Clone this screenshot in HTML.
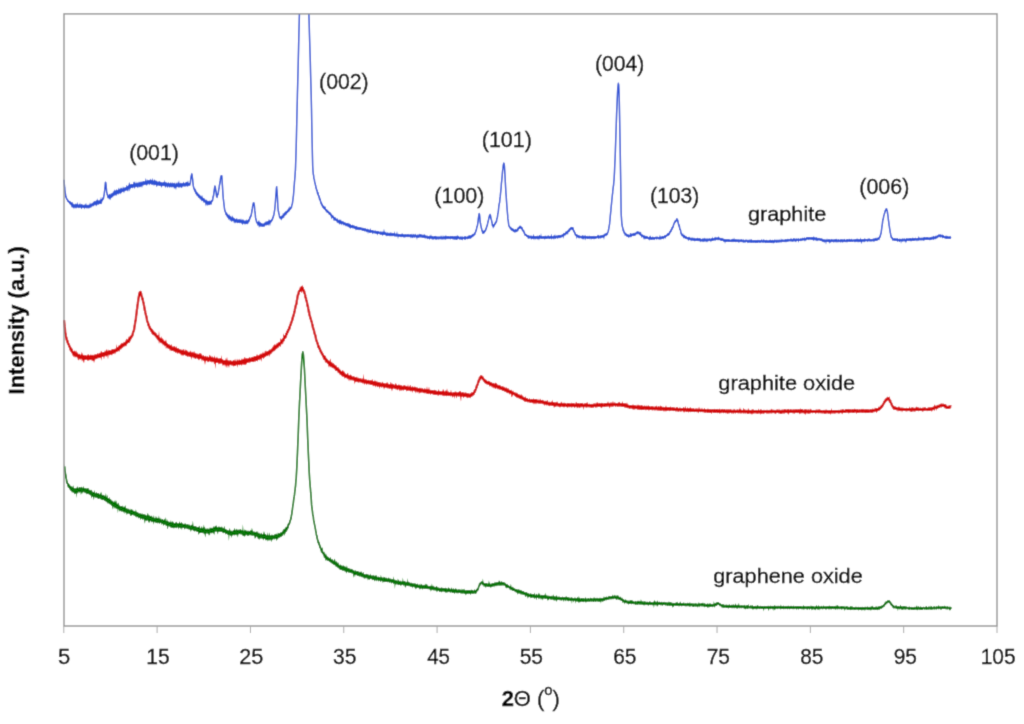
<!DOCTYPE html>
<html><head><meta charset="utf-8"><style>
html,body{margin:0;padding:0;background:#fff;}
body{width:1024px;height:724px;overflow:hidden;}
svg{display:block;}
text{font-family:"Liberation Sans",Arial,sans-serif;fill:#000;stroke:#000;stroke-width:0.35px;}
</style></head><body>
<svg width="1024" height="724" viewBox="0 0 1024 724">
<defs><filter id="bl" x="0" y="0" width="1024" height="724" filterUnits="userSpaceOnUse"><feConvolveMatrix order="3" kernelMatrix="0.0192 0.1001 0.0192 0.1001 0.5228 0.1001 0.0192 0.1001 0.0192" edgeMode="duplicate"/></filter><clipPath id="pc"><rect x="63" y="14" width="934" height="612"/></clipPath></defs>
<g filter="url(#bl)">
<rect width="1024" height="724" fill="#fff"/>
<g clip-path="url(#pc)" fill="none" stroke-width="1.5" stroke-linejoin="round">
<path fill="#2f52d4" stroke="none" d="M64.0,179.3 64.5,185.7 65.0,190.3 65.5,194.4 66.0,196.7 66.5,196.5 67.0,198.8 67.5,199.2 68.0,199.8 68.5,200.0 69.0,200.8 69.5,200.9 70.0,201.2 70.5,202.4 71.0,201.9 71.5,202.5 72.0,201.9 72.5,202.2 73.0,203.3 73.5,203.8 74.0,204.5 74.5,204.4 75.0,204.3 75.5,204.1 76.0,203.1 76.5,204.2 77.0,203.8 77.5,201.8 78.0,204.7 78.5,204.4 79.0,203.9 79.5,204.5 80.0,202.4 80.5,204.4 81.0,204.5 81.5,203.8 82.0,204.6 82.5,204.4 83.0,204.8 83.5,204.9 84.0,204.8 84.5,204.8 85.0,204.2 85.5,204.5 86.0,202.8 86.5,204.7 87.0,205.0 87.5,204.7 88.0,204.7 88.5,204.8 89.0,204.7 89.5,204.4 90.0,202.2 90.5,203.9 91.0,203.4 91.5,203.6 92.0,203.3 92.5,203.0 93.0,202.0 93.5,201.8 94.0,201.6 94.5,200.7 95.0,201.4 95.5,201.1 96.0,200.4 96.5,199.6 97.0,200.9 97.5,198.3 98.0,200.3 98.5,200.7 99.0,200.6 99.5,200.4 100.0,199.3 100.5,199.4 101.0,196.4 101.5,199.3 102.0,198.8 102.5,198.0 103.0,197.6 103.5,196.8 104.0,194.7 104.5,191.0 105.0,186.6 105.5,180.6 106.0,184.4 106.5,190.0 107.0,192.5 107.5,195.5 108.0,195.5 108.5,195.1 109.0,193.7 109.5,194.0 110.0,194.2 110.5,194.5 111.0,192.7 111.5,193.8 112.0,193.0 112.5,193.0 113.0,191.4 113.5,191.7 114.0,190.6 114.5,189.2 115.0,191.3 115.5,189.9 116.0,190.3 116.5,189.2 117.0,189.6 117.5,189.9 118.0,190.0 118.5,187.6 119.0,189.2 119.5,189.2 120.0,187.6 120.5,188.9 121.0,187.3 121.5,188.1 122.0,188.6 122.5,188.4 123.0,186.2 123.5,187.4 124.0,187.9 124.5,187.3 125.0,187.6 125.5,187.2 126.0,187.0 126.5,184.8 127.0,185.7 127.5,186.0 128.0,185.7 128.5,185.3 129.0,182.4 129.5,182.6 130.0,183.8 130.5,184.5 131.0,184.2 131.5,183.7 132.0,184.0 132.5,183.9 133.0,184.0 133.5,181.5 134.0,182.6 134.5,181.3 135.0,183.3 135.5,183.2 136.0,181.2 136.5,183.0 137.0,183.1 137.5,182.3 138.0,183.1 138.5,182.6 139.0,181.2 139.5,182.2 140.0,182.7 140.5,181.3 141.0,182.2 141.5,181.2 142.0,182.0 142.5,181.4 143.0,180.9 143.5,181.0 144.0,181.4 144.5,181.3 145.0,180.9 145.5,177.7 146.0,181.0 146.5,180.5 147.0,178.7 147.5,180.6 148.0,180.0 148.5,180.3 149.0,180.1 149.5,179.8 150.0,180.1 150.5,178.5 151.0,179.9 151.5,179.4 152.0,180.5 152.5,177.7 153.0,180.2 153.5,180.9 154.0,179.2 154.5,179.8 155.0,180.1 155.5,181.0 156.0,180.0 156.5,180.9 157.0,180.9 157.5,181.8 158.0,181.6 158.5,181.7 159.0,181.4 159.5,180.8 160.0,181.7 160.5,181.8 161.0,182.1 161.5,182.3 162.0,182.2 162.5,182.6 163.0,182.3 163.5,181.8 164.0,182.2 164.5,179.8 165.0,182.7 165.5,181.6 166.0,182.4 166.5,182.3 167.0,182.7 167.5,182.9 168.0,182.5 168.5,182.2 169.0,182.8 169.5,183.3 170.0,183.3 170.5,182.6 171.0,182.2 171.5,183.5 172.0,182.6 172.5,182.5 173.0,183.6 173.5,182.7 174.0,183.3 174.5,183.0 175.0,182.2 175.5,183.7 176.0,183.8 176.5,182.2 177.0,183.6 177.5,183.2 178.0,181.6 178.5,182.8 179.0,179.9 179.5,183.4 180.0,183.3 180.5,183.0 181.0,182.5 181.5,183.2 182.0,183.2 182.5,182.9 183.0,182.8 183.5,181.6 184.0,182.7 184.5,182.9 185.0,182.8 185.5,182.6 186.0,182.1 186.5,182.0 187.0,181.6 187.5,182.2 188.0,180.3 188.5,182.5 189.0,183.4 189.5,183.0 190.0,183.0 190.5,179.8 191.0,177.3 191.5,173.8 192.0,172.5 192.5,177.1 193.0,182.2 193.5,186.3 194.0,186.6 194.5,189.1 195.0,188.3 195.5,189.0 196.0,189.7 196.5,191.7 197.0,192.3 197.5,192.0 198.0,193.3 198.5,193.8 199.0,193.7 199.5,194.5 200.0,195.2 200.5,195.6 201.0,196.1 201.5,196.7 202.0,194.7 202.5,196.7 203.0,197.8 203.5,198.2 204.0,198.0 204.5,198.6 205.0,199.4 205.5,199.8 206.0,199.9 206.5,199.4 207.0,200.5 207.5,200.7 208.0,200.7 208.5,200.9 209.0,200.9 209.5,200.6 210.0,201.0 210.5,200.7 211.0,201.0 211.5,201.0 212.0,199.2 212.5,199.2 213.0,197.1 213.5,194.1 214.0,190.2 214.5,187.3 215.0,185.7 215.5,186.6 216.0,191.1 216.5,194.8 217.0,194.8 217.5,195.2 218.0,192.3 218.5,189.7 219.0,187.5 219.5,184.3 220.0,180.9 220.5,177.0 221.0,176.2 221.5,175.4 222.0,178.5 222.5,185.8 223.0,194.3 223.5,200.6 224.0,204.4 224.5,208.0 225.0,210.1 225.5,211.4 226.0,212.7 226.5,212.8 227.0,213.5 227.5,214.0 228.0,215.2 228.5,214.6 229.0,215.1 229.5,214.2 230.0,216.3 230.5,216.2 231.0,215.5 231.5,217.1 232.0,217.4 232.5,215.2 233.0,217.1 233.5,217.6 234.0,217.9 234.5,218.2 235.0,218.6 235.5,219.1 236.0,218.9 236.5,218.6 237.0,217.9 237.5,219.5 238.0,219.5 238.5,219.1 239.0,219.7 239.5,218.8 240.0,219.8 240.5,219.5 241.0,218.3 241.5,219.8 242.0,219.9 242.5,219.5 243.0,219.3 243.5,219.8 244.0,220.5 244.5,220.4 245.0,220.8 245.5,220.0 246.0,221.0 246.5,219.0 247.0,220.7 247.5,220.8 248.0,219.5 248.5,219.3 249.0,218.3 249.5,218.0 250.0,216.7 250.5,216.2 251.0,214.8 251.5,211.8 252.0,209.1 252.5,206.5 253.0,204.4 253.5,202.2 254.0,202.8 254.5,206.3 255.0,212.0 255.5,216.5 256.0,218.5 256.5,220.8 257.0,221.2 257.5,222.5 258.0,222.7 258.5,220.9 259.0,219.9 259.5,221.5 260.0,222.8 260.5,222.1 261.0,223.0 261.5,223.3 262.0,222.8 262.5,223.7 263.0,223.7 263.5,223.5 264.0,222.9 264.5,222.4 265.0,222.6 265.5,221.7 266.0,221.2 266.5,221.7 267.0,221.2 267.5,221.5 268.0,221.1 268.5,220.5 269.0,218.8 269.5,220.2 270.0,220.6 270.5,219.9 271.0,219.9 271.5,219.5 272.0,217.9 272.5,217.0 273.0,216.4 273.5,215.9 274.0,213.8 274.5,210.8 275.0,207.0 275.5,200.2 276.0,192.8 276.5,188.0 277.0,189.6 277.5,199.3 278.0,208.9 278.5,212.3 279.0,214.3 279.5,216.0 280.0,216.5 280.5,216.5 281.0,216.4 281.5,215.4 282.0,215.4 282.5,215.1 283.0,212.8 283.5,214.0 284.0,213.2 284.5,212.5 285.0,212.1 285.5,211.3 286.0,211.5 286.5,210.7 287.0,210.8 287.5,209.5 288.0,209.5 288.5,206.9 289.0,208.9 289.5,207.1 290.0,206.1 290.5,207.6 291.0,207.1 291.5,206.2 292.0,204.6 292.5,202.4 293.0,198.8 293.5,194.2 294.0,188.2 294.5,182.2 295.0,176.2 295.5,167.9 296.0,153.1 296.5,133.5 297.0,112.1 297.5,92.1 298.0,71.7 298.5,50.8 299.0,30.0 299.5,9.9 300.0,-10.9 300.5,-24.3 301.0,-34.6 301.5,-44.0 302.0,-52.5 302.5,-59.4 303.0,-64.9 303.5,-68.5 304.0,-70.3 304.5,-69.4 305.0,-66.7 305.5,-61.7 306.0,-55.0 306.5,-47.2 307.0,-38.0 307.5,-28.2 308.0,-17.8 308.5,-1.0 309.0,17.4 309.5,34.7 310.0,52.0 310.5,69.8 311.0,88.3 311.5,108.8 312.0,135.2 312.5,159.3 313.0,171.1 313.5,175.4 314.0,178.2 314.5,180.5 315.0,182.6 315.5,184.3 316.0,186.6 316.5,187.6 317.0,189.6 317.5,191.6 318.0,192.3 318.5,191.8 319.0,195.4 319.5,195.7 320.0,198.4 320.5,198.8 321.0,201.3 321.5,202.7 322.0,203.9 322.5,203.6 323.0,205.4 323.5,205.4 324.0,205.5 324.5,206.8 325.0,207.0 325.5,206.3 326.0,208.7 326.5,209.2 327.0,209.7 327.5,209.7 328.0,210.4 328.5,210.8 329.0,211.7 329.5,211.9 330.0,211.8 330.5,212.7 331.0,213.2 331.5,214.2 332.0,214.6 332.5,215.1 333.0,215.7 333.5,215.7 334.0,216.5 334.5,217.3 335.0,217.2 335.5,217.2 336.0,218.4 336.5,218.5 337.0,219.1 337.5,218.6 338.0,219.2 338.5,219.9 339.0,219.9 339.5,219.6 340.0,220.6 340.5,219.7 341.0,219.5 341.5,220.9 342.0,221.5 342.5,221.6 343.0,221.1 343.5,221.6 344.0,222.1 344.5,222.2 345.0,222.5 345.5,222.8 346.0,222.8 346.5,222.9 347.0,223.2 347.5,222.9 348.0,222.8 348.5,223.0 349.0,224.3 349.5,223.1 350.0,224.4 350.5,225.0 351.0,225.1 351.5,225.0 352.0,225.0 352.5,224.5 353.0,225.3 353.5,225.9 354.0,225.0 354.5,226.2 355.0,226.2 355.5,226.0 356.0,226.5 356.5,225.7 357.0,226.6 357.5,226.7 358.0,226.7 358.5,227.0 359.0,227.2 359.5,227.3 360.0,227.4 360.5,226.9 361.0,227.7 361.5,227.8 362.0,227.9 362.5,227.8 363.0,227.6 363.5,228.2 364.0,228.1 364.5,228.4 365.0,228.7 365.5,228.6 366.0,228.6 366.5,229.1 367.0,229.0 367.5,228.4 368.0,229.4 368.5,229.6 369.0,229.6 369.5,229.7 370.0,229.8 370.5,228.1 371.0,230.1 371.5,230.2 372.0,229.9 372.5,230.1 373.0,230.2 373.5,230.5 374.0,230.7 374.5,230.5 375.0,230.9 375.5,230.3 376.0,230.7 376.5,231.1 377.0,231.1 377.5,231.0 378.0,230.8 378.5,231.6 379.0,231.6 379.5,231.8 380.0,231.9 380.5,231.2 381.0,231.5 381.5,231.8 382.0,231.7 382.5,231.6 383.0,232.3 383.5,231.3 384.0,228.6 384.5,231.6 385.0,231.8 385.5,232.7 386.0,231.3 386.5,232.9 387.0,232.7 387.5,233.0 388.0,232.4 388.5,232.9 389.0,233.0 389.5,233.0 390.0,232.3 390.5,233.0 391.0,233.3 391.5,233.3 392.0,233.4 392.5,232.8 393.0,233.0 393.5,233.1 394.0,233.4 394.5,231.1 395.0,233.6 395.5,233.9 396.0,233.7 396.5,233.5 397.0,230.9 397.5,234.1 398.0,233.8 398.5,233.7 399.0,234.1 399.5,234.2 400.0,234.1 400.5,234.4 401.0,234.4 401.5,233.7 402.0,233.5 402.5,233.6 403.0,233.9 403.5,234.5 404.0,233.9 404.5,234.6 405.0,234.2 405.5,234.5 406.0,234.4 406.5,234.7 407.0,234.6 407.5,234.1 408.0,234.4 408.5,233.8 409.0,234.7 409.5,234.5 410.0,234.8 410.5,234.6 411.0,233.8 411.5,233.9 412.0,234.9 412.5,234.5 413.0,233.5 413.5,234.4 414.0,234.1 414.5,234.9 415.0,234.6 415.5,233.5 416.0,234.8 416.5,234.9 417.0,234.6 417.5,234.7 418.0,234.9 418.5,234.8 419.0,234.3 419.5,233.4 420.0,235.0 420.5,234.7 421.0,234.8 421.5,234.6 422.0,234.4 422.5,234.9 423.0,234.3 423.5,235.3 424.0,234.7 424.5,234.2 425.0,234.4 425.5,235.6 426.0,235.2 426.5,235.6 427.0,236.0 427.5,235.5 428.0,236.2 428.5,236.1 429.0,236.2 429.5,235.4 430.0,235.8 430.5,235.8 431.0,234.3 431.5,236.5 432.0,236.2 432.5,236.5 433.0,235.8 433.5,236.6 434.0,236.6 434.5,236.4 435.0,236.2 435.5,236.5 436.0,236.5 436.5,236.0 437.0,236.7 437.5,236.3 438.0,236.7 438.5,236.8 439.0,236.6 439.5,236.7 440.0,236.8 440.5,236.9 441.0,234.9 441.5,236.4 442.0,236.5 442.5,236.8 443.0,235.1 443.5,236.6 444.0,236.4 444.5,236.4 445.0,235.4 445.5,236.5 446.0,235.1 446.5,236.4 447.0,235.7 447.5,236.6 448.0,236.1 448.5,236.1 449.0,236.5 449.5,236.4 450.0,236.7 450.5,235.7 451.0,236.3 451.5,236.5 452.0,236.5 452.5,235.7 453.0,236.6 453.5,236.6 454.0,236.6 454.5,236.5 455.0,236.6 455.5,236.7 456.0,235.6 456.5,236.1 457.0,236.7 457.5,234.8 458.0,236.1 458.5,235.7 459.0,236.4 459.5,236.7 460.0,236.7 460.5,236.6 461.0,236.6 461.5,236.8 462.0,236.3 462.5,236.6 463.0,237.0 463.5,236.9 464.0,237.1 464.5,236.8 465.0,235.7 465.5,236.6 466.0,236.9 466.5,236.8 467.0,236.8 467.5,236.8 468.0,235.6 468.5,235.5 469.0,236.1 469.5,236.1 470.0,235.9 470.5,235.4 471.0,235.5 471.5,234.7 472.0,234.5 472.5,234.0 473.0,233.8 473.5,233.9 474.0,233.6 474.5,233.3 475.0,231.9 475.5,231.5 476.0,229.1 476.5,228.5 477.0,226.1 477.5,224.1 478.0,221.3 478.5,217.0 479.0,214.0 479.5,214.6 480.0,219.0 480.5,223.9 481.0,226.3 481.5,228.0 482.0,229.6 482.5,230.9 483.0,230.6 483.5,231.1 484.0,230.7 484.5,230.4 485.0,229.6 485.5,229.0 486.0,227.5 486.5,225.7 487.0,224.5 487.5,223.2 488.0,221.0 488.5,218.2 489.0,216.8 489.5,215.0 490.0,213.3 490.5,214.3 491.0,217.0 491.5,219.4 492.0,222.1 492.5,224.0 493.0,223.8 493.5,224.4 494.0,224.6 494.5,222.6 495.0,222.9 495.5,222.4 496.0,219.8 496.5,220.2 497.0,218.3 497.5,215.6 498.0,212.3 498.5,208.0 499.0,205.1 499.5,201.9 500.0,197.8 500.5,193.8 501.0,188.7 501.5,182.9 502.0,177.2 502.5,171.8 503.0,167.5 503.5,164.5 504.0,163.3 504.5,167.0 505.0,175.3 505.5,185.4 506.0,193.6 506.5,200.8 507.0,207.9 507.5,214.0 508.0,218.8 508.5,222.6 509.0,225.5 509.5,226.1 510.0,227.3 510.5,227.3 511.0,227.9 511.5,227.8 512.0,227.9 512.5,228.7 513.0,228.7 513.5,229.3 514.0,229.4 514.5,229.7 515.0,229.5 515.5,228.7 516.0,229.5 516.5,229.7 517.0,229.3 517.5,228.2 518.0,227.1 518.5,227.3 519.0,226.8 519.5,226.4 520.0,225.5 520.5,225.9 521.0,226.5 521.5,226.6 522.0,227.8 522.5,227.1 523.0,229.2 523.5,230.0 524.0,231.2 524.5,232.3 525.0,233.6 525.5,233.9 526.0,234.2 526.5,234.1 527.0,234.9 527.5,235.1 528.0,235.2 528.5,235.5 529.0,235.4 529.5,235.9 530.0,235.0 530.5,236.0 531.0,235.8 531.5,235.8 532.0,235.5 532.5,236.0 533.0,236.0 533.5,233.8 534.0,235.6 534.5,236.1 535.0,236.2 535.5,236.2 536.0,235.9 536.5,236.3 537.0,236.0 537.5,235.8 538.0,235.7 538.5,236.3 539.0,235.3 539.5,234.9 540.0,235.3 540.5,236.4 541.0,232.9 541.5,236.3 542.0,236.4 542.5,236.3 543.0,235.9 543.5,236.3 544.0,235.9 544.5,236.2 545.0,235.6 545.5,235.9 546.0,235.5 546.5,236.3 547.0,236.4 547.5,236.1 548.0,235.1 548.5,235.7 549.0,235.4 549.5,236.4 550.0,236.0 550.5,236.2 551.0,234.9 551.5,233.7 552.0,236.3 552.5,236.4 553.0,235.7 553.5,235.8 554.0,235.3 554.5,235.8 555.0,233.9 555.5,236.1 556.0,236.0 556.5,235.4 557.0,235.4 557.5,235.4 558.0,235.1 558.5,235.3 559.0,234.7 559.5,235.2 560.0,235.1 560.5,235.0 561.0,234.7 561.5,234.8 562.0,234.5 562.5,234.3 563.0,233.9 563.5,232.7 564.0,233.3 564.5,233.3 565.0,232.4 565.5,231.2 566.0,231.9 566.5,231.2 567.0,231.0 567.5,230.8 568.0,230.3 568.5,229.4 569.0,229.1 569.5,228.7 570.0,228.3 570.5,227.4 571.0,227.4 571.5,226.7 572.0,227.0 572.5,227.4 573.0,228.2 573.5,226.7 574.0,230.4 574.5,231.4 575.0,232.1 575.5,232.8 576.0,234.1 576.5,234.0 577.0,234.7 577.5,235.0 578.0,235.0 578.5,235.4 579.0,235.8 579.5,235.7 580.0,235.9 580.5,235.9 581.0,235.8 581.5,235.9 582.0,235.6 582.5,235.0 583.0,235.7 583.5,235.6 584.0,235.8 584.5,236.1 585.0,234.8 585.5,235.6 586.0,236.3 586.5,236.3 587.0,236.4 587.5,235.9 588.0,235.5 588.5,236.5 589.0,235.9 589.5,235.6 590.0,236.5 590.5,236.3 591.0,236.4 591.5,236.1 592.0,236.2 592.5,236.1 593.0,236.3 593.5,236.4 594.0,235.4 594.5,236.4 595.0,236.3 595.5,236.3 596.0,236.3 596.5,235.9 597.0,236.0 597.5,235.8 598.0,234.6 598.5,235.3 599.0,235.8 599.5,236.0 600.0,235.8 600.5,235.1 601.0,235.5 601.5,235.4 602.0,235.4 602.5,235.1 603.0,235.2 603.5,234.9 604.0,234.2 604.5,234.3 605.0,232.9 605.5,233.5 606.0,233.4 606.5,232.8 607.0,232.9 607.5,232.3 608.0,231.4 608.5,229.8 609.0,226.7 609.5,223.5 610.0,219.2 610.5,213.8 611.0,208.5 611.5,203.0 612.0,198.5 612.5,193.5 613.0,189.2 613.5,185.0 614.0,179.9 614.5,171.9 615.0,160.5 615.5,146.8 616.0,132.1 616.5,117.6 617.0,104.2 617.5,93.3 618.0,85.9 618.5,83.2 619.0,91.0 619.5,111.1 620.0,138.6 620.5,168.5 621.0,203.4 621.5,218.9 622.0,224.3 622.5,227.4 623.0,229.0 623.5,230.2 624.0,230.7 624.5,231.8 625.0,232.5 625.5,232.9 626.0,233.3 626.5,233.5 627.0,233.9 627.5,234.5 628.0,234.2 628.5,234.3 629.0,234.9 629.5,234.9 630.0,233.0 630.5,233.1 631.0,233.2 631.5,233.7 632.0,233.4 632.5,234.0 633.0,232.7 633.5,233.3 634.0,232.8 634.5,232.7 635.0,233.3 635.5,232.9 636.0,231.7 636.5,231.9 637.0,231.3 637.5,231.5 638.0,231.0 638.5,232.1 639.0,230.8 639.5,232.4 640.0,232.3 640.5,231.9 641.0,231.4 641.5,234.4 642.0,234.7 642.5,234.4 643.0,234.6 643.5,235.4 644.0,235.7 644.5,235.7 645.0,235.5 645.5,236.2 646.0,235.5 646.5,236.3 647.0,236.1 647.5,236.3 648.0,236.7 648.5,236.9 649.0,236.9 649.5,236.8 650.0,235.4 650.5,235.7 651.0,236.9 651.5,237.1 652.0,237.2 652.5,237.0 653.0,236.6 653.5,237.2 654.0,236.9 654.5,237.1 655.0,237.0 655.5,237.0 656.0,236.7 656.5,237.0 657.0,236.2 657.5,237.1 658.0,237.2 658.5,237.1 659.0,237.2 659.5,236.6 660.0,234.5 660.5,237.0 661.0,236.3 661.5,236.9 662.0,235.8 662.5,236.1 663.0,236.1 663.5,236.1 664.0,235.9 664.5,235.3 665.0,235.3 665.5,235.3 666.0,234.7 666.5,234.8 667.0,233.7 667.5,233.3 668.0,233.5 668.5,232.7 669.0,232.7 669.5,231.5 670.0,230.8 670.5,229.7 671.0,228.8 671.5,228.2 672.0,226.7 672.5,227.0 673.0,224.8 673.5,224.4 674.0,222.1 674.5,221.6 675.0,220.6 675.5,219.9 676.0,219.5 676.5,218.4 677.0,218.1 677.5,218.9 678.0,221.3 678.5,222.8 679.0,223.7 679.5,226.6 680.0,228.7 680.5,230.2 681.0,231.6 681.5,233.2 682.0,233.2 682.5,234.4 683.0,233.1 683.5,235.0 684.0,234.6 684.5,235.2 685.0,236.2 685.5,236.4 686.0,235.9 686.5,236.6 687.0,236.9 687.5,237.2 688.0,237.0 688.5,237.4 689.0,236.2 689.5,237.5 690.0,236.7 690.5,238.0 691.0,237.7 691.5,238.0 692.0,236.8 692.5,238.4 693.0,237.1 693.5,238.3 694.0,238.6 694.5,237.5 695.0,238.6 695.5,238.3 696.0,238.3 696.5,238.6 697.0,238.0 697.5,238.8 698.0,238.8 698.5,238.8 699.0,238.7 699.5,238.8 700.0,237.9 700.5,238.6 701.0,239.0 701.5,238.8 702.0,239.0 702.5,238.2 703.0,238.5 703.5,238.3 704.0,238.7 704.5,237.5 705.0,238.8 705.5,238.8 706.0,238.7 706.5,239.1 707.0,238.5 707.5,238.2 708.0,239.0 708.5,238.4 709.0,238.8 709.5,237.7 710.0,238.9 710.5,238.7 711.0,238.6 711.5,238.4 712.0,238.6 712.5,236.6 713.0,238.5 713.5,238.5 714.0,238.1 714.5,236.9 715.0,237.9 715.5,236.6 716.0,237.9 716.5,237.6 717.0,237.7 717.5,237.5 718.0,237.5 718.5,236.0 719.0,237.6 719.5,237.8 720.0,237.6 720.5,238.1 721.0,238.4 721.5,238.2 722.0,237.5 722.5,238.6 723.0,238.4 723.5,238.9 724.0,238.7 724.5,239.2 725.0,238.7 725.5,239.4 726.0,239.6 726.5,239.2 727.0,239.1 727.5,239.5 728.0,238.9 728.5,239.4 729.0,238.9 729.5,239.9 730.0,239.8 730.5,239.5 731.0,239.8 731.5,239.0 732.0,239.3 732.5,238.4 733.0,239.5 733.5,239.4 734.0,237.5 734.5,239.0 735.0,239.7 735.5,239.2 736.0,239.0 736.5,239.4 737.0,239.5 737.5,239.9 738.0,239.2 738.5,239.9 739.0,238.9 739.5,239.7 740.0,239.8 740.5,239.5 741.0,239.4 741.5,239.5 742.0,239.1 742.5,239.8 743.0,240.0 743.5,239.0 744.0,240.1 744.5,239.7 745.0,240.1 745.5,239.8 746.0,239.1 746.5,240.2 747.0,238.9 747.5,240.2 748.0,240.2 748.5,240.4 749.0,240.0 749.5,240.0 750.0,240.3 750.5,240.2 751.0,240.1 751.5,239.5 752.0,239.7 752.5,240.3 753.0,240.3 753.5,240.0 754.0,240.4 754.5,240.4 755.0,239.8 755.5,240.3 756.0,240.2 756.5,240.1 757.0,240.2 757.5,239.7 758.0,240.0 758.5,239.7 759.0,240.4 759.5,240.3 760.0,239.9 760.5,240.4 761.0,240.2 761.5,238.7 762.0,240.2 762.5,240.3 763.0,239.3 763.5,239.7 764.0,239.3 764.5,239.9 765.0,240.4 765.5,239.9 766.0,240.4 766.5,239.4 767.0,240.2 767.5,240.3 768.0,240.4 768.5,240.4 769.0,240.1 769.5,239.7 770.0,240.1 770.5,239.4 771.0,240.1 771.5,240.3 772.0,239.9 772.5,240.2 773.0,240.1 773.5,240.2 774.0,240.1 774.5,239.3 775.0,240.0 775.5,240.2 776.0,239.3 776.5,239.9 777.0,240.1 777.5,239.8 778.0,239.6 778.5,239.9 779.0,239.4 779.5,239.5 780.0,240.0 780.5,239.9 781.0,238.2 781.5,239.6 782.0,239.8 782.5,239.8 783.0,239.9 783.5,239.6 784.0,239.9 784.5,239.6 785.0,239.4 785.5,239.4 786.0,239.1 786.5,239.6 787.0,239.2 787.5,238.9 788.0,238.6 788.5,239.4 789.0,238.8 789.5,239.3 790.0,239.4 790.5,238.2 791.0,238.8 791.5,238.5 792.0,239.3 792.5,239.1 793.0,238.6 793.5,238.6 794.0,238.4 794.5,238.9 795.0,238.6 795.5,239.1 796.0,239.0 796.5,238.4 797.0,238.9 797.5,238.6 798.0,238.5 798.5,238.3 799.0,238.5 799.5,238.7 800.0,238.9 800.5,237.7 801.0,238.7 801.5,238.6 802.0,238.5 802.5,237.8 803.0,237.5 803.5,238.3 804.0,238.2 804.5,237.2 805.0,237.8 805.5,237.9 806.0,237.9 806.5,237.4 807.0,237.5 807.5,237.0 808.0,237.5 808.5,237.3 809.0,237.1 809.5,237.1 810.0,237.2 810.5,237.5 811.0,236.7 811.5,237.2 812.0,237.3 812.5,237.6 813.0,237.3 813.5,235.9 814.0,237.6 814.5,236.6 815.0,237.9 815.5,237.9 816.0,237.8 816.5,237.3 817.0,237.3 817.5,238.0 818.0,237.9 818.5,238.3 819.0,237.5 819.5,238.4 820.0,237.8 820.5,238.8 821.0,238.6 821.5,238.1 822.0,238.8 822.5,238.5 823.0,239.3 823.5,239.5 824.0,239.4 824.5,239.5 825.0,239.8 825.5,239.8 826.0,239.3 826.5,239.9 827.0,238.3 827.5,239.4 828.0,239.8 828.5,239.3 829.0,239.8 829.5,239.4 830.0,239.3 830.5,239.8 831.0,239.6 831.5,238.7 832.0,239.5 832.5,238.9 833.0,239.9 833.5,239.7 834.0,239.4 834.5,239.2 835.0,239.6 835.5,238.8 836.0,239.4 836.5,238.6 837.0,239.4 837.5,239.8 838.0,239.7 838.5,239.4 839.0,239.7 839.5,239.9 840.0,239.6 840.5,239.1 841.0,239.8 841.5,239.7 842.0,239.7 842.5,239.9 843.0,239.8 843.5,239.8 844.0,239.0 844.5,238.8 845.0,239.5 845.5,240.0 846.0,239.9 846.5,238.9 847.0,239.7 847.5,239.5 848.0,239.6 848.5,239.8 849.0,238.5 849.5,238.9 850.0,239.0 850.5,239.8 851.0,238.7 851.5,238.8 852.0,239.7 852.5,239.5 853.0,239.7 853.5,239.6 854.0,239.4 854.5,239.6 855.0,239.7 855.5,239.1 856.0,239.2 856.5,239.1 857.0,238.2 857.5,239.2 858.0,239.4 858.5,238.8 859.0,239.3 859.5,239.2 860.0,239.5 860.5,237.4 861.0,238.9 861.5,239.3 862.0,239.2 862.5,239.5 863.0,239.2 863.5,239.0 864.0,238.9 864.5,238.0 865.0,239.2 865.5,239.1 866.0,239.2 866.5,238.9 867.0,239.4 867.5,239.3 868.0,238.7 868.5,238.3 869.0,239.2 869.5,238.7 870.0,238.9 870.5,239.1 871.0,239.1 871.5,238.9 872.0,239.1 872.5,239.2 873.0,238.2 873.5,238.6 874.0,238.9 874.5,239.0 875.0,238.1 875.5,238.5 876.0,238.8 876.5,237.9 877.0,237.3 877.5,238.0 878.0,237.6 878.5,237.5 879.0,237.2 879.5,236.3 880.0,235.9 880.5,234.2 881.0,232.4 881.5,229.1 882.0,225.1 882.5,222.0 883.0,219.0 883.5,216.8 884.0,214.7 884.5,212.4 885.0,209.8 885.5,209.6 886.0,208.9 886.5,208.6 887.0,209.8 887.5,212.6 888.0,216.0 888.5,220.3 889.0,223.7 889.5,227.1 890.0,230.6 890.5,232.7 891.0,235.5 891.5,236.7 892.0,237.1 892.5,238.1 893.0,238.3 893.5,238.4 894.0,238.4 894.5,238.2 895.0,238.6 895.5,238.9 896.0,239.0 896.5,238.8 897.0,238.1 897.5,238.9 898.0,239.0 898.5,238.9 899.0,238.8 899.5,238.5 900.0,238.9 900.5,238.7 901.0,238.8 901.5,238.9 902.0,239.1 902.5,238.0 903.0,239.1 903.5,238.5 904.0,238.4 904.5,239.0 905.0,238.7 905.5,238.9 906.0,238.9 906.5,238.0 907.0,238.1 907.5,238.9 908.0,238.1 908.5,238.6 909.0,238.8 909.5,238.1 910.0,238.3 910.5,238.1 911.0,238.3 911.5,238.6 912.0,238.5 912.5,237.3 913.0,238.4 913.5,238.6 914.0,238.5 914.5,238.0 915.0,238.4 915.5,237.2 916.0,238.4 916.5,238.3 917.0,238.3 917.5,237.7 918.0,238.2 918.5,235.8 919.0,238.1 919.5,237.2 920.0,237.8 920.5,237.9 921.0,238.1 921.5,237.9 922.0,237.0 922.5,238.0 923.0,238.1 923.5,237.4 924.0,236.8 924.5,237.3 925.0,237.4 925.5,237.6 926.0,237.8 926.5,237.9 927.0,236.8 927.5,237.7 928.0,237.2 928.5,237.6 929.0,237.8 929.5,237.4 930.0,237.3 930.5,237.1 931.0,237.5 931.5,237.2 932.0,236.1 932.5,237.1 933.0,236.6 933.5,235.8 934.0,236.0 934.5,236.8 935.0,236.5 935.5,236.2 936.0,235.1 936.5,236.4 937.0,234.9 937.5,235.6 938.0,235.3 938.5,234.0 939.0,234.8 939.5,234.6 940.0,234.5 940.5,234.3 941.0,234.8 941.5,235.1 942.0,234.6 942.5,234.6 943.0,235.5 943.5,235.3 944.0,235.6 944.5,236.2 945.0,236.0 945.5,235.9 946.0,235.3 946.5,236.1 947.0,235.7 947.5,236.1 948.0,236.3 948.5,236.7 949.0,236.6 949.5,236.7 950.0,236.4 950.5,236.7 951.0,235.6 951.0,239.2 950.5,238.5 950.0,238.9 949.5,238.6 949.0,238.5 948.5,238.6 948.0,238.3 947.5,238.8 947.0,238.8 946.5,239.1 946.0,238.4 945.5,238.4 945.0,238.0 944.5,238.1 944.0,237.8 943.5,237.8 943.0,237.7 942.5,238.7 942.0,237.1 941.5,236.9 941.0,237.7 940.5,236.5 940.0,237.2 939.5,237.1 939.0,237.5 938.5,237.1 938.0,237.5 937.5,237.7 937.0,238.6 936.5,238.1 936.0,239.3 935.5,238.9 935.0,239.4 934.5,238.7 934.0,239.4 933.5,239.7 933.0,239.8 932.5,239.2 932.0,239.5 931.5,239.8 931.0,240.1 930.5,239.7 930.0,240.0 929.5,240.0 929.0,239.6 928.5,240.1 928.0,239.6 927.5,239.6 927.0,240.1 926.5,239.7 926.0,239.7 925.5,239.8 925.0,239.9 924.5,239.8 924.0,239.8 923.5,241.0 923.0,240.8 922.5,239.9 922.0,239.8 921.5,240.1 921.0,240.8 920.5,240.2 920.0,240.0 919.5,240.5 919.0,240.2 918.5,240.9 918.0,240.6 917.5,240.2 917.0,241.8 916.5,240.3 916.0,240.2 915.5,240.6 915.0,240.3 914.5,240.7 914.0,240.4 913.5,240.7 913.0,240.4 912.5,241.1 912.0,240.8 911.5,241.4 911.0,241.1 910.5,241.5 910.0,240.5 909.5,240.9 909.0,241.3 908.5,240.9 908.0,240.7 907.5,240.8 907.0,240.7 906.5,240.9 906.0,243.4 905.5,242.0 905.0,240.9 904.5,241.4 904.0,241.8 903.5,241.0 903.0,241.3 902.5,240.9 902.0,241.0 901.5,241.7 901.0,243.8 900.5,241.0 900.0,240.9 899.5,241.7 899.0,240.9 898.5,240.8 898.0,241.0 897.5,241.9 897.0,241.2 896.5,240.9 896.0,240.8 895.5,240.8 895.0,240.7 894.5,240.8 894.0,240.4 893.5,240.5 893.0,240.1 892.5,240.5 892.0,239.3 891.5,237.7 891.0,237.0 890.5,234.6 890.0,231.3 889.5,228.2 889.0,224.6 888.5,221.2 888.0,217.1 887.5,213.4 887.0,210.5 886.5,209.8 886.0,210.7 885.5,211.1 885.0,212.0 884.5,214.0 884.0,216.1 883.5,217.5 883.0,219.9 882.5,222.7 882.0,226.6 881.5,230.7 881.0,233.7 880.5,235.2 880.0,237.0 879.5,240.4 879.0,239.2 878.5,239.9 878.0,240.2 877.5,240.4 877.0,240.4 876.5,240.4 876.0,240.5 875.5,240.7 875.0,241.3 874.5,241.1 874.0,241.3 873.5,241.5 873.0,242.0 872.5,240.9 872.0,241.2 871.5,241.4 871.0,240.9 870.5,241.0 870.0,241.7 869.5,241.0 869.0,241.2 868.5,241.1 868.0,242.2 867.5,241.8 867.0,241.2 866.5,241.1 866.0,241.3 865.5,241.4 865.0,241.2 864.5,242.5 864.0,241.2 863.5,241.3 863.0,242.7 862.5,241.4 862.0,241.6 861.5,243.9 861.0,243.1 860.5,241.5 860.0,242.0 859.5,241.3 859.0,242.7 858.5,241.9 858.0,241.8 857.5,242.6 857.0,241.3 856.5,242.2 856.0,241.3 855.5,241.9 855.0,242.6 854.5,241.9 854.0,241.7 853.5,241.4 853.0,241.6 852.5,241.4 852.0,241.6 851.5,241.6 851.0,241.6 850.5,241.9 850.0,241.7 849.5,242.1 849.0,241.8 848.5,241.6 848.0,242.2 847.5,241.7 847.0,242.7 846.5,241.8 846.0,242.5 845.5,241.8 845.0,242.4 844.5,241.8 844.0,241.8 843.5,242.6 843.0,241.7 842.5,243.0 842.0,242.0 841.5,241.7 841.0,242.3 840.5,242.8 840.0,241.7 839.5,242.0 839.0,242.1 838.5,241.7 838.0,243.2 837.5,241.7 837.0,242.2 836.5,242.4 836.0,242.0 835.5,241.8 835.0,242.4 834.5,242.1 834.0,242.2 833.5,242.6 833.0,242.2 832.5,241.9 832.0,241.9 831.5,242.0 831.0,242.5 830.5,242.0 830.0,243.2 829.5,243.4 829.0,241.6 828.5,242.5 828.0,241.9 827.5,241.9 827.0,241.7 826.5,242.1 826.0,244.7 825.5,241.9 825.0,242.2 824.5,242.6 824.0,242.1 823.5,242.0 823.0,242.2 822.5,241.5 822.0,241.1 821.5,241.6 821.0,240.7 820.5,240.9 820.0,240.5 819.5,240.3 819.0,240.4 818.5,240.2 818.0,240.8 817.5,240.5 817.0,241.4 816.5,240.6 816.0,240.1 815.5,240.8 815.0,239.7 814.5,240.0 814.0,240.9 813.5,240.6 813.0,240.4 812.5,239.7 812.0,239.9 811.5,239.3 811.0,239.6 810.5,239.6 810.0,239.2 809.5,239.3 809.0,240.5 808.5,239.3 808.0,239.5 807.5,239.6 807.0,239.5 806.5,239.5 806.0,240.4 805.5,239.9 805.0,241.7 804.5,240.7 804.0,240.3 803.5,240.4 803.0,240.4 802.5,240.5 802.0,240.6 801.5,240.6 801.0,241.6 800.5,240.9 800.0,240.7 799.5,240.7 799.0,240.9 798.5,242.7 798.0,241.3 797.5,240.9 797.0,241.1 796.5,241.3 796.0,242.6 795.5,241.5 795.0,241.5 794.5,241.1 794.0,241.2 793.5,241.4 793.0,241.1 792.5,241.6 792.0,241.1 791.5,241.6 791.0,241.1 790.5,241.5 790.0,241.6 789.5,241.3 789.0,241.2 788.5,241.3 788.0,241.5 787.5,241.7 787.0,241.6 786.5,242.0 786.0,242.5 785.5,241.7 785.0,242.1 784.5,242.2 784.0,241.7 783.5,242.0 783.0,242.3 782.5,241.9 782.0,241.9 781.5,241.9 781.0,241.9 780.5,241.9 780.0,242.6 779.5,242.5 779.0,242.0 778.5,243.0 778.0,242.0 777.5,242.4 777.0,242.3 776.5,243.1 776.0,242.4 775.5,242.2 775.0,242.2 774.5,242.1 774.0,243.4 773.5,242.8 773.0,243.7 772.5,242.2 772.0,243.2 771.5,243.0 771.0,242.8 770.5,242.5 770.0,243.3 769.5,242.4 769.0,242.5 768.5,242.2 768.0,242.3 767.5,243.1 767.0,243.0 766.5,242.2 766.0,242.7 765.5,243.2 765.0,242.4 764.5,242.5 764.0,242.6 763.5,242.5 763.0,242.2 762.5,242.4 762.0,242.4 761.5,242.2 761.0,242.2 760.5,242.7 760.0,242.5 759.5,242.2 759.0,242.5 758.5,242.6 758.0,242.4 757.5,242.9 757.0,243.0 756.5,242.4 756.0,242.5 755.5,242.8 755.0,243.2 754.5,242.4 754.0,242.3 753.5,243.0 753.0,242.3 752.5,242.2 752.0,243.3 751.5,242.5 751.0,243.0 750.5,242.5 750.0,242.2 749.5,242.6 749.0,242.5 748.5,242.4 748.0,242.5 747.5,243.3 747.0,242.1 746.5,242.2 746.0,242.1 745.5,242.2 745.0,242.3 744.5,242.7 744.0,242.3 743.5,242.3 743.0,242.6 742.5,242.3 742.0,242.1 741.5,241.9 741.0,242.4 740.5,241.7 740.0,241.8 739.5,242.8 739.0,241.8 738.5,242.9 738.0,241.9 737.5,241.9 737.0,242.2 736.5,241.9 736.0,241.9 735.5,242.2 735.0,242.1 734.5,242.0 734.0,241.7 733.5,242.3 733.0,241.8 732.5,242.0 732.0,242.3 731.5,241.9 731.0,242.0 730.5,242.0 730.0,241.9 729.5,241.8 729.0,241.8 728.5,242.0 728.0,241.7 727.5,241.6 727.0,241.7 726.5,241.9 726.0,241.5 725.5,242.0 725.0,243.8 724.5,241.4 724.0,241.9 723.5,241.3 723.0,241.1 722.5,241.1 722.0,240.6 721.5,240.8 721.0,240.2 720.5,241.0 720.0,240.0 719.5,240.1 719.0,240.0 718.5,240.1 718.0,240.7 717.5,239.5 717.0,240.4 716.5,239.7 716.0,240.1 715.5,240.8 715.0,240.4 714.5,240.2 714.0,240.5 713.5,240.3 713.0,241.0 712.5,241.0 712.0,240.6 711.5,240.8 711.0,242.4 710.5,240.9 710.0,241.2 709.5,240.8 709.0,241.5 708.5,241.2 708.0,240.9 707.5,241.7 707.0,242.5 706.5,241.2 706.0,242.4 705.5,241.1 705.0,241.4 704.5,241.3 704.0,241.6 703.5,241.5 703.0,242.6 702.5,241.2 702.0,241.6 701.5,240.9 701.0,240.9 700.5,242.5 700.0,241.0 699.5,241.4 699.0,240.8 698.5,240.8 698.0,241.3 697.5,241.0 697.0,240.7 696.5,241.1 696.0,241.0 695.5,241.0 695.0,240.8 694.5,241.6 694.0,241.1 693.5,240.6 693.0,241.2 692.5,240.5 692.0,240.3 691.5,240.7 691.0,241.5 690.5,240.3 690.0,240.1 689.5,240.2 689.0,239.7 688.5,240.9 688.0,240.5 687.5,239.2 687.0,239.1 686.5,239.1 686.0,238.7 685.5,238.9 685.0,238.8 684.5,237.9 684.0,238.0 683.5,237.6 683.0,236.9 682.5,236.1 682.0,235.5 681.5,236.4 681.0,234.0 680.5,231.9 680.0,230.4 679.5,228.8 679.0,228.5 678.5,224.8 678.0,223.8 677.5,221.0 677.0,220.4 676.5,220.4 676.0,221.5 675.5,222.5 675.0,222.8 674.5,223.7 674.0,224.9 673.5,226.2 673.0,228.0 672.5,228.8 672.0,230.3 671.5,231.1 671.0,231.9 670.5,232.4 670.0,233.4 669.5,234.6 669.0,235.3 668.5,236.1 668.0,235.9 667.5,236.0 667.0,236.4 666.5,236.8 666.0,237.0 665.5,238.7 665.0,237.7 664.5,238.1 664.0,237.9 663.5,239.7 663.0,238.3 662.5,239.1 662.0,239.0 661.5,239.3 661.0,239.5 660.5,239.4 660.0,239.4 659.5,239.2 659.0,240.2 658.5,239.0 658.0,239.2 657.5,239.1 657.0,239.4 656.5,239.4 656.0,239.2 655.5,239.1 655.0,239.0 654.5,239.7 654.0,240.3 653.5,239.5 653.0,239.3 652.5,239.2 652.0,239.9 651.5,239.3 651.0,239.1 650.5,239.1 650.0,239.0 649.5,240.7 649.0,239.8 648.5,239.6 648.0,238.8 647.5,238.9 647.0,238.8 646.5,238.6 646.0,238.8 645.5,239.4 645.0,238.2 644.5,240.1 644.0,237.5 643.5,239.8 643.0,237.5 642.5,236.9 642.0,237.0 641.5,238.1 641.0,236.2 640.5,235.7 640.0,235.2 639.5,235.2 639.0,234.6 638.5,234.3 638.0,233.9 637.5,233.9 637.0,234.9 636.5,234.0 636.0,234.6 635.5,235.3 635.0,235.3 634.5,235.5 634.0,236.3 633.5,236.1 633.0,235.9 632.5,236.0 632.0,236.2 631.5,236.4 631.0,237.4 630.5,236.6 630.0,237.8 629.5,237.1 629.0,237.3 628.5,237.9 628.0,237.1 627.5,236.7 627.0,236.3 626.5,236.2 626.0,235.5 625.5,235.0 625.0,234.2 624.5,233.4 624.0,232.4 623.5,231.3 623.0,229.4 622.5,227.4 622.0,224.3 621.5,218.9 621.0,203.4 620.5,168.5 620.0,138.6 619.5,111.2 619.0,91.0 618.5,83.2 618.0,85.9 617.5,93.4 617.0,104.3 616.5,117.7 616.0,132.3 615.5,146.9 615.0,160.6 614.5,172.0 614.0,180.0 613.5,185.2 613.0,189.4 612.5,194.2 612.0,199.0 611.5,204.0 611.0,209.0 610.5,214.8 610.0,219.8 609.5,224.0 609.0,227.6 608.5,230.6 608.0,232.4 607.5,233.6 607.0,234.2 606.5,236.4 606.0,235.6 605.5,236.0 605.0,236.3 604.5,236.9 604.0,240.1 603.5,237.8 603.0,237.5 602.5,237.3 602.0,238.0 601.5,238.0 601.0,238.5 600.5,238.3 600.0,238.6 599.5,238.0 599.0,239.0 598.5,238.7 598.0,238.0 597.5,238.1 597.0,238.2 596.5,238.5 596.0,238.5 595.5,239.1 595.0,238.2 594.5,238.8 594.0,239.8 593.5,238.8 593.0,238.5 592.5,238.3 592.0,238.4 591.5,239.0 591.0,240.0 590.5,238.4 590.0,238.3 589.5,239.5 589.0,238.6 588.5,238.4 588.0,239.2 587.5,238.9 587.0,238.8 586.5,238.3 586.0,238.2 585.5,239.4 585.0,240.4 584.5,238.3 584.0,238.5 583.5,239.0 583.0,239.9 582.5,238.7 582.0,238.7 581.5,238.2 581.0,238.0 580.5,237.9 580.0,237.8 579.5,238.3 579.0,238.1 578.5,238.5 578.0,237.5 577.5,237.7 577.0,237.2 576.5,239.5 576.0,236.1 575.5,235.5 575.0,235.9 574.5,233.7 574.0,232.4 573.5,231.7 573.0,230.1 572.5,229.4 572.0,228.8 571.5,229.0 571.0,229.3 570.5,229.8 570.0,231.4 569.5,231.2 569.0,231.5 568.5,231.8 568.0,235.0 567.5,234.0 567.0,233.8 566.5,233.6 566.0,234.8 565.5,235.8 565.0,235.1 564.5,235.8 564.0,236.5 563.5,239.0 563.0,236.3 562.5,236.5 562.0,238.0 561.5,237.0 561.0,237.3 560.5,237.1 560.0,237.3 559.5,237.7 559.0,238.2 558.5,238.2 558.0,237.9 557.5,238.2 557.0,238.3 556.5,238.1 556.0,238.2 555.5,239.2 555.0,238.1 554.5,238.6 554.0,239.8 553.5,239.1 553.0,238.2 552.5,239.1 552.0,238.3 551.5,239.8 551.0,239.1 550.5,238.3 550.0,238.7 549.5,239.3 549.0,238.6 548.5,238.4 548.0,238.4 547.5,238.4 547.0,238.9 546.5,238.8 546.0,239.1 545.5,238.7 545.0,239.4 544.5,239.4 544.0,238.4 543.5,238.7 543.0,238.3 542.5,238.4 542.0,239.0 541.5,238.7 541.0,238.7 540.5,238.5 540.0,238.8 539.5,238.5 539.0,240.8 538.5,238.5 538.0,238.9 537.5,239.2 537.0,239.7 536.5,238.5 536.0,239.0 535.5,238.7 535.0,240.5 534.5,238.6 534.0,239.1 533.5,239.8 533.0,238.4 532.5,238.4 532.0,238.7 531.5,239.4 531.0,239.4 530.5,238.1 530.0,238.2 529.5,238.1 529.0,237.9 528.5,238.7 528.0,239.1 527.5,237.4 527.0,236.9 526.5,237.1 526.0,236.1 525.5,235.8 525.0,235.4 524.5,234.4 524.0,234.2 523.5,232.8 523.0,231.3 522.5,230.2 522.0,230.1 521.5,229.3 521.0,228.5 520.5,228.4 520.0,228.2 519.5,229.3 519.0,228.8 518.5,229.9 518.0,230.8 517.5,231.5 517.0,231.5 516.5,231.7 516.0,232.5 515.5,232.3 515.0,231.8 514.5,232.8 514.0,232.2 513.5,231.5 513.0,231.9 512.5,231.1 512.0,230.8 511.5,230.6 511.0,230.5 510.5,229.3 510.0,228.7 509.5,227.4 509.0,226.3 508.5,223.7 508.0,219.2 507.5,214.4 507.0,208.2 506.5,201.1 506.0,193.8 505.5,185.6 505.0,175.6 504.5,167.2 504.0,163.6 503.5,164.7 503.0,167.9 502.5,172.5 502.0,177.7 501.5,183.5 501.0,189.9 500.5,194.7 500.0,198.8 499.5,202.3 499.0,206.4 498.5,209.9 498.0,213.3 497.5,216.4 497.0,219.1 496.5,221.5 496.0,222.8 495.5,223.9 495.0,224.8 494.5,225.9 494.0,227.6 493.5,227.4 493.0,229.1 492.5,225.7 492.0,223.4 491.5,220.9 491.0,219.0 490.5,216.8 490.0,216.5 489.5,216.7 489.0,218.5 488.5,221.7 488.0,222.7 487.5,224.7 487.0,226.6 486.5,228.3 486.0,229.9 485.5,231.0 485.0,231.9 484.5,232.1 484.0,234.4 483.5,232.8 483.0,233.4 482.5,232.9 482.0,231.0 481.5,228.9 481.0,226.8 480.5,224.5 480.0,220.0 479.5,215.3 479.0,215.0 478.5,217.7 478.0,222.1 477.5,225.4 477.0,228.2 476.5,229.7 476.0,232.2 475.5,233.2 475.0,234.5 474.5,235.1 474.0,235.4 473.5,236.7 473.0,236.4 472.5,237.5 472.0,237.1 471.5,238.6 471.0,237.7 470.5,238.6 470.0,239.1 469.5,238.3 469.0,238.6 468.5,238.4 468.0,239.0 467.5,239.4 467.0,239.1 466.5,238.9 466.0,239.0 465.5,240.2 465.0,239.3 464.5,239.9 464.0,239.3 463.5,239.1 463.0,239.1 462.5,240.7 462.0,239.2 461.5,240.1 461.0,239.4 460.5,239.7 460.0,239.3 459.5,239.7 459.0,239.4 458.5,238.8 458.0,238.9 457.5,239.9 457.0,238.8 456.5,238.7 456.0,238.7 455.5,239.1 455.0,239.8 454.5,239.0 454.0,239.3 453.5,239.5 453.0,239.1 452.5,239.6 452.0,239.1 451.5,238.8 451.0,238.8 450.5,239.7 450.0,238.7 449.5,239.0 449.0,239.2 448.5,238.9 448.0,238.8 447.5,239.3 447.0,238.9 446.5,239.1 446.0,239.7 445.5,238.8 445.0,238.7 444.5,239.5 444.0,239.2 443.5,239.3 443.0,238.9 442.5,239.2 442.0,239.1 441.5,239.5 441.0,239.1 440.5,239.3 440.0,239.3 439.5,239.1 439.0,239.7 438.5,239.2 438.0,239.5 437.5,239.3 437.0,239.0 436.5,239.6 436.0,239.8 435.5,239.4 435.0,239.2 434.5,239.3 434.0,238.7 433.5,239.5 433.0,240.0 432.5,238.9 432.0,240.0 431.5,238.8 431.0,238.6 430.5,238.6 430.0,238.7 429.5,240.2 429.0,238.7 428.5,238.4 428.0,238.4 427.5,239.6 427.0,238.6 426.5,237.9 426.0,237.8 425.5,238.5 425.0,238.7 424.5,238.0 424.0,238.0 423.5,237.6 423.0,237.5 422.5,237.5 422.0,237.5 421.5,237.3 421.0,237.9 420.5,237.2 420.0,237.1 419.5,237.1 419.0,237.5 418.5,237.9 418.0,237.1 417.5,237.2 417.0,240.0 416.5,237.9 416.0,237.3 415.5,237.2 415.0,237.4 414.5,237.5 414.0,238.1 413.5,237.0 413.0,237.0 412.5,238.6 412.0,237.0 411.5,237.1 411.0,238.4 410.5,237.6 410.0,237.0 409.5,236.9 409.0,237.4 408.5,237.0 408.0,237.1 407.5,237.1 407.0,237.1 406.5,236.8 406.0,236.9 405.5,237.5 405.0,236.8 404.5,236.8 404.0,236.9 403.5,237.7 403.0,236.7 402.5,237.2 402.0,236.8 401.5,236.8 401.0,237.8 400.5,236.6 400.0,236.8 399.5,236.5 399.0,237.0 398.5,236.6 398.0,239.2 397.5,236.2 397.0,236.8 396.5,236.2 396.0,237.3 395.5,236.1 395.0,236.5 394.5,236.1 394.0,236.3 393.5,236.0 393.0,236.1 392.5,236.3 392.0,235.9 391.5,236.0 391.0,235.7 390.5,235.9 390.0,235.5 389.5,236.3 389.0,235.5 388.5,235.7 388.0,236.3 387.5,236.0 387.0,235.6 386.5,236.4 386.0,235.4 385.5,234.9 385.0,234.9 384.5,234.8 384.0,234.8 383.5,235.0 383.0,235.2 382.5,235.7 382.0,235.0 381.5,234.8 381.0,234.2 380.5,234.3 380.0,234.9 379.5,234.1 379.0,234.0 378.5,233.9 378.0,233.8 377.5,235.4 377.0,234.4 376.5,233.8 376.0,233.8 375.5,233.6 375.0,233.8 374.5,233.4 374.0,233.1 373.5,233.2 373.0,233.7 372.5,234.2 372.0,232.6 371.5,232.6 371.0,232.8 370.5,232.7 370.0,233.0 369.5,232.5 369.0,232.7 368.5,231.9 368.0,233.9 367.5,231.5 367.0,232.4 366.5,232.0 366.0,231.4 365.5,231.1 365.0,232.3 364.5,231.0 364.0,231.3 363.5,230.6 363.0,230.9 362.5,230.3 362.0,230.2 361.5,230.2 361.0,229.9 360.5,230.1 360.0,230.0 359.5,230.0 359.0,230.6 358.5,229.6 358.0,230.3 357.5,229.4 357.0,230.0 356.5,229.3 356.0,230.6 355.5,229.7 355.0,228.5 354.5,229.1 354.0,228.5 353.5,228.3 353.0,228.2 352.5,228.6 352.0,227.9 351.5,228.0 351.0,228.0 350.5,229.2 350.0,227.3 349.5,228.3 349.0,227.8 348.5,226.7 348.0,227.2 347.5,226.1 347.0,226.2 346.5,226.3 346.0,225.7 345.5,226.4 345.0,225.0 344.5,225.4 344.0,224.7 343.5,224.5 343.0,225.6 342.5,224.1 342.0,224.1 341.5,225.5 341.0,223.8 340.5,223.9 340.0,224.6 339.5,224.4 339.0,223.5 338.5,223.4 338.0,222.2 337.5,223.3 337.0,222.7 336.5,221.7 336.0,220.8 335.5,220.4 335.0,220.0 334.5,220.2 334.0,221.1 333.5,220.2 333.0,218.5 332.5,218.0 332.0,217.6 331.5,219.5 331.0,217.5 330.5,215.6 330.0,215.3 329.5,214.6 329.0,215.3 328.5,213.8 328.0,213.1 327.5,213.1 327.0,212.6 326.5,212.7 326.0,211.1 325.5,211.1 325.0,210.0 324.5,209.6 324.0,209.3 323.5,208.7 323.0,208.3 322.5,207.4 322.0,206.0 321.5,205.1 321.0,204.7 320.5,203.0 320.0,200.7 319.5,199.7 319.0,200.7 318.5,196.4 318.0,195.7 317.5,193.9 317.0,191.9 316.5,190.1 316.0,188.3 315.5,186.2 315.0,184.4 314.5,181.4 314.0,178.3 313.5,175.4 313.0,171.2 312.5,159.4 312.0,135.3 311.5,108.8 311.0,88.4 310.5,69.8 310.0,52.1 309.5,34.8 309.0,17.5 308.5,-0.9 308.0,-17.6 307.5,-28.2 307.0,-37.9 306.5,-46.8 306.0,-54.7 305.5,-61.2 305.0,-65.9 304.5,-68.8 304.0,-69.6 303.5,-68.1 303.0,-64.6 302.5,-58.9 302.0,-52.2 301.5,-43.9 301.0,-34.5 300.5,-24.2 300.0,-10.8 299.5,10.0 299.0,30.1 298.5,50.9 298.0,71.8 297.5,92.2 297.0,112.2 296.5,133.5 296.0,153.3 295.5,168.0 295.0,176.3 294.5,182.3 294.0,188.5 293.5,194.8 293.0,199.7 292.5,203.8 292.0,205.6 291.5,207.3 291.0,208.7 290.5,209.8 290.0,210.6 289.5,211.5 289.0,211.8 288.5,211.8 288.0,212.2 287.5,212.8 287.0,214.1 286.5,214.6 286.0,214.9 285.5,215.3 285.0,216.3 284.5,215.8 284.0,218.5 283.5,217.6 283.0,218.1 282.5,218.2 282.0,219.2 281.5,220.2 281.0,220.3 280.5,218.9 280.0,218.6 279.5,216.5 279.0,214.7 278.5,212.7 278.0,209.5 277.5,199.7 277.0,190.1 276.5,188.4 276.0,193.2 275.5,200.7 275.0,207.6 274.5,211.6 274.0,214.7 273.5,216.8 273.0,219.0 272.5,219.7 272.0,222.1 271.5,221.9 271.0,222.7 270.5,223.6 270.0,226.2 269.5,224.4 269.0,224.1 268.5,225.5 268.0,225.5 267.5,224.9 267.0,224.9 266.5,225.7 266.0,225.0 265.5,225.5 265.0,226.0 264.5,227.0 264.0,226.2 263.5,226.7 263.0,226.6 262.5,227.1 262.0,226.8 261.5,226.4 261.0,226.8 260.5,226.2 260.0,226.6 259.5,226.4 259.0,227.9 258.5,225.2 258.0,225.8 257.5,225.6 257.0,223.9 256.5,222.7 256.0,219.7 255.5,217.4 255.0,213.3 254.5,208.0 254.0,204.0 253.5,203.6 253.0,205.1 252.5,209.9 252.0,211.9 251.5,214.3 251.0,216.5 250.5,217.9 250.0,219.3 249.5,221.1 249.0,221.6 248.5,223.3 248.0,223.7 247.5,224.4 247.0,223.8 246.5,224.2 246.0,224.0 245.5,224.1 245.0,225.1 244.5,224.1 244.0,223.6 243.5,223.4 243.0,224.4 242.5,225.0 242.0,223.8 241.5,223.6 241.0,223.6 240.5,223.1 240.0,222.7 239.5,223.4 239.0,222.8 238.5,222.7 238.0,222.6 237.5,223.0 237.0,222.9 236.5,222.5 236.0,222.3 235.5,222.5 235.0,223.7 234.5,221.9 234.0,223.5 233.5,221.3 233.0,221.1 232.5,221.2 232.0,220.6 231.5,222.0 231.0,221.6 230.5,219.9 230.0,221.3 229.5,219.6 229.0,219.1 228.5,220.0 228.0,218.3 227.5,217.9 227.0,217.0 226.5,215.9 226.0,215.5 225.5,214.8 225.0,211.4 224.5,209.3 224.0,205.5 223.5,201.4 223.0,195.5 222.5,186.5 222.0,179.0 221.5,175.9 221.0,176.7 220.5,179.3 220.0,185.0 219.5,186.4 219.0,189.2 218.5,193.9 218.0,194.8 217.5,198.6 217.0,197.7 216.5,196.0 216.0,192.3 215.5,189.9 215.0,187.2 214.5,191.3 214.0,192.4 213.5,197.3 213.0,198.5 212.5,201.2 212.0,202.9 211.5,205.2 211.0,203.8 210.5,204.4 210.0,205.0 209.5,205.3 209.0,204.8 208.5,205.4 208.0,204.6 207.5,206.3 207.0,204.3 206.5,206.1 206.0,203.6 205.5,206.5 205.0,203.1 204.5,202.3 204.0,202.7 203.5,202.4 203.0,201.3 202.5,200.7 202.0,201.4 201.5,200.8 201.0,200.3 200.5,199.2 200.0,199.6 199.5,198.4 199.0,197.7 198.5,197.2 198.0,196.6 197.5,196.4 197.0,195.7 196.5,195.7 196.0,194.3 195.5,194.3 195.0,192.4 194.5,190.5 194.0,189.4 193.5,187.3 193.0,184.6 192.5,178.5 192.0,175.2 191.5,175.2 191.0,178.9 190.5,182.6 190.0,184.6 189.5,185.8 189.0,185.3 188.5,186.2 188.0,186.2 187.5,187.0 187.0,186.1 186.5,186.2 186.0,186.5 185.5,186.4 185.0,186.4 184.5,186.4 184.0,186.7 183.5,186.3 183.0,186.7 182.5,186.5 182.0,188.3 181.5,187.8 181.0,187.5 180.5,186.9 180.0,187.7 179.5,187.1 179.0,187.9 178.5,187.6 178.0,187.0 177.5,187.1 177.0,187.4 176.5,187.0 176.0,190.5 175.5,187.6 175.0,189.3 174.5,187.8 174.0,188.8 173.5,187.1 173.0,187.2 172.5,187.0 172.0,187.8 171.5,187.2 171.0,186.9 170.5,187.0 170.0,187.7 169.5,187.7 169.0,186.5 168.5,186.5 168.0,187.4 167.5,187.9 167.0,186.4 166.5,186.3 166.0,187.4 165.5,187.6 165.0,186.9 164.5,186.1 164.0,186.3 163.5,186.1 163.0,186.0 162.5,186.0 162.0,186.8 161.5,187.8 161.0,186.7 160.5,185.9 160.0,185.7 159.5,185.9 159.0,186.0 158.5,185.6 158.0,185.5 157.5,185.5 157.0,186.7 156.5,187.0 156.0,185.1 155.5,185.3 155.0,185.1 154.5,185.0 154.0,186.0 153.5,184.9 153.0,184.2 152.5,185.2 152.0,184.6 151.5,185.1 151.0,184.0 150.5,184.2 150.0,184.1 149.5,185.5 149.0,183.9 148.5,183.8 148.0,185.4 147.5,184.0 147.0,185.4 146.5,185.3 146.0,185.5 145.5,184.6 145.0,184.9 144.5,184.8 144.0,185.3 143.5,185.6 143.0,185.2 142.5,186.0 142.0,188.1 141.5,186.3 141.0,186.7 140.5,186.6 140.0,187.8 139.5,187.0 139.0,186.4 138.5,187.1 138.0,188.2 137.5,187.8 137.0,186.8 136.5,187.2 136.0,187.1 135.5,187.3 135.0,187.7 134.5,189.1 134.0,187.4 133.5,187.4 133.0,187.7 132.5,188.6 132.0,188.0 131.5,188.1 131.0,187.9 130.5,189.7 130.0,188.3 129.5,190.5 129.0,191.5 128.5,188.8 128.0,192.0 127.5,190.6 127.0,191.0 126.5,190.2 126.0,190.7 125.5,190.7 125.0,191.5 124.5,191.3 124.0,193.6 123.5,191.7 123.0,192.1 122.5,192.0 122.0,192.2 121.5,193.5 121.0,192.4 120.5,194.5 120.0,193.2 119.5,193.7 119.0,193.5 118.5,194.6 118.0,194.4 117.5,194.2 117.0,193.9 116.5,196.1 116.0,195.1 115.5,195.8 115.0,195.1 114.5,195.0 114.0,195.7 113.5,195.9 113.0,197.4 112.5,197.0 112.0,197.5 111.5,198.3 111.0,197.9 110.5,200.4 110.0,198.5 109.5,199.5 109.0,199.5 108.5,198.5 108.0,197.5 107.5,196.7 107.0,194.1 106.5,191.0 106.0,185.5 105.5,183.4 105.0,187.5 104.5,192.4 104.0,195.9 103.5,198.9 103.0,200.8 102.5,201.0 102.0,202.9 101.5,203.9 101.0,204.3 100.5,203.9 100.0,204.0 99.5,203.9 99.0,204.2 98.5,204.8 98.0,204.5 97.5,204.5 97.0,205.4 96.5,205.5 96.0,206.4 95.5,204.7 95.0,205.3 94.5,205.2 94.0,205.8 93.5,206.4 93.0,205.9 92.5,206.5 92.0,206.5 91.5,206.9 91.0,208.1 90.5,207.6 90.0,207.5 89.5,208.2 89.0,208.5 88.5,207.9 88.0,209.1 87.5,208.0 87.0,208.3 86.5,208.4 86.0,207.9 85.5,208.3 85.0,208.0 84.5,209.6 84.0,208.1 83.5,208.3 83.0,207.8 82.5,207.6 82.0,208.7 81.5,209.3 81.0,208.5 80.5,207.5 80.0,208.0 79.5,207.5 79.0,208.4 78.5,208.1 78.0,207.4 77.5,207.7 77.0,207.5 76.5,208.8 76.0,207.4 75.5,208.2 75.0,208.5 74.5,207.3 74.0,209.6 73.5,207.7 73.0,208.0 72.5,206.7 72.0,207.9 71.5,206.4 71.0,205.8 70.5,204.7 70.0,204.2 69.5,203.8 69.0,203.1 68.5,202.6 68.0,202.0 67.5,201.7 67.0,200.5 66.5,198.8 66.0,197.3 65.5,194.8 65.0,190.9 64.5,186.9 64.0,179.7Z"/>
<path fill="#e0080c" stroke="none" d="M64.0,319.0 64.5,323.4 65.0,329.7 65.5,333.1 66.0,335.4 66.5,337.1 67.0,336.8 67.5,340.3 68.0,339.2 68.5,342.1 69.0,343.7 69.5,344.5 70.0,345.3 70.5,346.6 71.0,347.3 71.5,348.6 72.0,348.6 72.5,349.0 73.0,350.3 73.5,351.2 74.0,351.6 74.5,350.6 75.0,350.8 75.5,350.9 76.0,352.9 76.5,350.3 77.0,352.8 77.5,352.2 78.0,353.8 78.5,353.9 79.0,353.6 79.5,354.1 80.0,354.1 80.5,354.7 81.0,354.8 81.5,351.6 82.0,355.2 82.5,352.4 83.0,355.3 83.5,354.9 84.0,354.6 84.5,355.4 85.0,355.4 85.5,354.9 86.0,354.9 86.5,355.7 87.0,355.2 87.5,354.9 88.0,354.1 88.5,354.5 89.0,354.7 89.5,355.4 90.0,355.3 90.5,354.8 91.0,354.3 91.5,355.3 92.0,355.0 92.5,355.2 93.0,354.2 93.5,355.4 94.0,354.8 94.5,354.6 95.0,354.6 95.5,354.2 96.0,354.5 96.5,353.9 97.0,354.4 97.5,353.1 98.0,353.2 98.5,354.0 99.0,353.1 99.5,353.2 100.0,352.4 100.5,353.1 101.0,350.8 101.5,351.3 102.0,352.4 102.5,352.2 103.0,352.3 103.5,352.1 104.0,352.0 104.5,351.8 105.0,350.3 105.5,351.7 106.0,350.0 106.5,349.3 107.0,350.3 107.5,351.3 108.0,349.1 108.5,351.1 109.0,350.0 109.5,350.4 110.0,350.0 110.5,350.5 111.0,350.4 111.5,349.3 112.0,349.4 112.5,348.9 113.0,349.2 113.5,349.5 114.0,349.2 114.5,348.9 115.0,348.6 115.5,348.7 116.0,348.3 116.5,343.9 117.0,347.3 117.5,347.4 118.0,346.4 118.5,345.9 119.0,344.9 119.5,345.7 120.0,345.2 120.5,343.6 121.0,344.7 121.5,342.8 122.0,343.3 122.5,343.6 123.0,342.5 123.5,342.9 124.0,341.6 124.5,342.3 125.0,341.9 125.5,341.2 126.0,339.4 126.5,338.6 127.0,340.1 127.5,339.9 128.0,338.3 128.5,337.5 129.0,336.2 129.5,336.5 130.0,337.2 130.5,336.6 131.0,334.9 131.5,334.9 132.0,334.5 132.5,332.8 133.0,332.3 133.5,330.2 134.0,328.5 134.5,325.9 135.0,319.0 135.5,319.6 136.0,316.0 136.5,310.8 137.0,306.9 137.5,304.9 138.0,300.7 138.5,297.7 139.0,294.5 139.5,292.1 140.0,290.7 140.5,291.0 141.0,292.1 141.5,293.9 142.0,296.2 142.5,296.9 143.0,298.2 143.5,302.3 144.0,304.2 144.5,307.0 145.0,309.0 145.5,308.4 146.0,314.3 146.5,315.1 147.0,317.6 147.5,320.2 148.0,321.5 148.5,323.0 149.0,323.0 149.5,324.5 150.0,326.5 150.5,327.0 151.0,327.6 151.5,328.2 152.0,328.7 152.5,329.3 153.0,330.2 153.5,331.0 154.0,331.0 154.5,332.1 155.0,332.1 155.5,332.4 156.0,332.9 156.5,333.7 157.0,334.6 157.5,335.1 158.0,334.8 158.5,335.8 159.0,330.7 159.5,336.8 160.0,336.9 160.5,337.9 161.0,338.5 161.5,336.1 162.0,339.2 162.5,337.7 163.0,339.0 163.5,339.6 164.0,340.6 164.5,341.3 165.0,340.2 165.5,341.6 166.0,339.3 166.5,341.7 167.0,342.9 167.5,343.7 168.0,343.9 168.5,344.5 169.0,344.5 169.5,344.6 170.0,344.4 170.5,345.3 171.0,345.4 171.5,343.9 172.0,345.6 172.5,346.4 173.0,347.0 173.5,346.6 174.0,346.0 174.5,346.2 175.0,346.6 175.5,346.9 176.0,347.9 176.5,346.1 177.0,348.1 177.5,348.6 178.0,348.7 178.5,348.2 179.0,348.9 179.5,349.3 180.0,349.4 180.5,349.4 181.0,349.8 181.5,349.8 182.0,349.8 182.5,349.9 183.0,349.2 183.5,349.8 184.0,348.7 184.5,350.7 185.0,351.1 185.5,349.0 186.0,350.9 186.5,349.7 187.0,350.3 187.5,351.2 188.0,350.8 188.5,352.3 189.0,351.9 189.5,351.2 190.0,352.4 190.5,350.6 191.0,351.0 191.5,352.7 192.0,351.5 192.5,351.9 193.0,352.7 193.5,351.2 194.0,353.5 194.5,350.8 195.0,353.6 195.5,352.6 196.0,353.3 196.5,353.7 197.0,353.3 197.5,353.7 198.0,354.0 198.5,354.3 199.0,353.3 199.5,353.1 200.0,354.8 200.5,353.0 201.0,353.1 201.5,354.4 202.0,354.5 202.5,355.7 203.0,356.0 203.5,354.8 204.0,356.1 204.5,356.6 205.0,356.5 205.5,355.6 206.0,356.6 206.5,356.5 207.0,356.8 207.5,356.3 208.0,356.5 208.5,356.9 209.0,357.0 209.5,354.8 210.0,355.0 210.5,356.4 211.0,355.4 211.5,357.1 212.0,357.6 212.5,356.1 213.0,357.3 213.5,357.4 214.0,357.7 214.5,355.3 215.0,357.6 215.5,357.5 216.0,358.4 216.5,357.4 217.0,356.4 217.5,358.1 218.0,358.2 218.5,358.4 219.0,358.5 219.5,358.6 220.0,358.1 220.5,357.9 221.0,358.5 221.5,355.0 222.0,359.5 222.5,358.7 223.0,359.2 223.5,360.0 224.0,360.1 224.5,360.1 225.0,360.4 225.5,359.8 226.0,357.7 226.5,360.5 227.0,356.8 227.5,360.1 228.0,360.4 228.5,360.1 229.0,361.0 229.5,360.6 230.0,359.9 230.5,360.2 231.0,360.3 231.5,361.0 232.0,360.7 232.5,361.0 233.0,360.6 233.5,360.1 234.0,360.1 234.5,361.1 235.0,358.6 235.5,360.6 236.0,360.9 236.5,360.9 237.0,358.5 237.5,360.1 238.0,360.2 238.5,360.7 239.0,358.4 239.5,359.8 240.0,360.1 240.5,359.9 241.0,359.7 241.5,359.5 242.0,358.1 242.5,359.8 243.0,359.1 243.5,358.6 244.0,359.0 244.5,357.2 245.0,356.9 245.5,358.5 246.0,358.5 246.5,358.2 247.0,358.0 247.5,358.5 248.0,358.5 248.5,358.1 249.0,357.8 249.5,357.1 250.0,357.6 250.5,357.7 251.0,357.7 251.5,357.1 252.0,357.4 252.5,357.3 253.0,356.2 253.5,357.1 254.0,356.3 254.5,356.0 255.0,356.1 255.5,356.3 256.0,356.0 256.5,355.6 257.0,354.0 257.5,355.0 258.0,355.9 258.5,355.2 259.0,355.3 259.5,353.9 260.0,355.0 260.5,353.8 261.0,353.5 261.5,353.7 262.0,354.0 262.5,353.3 263.0,351.6 263.5,353.2 264.0,353.0 264.5,352.7 265.0,350.6 265.5,351.7 266.0,350.3 266.5,351.9 267.0,351.5 267.5,351.5 268.0,351.0 268.5,350.3 269.0,350.6 269.5,349.2 270.0,350.0 270.5,349.7 271.0,349.4 271.5,348.8 272.0,348.6 272.5,346.4 273.0,347.1 273.5,344.9 274.0,345.7 274.5,343.7 275.0,345.2 275.5,344.3 276.0,345.0 276.5,343.8 277.0,343.1 277.5,343.7 278.0,343.2 278.5,342.4 279.0,342.0 279.5,342.0 280.0,341.4 280.5,337.8 281.0,340.0 281.5,339.9 282.0,338.5 282.5,338.6 283.0,337.5 283.5,333.3 284.0,335.1 284.5,335.8 285.0,335.2 285.5,332.9 286.0,333.0 286.5,331.9 287.0,331.4 287.5,330.3 288.0,328.7 288.5,327.3 289.0,326.0 289.5,324.9 290.0,324.5 290.5,322.4 291.0,322.0 291.5,320.6 292.0,315.2 292.5,316.8 293.0,314.5 293.5,311.1 294.0,311.7 294.5,310.3 295.0,306.6 295.5,306.0 296.0,303.7 296.5,300.2 297.0,297.5 297.5,295.7 298.0,293.2 298.5,291.4 299.0,290.4 299.5,289.3 300.0,286.2 300.5,287.6 301.0,286.9 301.5,286.5 302.0,285.5 302.5,285.6 303.0,286.1 303.5,288.4 304.0,288.4 304.5,291.0 305.0,292.9 305.5,295.3 306.0,297.2 306.5,299.0 307.0,301.1 307.5,303.7 308.0,303.8 308.5,308.0 309.0,310.5 309.5,312.5 310.0,314.7 310.5,315.7 311.0,318.5 311.5,319.9 312.0,321.9 312.5,323.6 313.0,323.9 313.5,326.1 314.0,329.6 314.5,331.4 315.0,333.3 315.5,334.4 316.0,337.0 316.5,337.5 317.0,340.1 317.5,341.6 318.0,343.0 318.5,344.0 319.0,345.2 319.5,347.0 320.0,348.0 320.5,348.4 321.0,349.8 321.5,350.7 322.0,351.2 322.5,352.4 323.0,352.8 323.5,354.0 324.0,355.3 324.5,355.6 325.0,355.3 325.5,356.3 326.0,358.1 326.5,358.5 327.0,358.7 327.5,359.4 328.0,359.7 328.5,360.6 329.0,360.9 329.5,361.1 330.0,359.6 330.5,358.5 331.0,362.1 331.5,361.9 332.0,361.4 332.5,363.6 333.0,363.1 333.5,363.2 334.0,363.7 334.5,364.4 335.0,365.5 335.5,365.0 336.0,365.4 336.5,365.6 337.0,367.1 337.5,367.2 338.0,368.1 338.5,366.7 339.0,368.8 339.5,368.6 340.0,369.2 340.5,369.9 341.0,370.6 341.5,371.3 342.0,371.5 342.5,370.2 343.0,370.0 343.5,371.6 344.0,371.3 344.5,372.1 345.0,373.2 345.5,373.6 346.0,373.9 346.5,374.2 347.0,373.7 347.5,373.1 348.0,372.7 348.5,374.8 349.0,375.3 349.5,375.0 350.0,375.5 350.5,373.9 351.0,375.6 351.5,375.2 352.0,376.2 352.5,376.4 353.0,376.6 353.5,376.6 354.0,376.7 354.5,376.5 355.0,377.1 355.5,376.9 356.0,377.5 356.5,377.1 357.0,376.6 357.5,377.7 358.0,378.1 358.5,377.6 359.0,378.2 359.5,378.5 360.0,378.6 360.5,378.1 361.0,378.9 361.5,378.5 362.0,378.5 362.5,378.3 363.0,379.2 363.5,373.7 364.0,378.1 364.5,379.6 365.0,379.5 365.5,379.4 366.0,379.4 366.5,379.2 367.0,379.9 367.5,380.1 368.0,379.7 368.5,379.7 369.0,380.3 369.5,380.6 370.0,380.7 370.5,380.1 371.0,380.4 371.5,380.6 372.0,379.5 372.5,379.2 373.0,380.8 373.5,381.3 374.0,381.5 374.5,381.0 375.0,379.5 375.5,381.8 376.0,381.5 376.5,382.2 377.0,380.5 377.5,382.1 378.0,382.2 378.5,382.1 379.0,381.7 379.5,382.3 380.0,382.4 380.5,382.5 381.0,382.3 381.5,382.7 382.0,383.3 382.5,381.6 383.0,382.2 383.5,383.3 384.0,383.1 384.5,383.2 385.0,383.6 385.5,383.0 386.0,383.8 386.5,382.3 387.0,383.2 387.5,381.8 388.0,384.0 388.5,383.6 389.0,383.7 389.5,384.5 390.0,384.6 390.5,382.6 391.0,382.1 391.5,384.6 392.0,382.8 392.5,384.1 393.0,384.8 393.5,384.3 394.0,384.1 394.5,384.7 395.0,385.0 395.5,383.3 396.0,383.2 396.5,384.4 397.0,385.3 397.5,385.2 398.0,385.5 398.5,384.1 399.0,385.5 399.5,384.8 400.0,384.5 400.5,385.5 401.0,385.4 401.5,384.9 402.0,385.7 402.5,385.7 403.0,386.0 403.5,384.9 404.0,386.0 404.5,385.1 405.0,385.0 405.5,386.1 406.0,385.8 406.5,385.9 407.0,386.4 407.5,386.5 408.0,384.2 408.5,386.7 409.0,386.4 409.5,386.8 410.0,385.1 410.5,385.1 411.0,387.2 411.5,386.6 412.0,386.9 412.5,386.3 413.0,386.2 413.5,387.4 414.0,386.7 414.5,386.6 415.0,387.0 415.5,386.8 416.0,387.1 416.5,387.9 417.0,388.0 417.5,388.0 418.0,388.2 418.5,388.0 419.0,387.9 419.5,387.4 420.0,388.6 420.5,388.5 421.0,387.3 421.5,388.7 422.0,388.6 422.5,388.4 423.0,388.8 423.5,388.9 424.0,389.0 424.5,387.9 425.0,389.1 425.5,388.7 426.0,388.9 426.5,389.1 427.0,386.3 427.5,389.5 428.0,388.8 428.5,389.6 429.0,386.4 429.5,389.7 430.0,390.0 430.5,389.7 431.0,389.8 431.5,390.4 432.0,389.7 432.5,390.4 433.0,390.0 433.5,390.4 434.0,390.2 434.5,389.6 435.0,390.7 435.5,390.5 436.0,390.9 436.5,390.5 437.0,391.0 437.5,391.0 438.0,390.9 438.5,389.2 439.0,389.9 439.5,391.2 440.0,391.3 440.5,391.3 441.0,391.4 441.5,391.1 442.0,391.5 442.5,390.9 443.0,388.9 443.5,389.8 444.0,390.5 444.5,391.6 445.0,391.4 445.5,391.0 446.0,389.8 446.5,391.6 447.0,388.3 447.5,391.0 448.0,392.0 448.5,390.9 449.0,392.3 449.5,392.3 450.0,392.0 450.5,392.1 451.0,389.6 451.5,392.5 452.0,392.6 452.5,392.5 453.0,392.6 453.5,392.5 454.0,391.8 454.5,392.5 455.0,391.3 455.5,391.6 456.0,392.3 456.5,391.6 457.0,392.8 457.5,392.8 458.0,392.1 458.5,392.4 459.0,392.1 459.5,390.9 460.0,391.5 460.5,390.7 461.0,392.0 461.5,392.7 462.0,392.3 462.5,392.6 463.0,392.9 463.5,392.7 464.0,392.1 464.5,393.2 465.0,392.3 465.5,393.2 466.0,392.1 466.5,393.5 467.0,393.4 467.5,393.5 468.0,393.5 468.5,393.2 469.0,393.2 469.5,393.8 470.0,393.7 470.5,393.8 471.0,392.5 471.5,392.2 472.0,393.2 472.5,392.0 473.0,392.4 473.5,392.1 474.0,390.9 474.5,389.1 475.0,389.2 475.5,388.3 476.0,384.6 476.5,386.0 477.0,384.8 477.5,383.1 478.0,379.8 478.5,379.7 479.0,378.7 479.5,377.8 480.0,376.1 480.5,375.2 481.0,375.5 481.5,375.6 482.0,375.8 482.5,376.4 483.0,376.4 483.5,377.0 484.0,378.3 484.5,378.8 485.0,378.9 485.5,380.1 486.0,380.4 486.5,379.5 487.0,380.8 487.5,381.1 488.0,381.3 488.5,380.4 489.0,381.3 489.5,381.7 490.0,381.8 490.5,382.4 491.0,381.9 491.5,382.5 492.0,382.8 492.5,383.0 493.0,382.7 493.5,382.9 494.0,383.2 494.5,383.4 495.0,383.4 495.5,382.6 496.0,383.0 496.5,383.0 497.0,384.6 497.5,384.6 498.0,385.0 498.5,384.7 499.0,385.3 499.5,384.7 500.0,385.2 500.5,386.3 501.0,386.4 501.5,386.7 502.0,386.9 502.5,386.1 503.0,386.1 503.5,386.9 504.0,386.6 504.5,387.6 505.0,387.3 505.5,388.3 506.0,386.9 506.5,387.7 507.0,388.1 507.5,389.0 508.0,388.5 508.5,388.2 509.0,389.3 509.5,389.8 510.0,390.5 510.5,390.7 511.0,389.5 511.5,390.0 512.0,390.9 512.5,391.3 513.0,390.2 513.5,391.5 514.0,392.2 514.5,392.6 515.0,392.0 515.5,393.2 516.0,393.0 516.5,392.7 517.0,392.4 517.5,393.6 518.0,394.4 518.5,394.2 519.0,394.0 519.5,395.1 520.0,394.6 520.5,394.7 521.0,395.7 521.5,393.8 522.0,395.5 522.5,395.3 523.0,396.7 523.5,397.1 524.0,397.4 524.5,397.6 525.0,397.7 525.5,396.0 526.0,397.8 526.5,398.0 527.0,398.3 527.5,397.9 528.0,398.9 528.5,399.0 529.0,398.7 529.5,398.1 530.0,399.3 530.5,399.4 531.0,399.2 531.5,398.7 532.0,399.2 532.5,399.1 533.0,399.5 533.5,398.1 534.0,399.5 534.5,399.7 535.0,398.9 535.5,398.9 536.0,399.4 536.5,398.7 537.0,399.6 537.5,400.0 538.0,400.0 538.5,400.0 539.0,398.4 539.5,400.0 540.0,400.3 540.5,398.4 541.0,400.1 541.5,400.5 542.0,399.9 542.5,399.7 543.0,400.0 543.5,400.7 544.0,400.5 544.5,401.0 545.0,401.1 545.5,401.0 546.0,400.3 546.5,401.4 547.0,400.4 547.5,399.8 548.0,401.4 548.5,401.9 549.0,401.6 549.5,401.7 550.0,402.2 550.5,402.2 551.0,402.1 551.5,402.1 552.0,402.5 552.5,399.5 553.0,402.6 553.5,402.4 554.0,402.8 554.5,402.6 555.0,402.2 555.5,402.7 556.0,403.0 556.5,402.2 557.0,401.2 557.5,401.9 558.0,403.1 558.5,403.0 559.0,402.9 559.5,403.2 560.0,403.0 560.5,403.2 561.0,401.8 561.5,401.7 562.0,403.0 562.5,403.2 563.0,402.3 563.5,403.3 564.0,403.0 564.5,402.4 565.0,403.5 565.5,402.7 566.0,403.5 566.5,403.4 567.0,403.5 567.5,402.8 568.0,403.3 568.5,403.6 569.0,403.3 569.5,403.8 570.0,403.3 570.5,403.4 571.0,403.7 571.5,402.7 572.0,402.8 572.5,403.6 573.0,402.9 573.5,403.3 574.0,403.6 574.5,403.7 575.0,403.8 575.5,403.7 576.0,401.8 576.5,402.3 577.0,403.4 577.5,403.5 578.0,403.0 578.5,403.1 579.0,403.5 579.5,403.7 580.0,403.5 580.5,403.5 581.0,403.5 581.5,403.5 582.0,403.2 582.5,402.7 583.0,403.4 583.5,403.9 584.0,403.3 584.5,403.8 585.0,403.1 585.5,403.4 586.0,402.9 586.5,403.3 587.0,402.1 587.5,402.5 588.0,404.2 588.5,403.8 589.0,403.8 589.5,403.7 590.0,403.8 590.5,404.2 591.0,403.9 591.5,404.2 592.0,403.4 592.5,404.1 593.0,404.2 593.5,403.8 594.0,402.7 594.5,403.6 595.0,404.0 595.5,403.8 596.0,402.6 596.5,403.7 597.0,401.7 597.5,402.7 598.0,402.7 598.5,403.7 599.0,402.4 599.5,403.6 600.0,403.7 600.5,403.7 601.0,403.4 601.5,403.1 602.0,403.7 602.5,403.1 603.0,403.7 603.5,403.4 604.0,402.9 604.5,403.1 605.0,402.9 605.5,403.1 606.0,403.5 606.5,403.3 607.0,402.9 607.5,403.2 608.0,401.1 608.5,403.0 609.0,402.7 609.5,403.3 610.0,403.3 610.5,402.7 611.0,401.9 611.5,402.9 612.0,403.2 612.5,402.4 613.0,400.8 613.5,403.3 614.0,403.0 614.5,403.2 615.0,403.2 615.5,402.7 616.0,403.1 616.5,403.2 617.0,403.0 617.5,403.3 618.0,403.2 618.5,402.7 619.0,401.9 619.5,401.8 620.0,403.0 620.5,403.1 621.0,403.0 621.5,403.3 622.0,402.7 622.5,401.1 623.0,403.7 623.5,403.5 624.0,403.8 624.5,403.2 625.0,403.6 625.5,403.1 626.0,403.5 626.5,403.8 627.0,402.3 627.5,403.9 628.0,403.9 628.5,404.8 629.0,405.0 629.5,405.1 630.0,404.9 630.5,405.0 631.0,405.2 631.5,405.2 632.0,405.2 632.5,405.4 633.0,403.8 633.5,405.6 634.0,405.1 634.5,405.6 635.0,405.4 635.5,405.0 636.0,405.7 636.5,405.8 637.0,404.5 637.5,405.1 638.0,405.9 638.5,404.5 639.0,404.9 639.5,404.9 640.0,406.2 640.5,404.9 641.0,406.3 641.5,405.3 642.0,406.1 642.5,405.8 643.0,405.5 643.5,405.9 644.0,405.9 644.5,405.6 645.0,405.5 645.5,405.9 646.0,406.0 646.5,406.2 647.0,406.2 647.5,406.5 648.0,405.0 648.5,405.5 649.0,406.5 649.5,406.0 650.0,406.5 650.5,406.8 651.0,406.7 651.5,406.7 652.0,406.3 652.5,406.3 653.0,406.6 653.5,406.4 654.0,406.7 654.5,406.7 655.0,407.0 655.5,406.1 656.0,406.5 656.5,405.3 657.0,407.0 657.5,407.1 658.0,407.2 658.5,405.8 659.0,406.9 659.5,406.6 660.0,406.8 660.5,405.3 661.0,406.3 661.5,406.0 662.0,407.1 662.5,406.6 663.0,407.3 663.5,406.6 664.0,407.3 664.5,407.0 665.0,407.2 665.5,406.7 666.0,405.3 666.5,407.0 667.0,407.5 667.5,406.9 668.0,407.4 668.5,407.6 669.0,407.5 669.5,406.9 670.0,407.4 670.5,405.9 671.0,407.8 671.5,407.7 672.0,407.3 672.5,407.8 673.0,407.9 673.5,407.8 674.0,407.9 674.5,407.5 675.0,407.7 675.5,407.9 676.0,407.2 676.5,407.4 677.0,407.0 677.5,407.3 678.0,407.7 678.5,408.0 679.0,407.9 679.5,407.4 680.0,407.9 680.5,407.7 681.0,408.1 681.5,408.2 682.0,408.2 682.5,408.3 683.0,407.9 683.5,407.8 684.0,408.4 684.5,407.9 685.0,408.3 685.5,405.8 686.0,408.2 686.5,408.4 687.0,408.5 687.5,406.8 688.0,408.6 688.5,408.4 689.0,408.3 689.5,407.7 690.0,407.8 690.5,407.3 691.0,407.7 691.5,408.4 692.0,408.5 692.5,408.5 693.0,408.5 693.5,408.1 694.0,408.8 694.5,408.9 695.0,408.9 695.5,409.0 696.0,408.8 696.5,408.8 697.0,408.3 697.5,408.7 698.0,408.7 698.5,409.0 699.0,406.6 699.5,408.4 700.0,408.9 700.5,409.1 701.0,408.9 701.5,409.2 702.0,407.5 702.5,409.3 703.0,408.8 703.5,409.2 704.0,408.8 704.5,407.8 705.0,409.2 705.5,409.4 706.0,409.2 706.5,409.4 707.0,409.3 707.5,408.6 708.0,409.1 708.5,409.2 709.0,409.2 709.5,409.5 710.0,409.6 710.5,409.6 711.0,408.7 711.5,409.4 712.0,409.7 712.5,409.2 713.0,409.4 713.5,409.4 714.0,409.6 714.5,408.7 715.0,409.0 715.5,409.6 716.0,409.2 716.5,409.0 717.0,409.6 717.5,408.8 718.0,409.6 718.5,409.4 719.0,409.1 719.5,408.6 720.0,409.4 720.5,409.7 721.0,409.3 721.5,409.6 722.0,409.6 722.5,408.7 723.0,409.3 723.5,409.8 724.0,409.3 724.5,409.4 725.0,409.8 725.5,409.4 726.0,409.9 726.5,409.3 727.0,409.7 727.5,410.0 728.0,408.8 728.5,409.6 729.0,409.7 729.5,409.2 730.0,409.7 730.5,408.7 731.0,409.6 731.5,409.8 732.0,409.4 732.5,409.8 733.0,410.0 733.5,410.0 734.0,408.5 734.5,410.0 735.0,409.9 735.5,410.0 736.0,410.1 736.5,410.2 737.0,409.2 737.5,409.9 738.0,409.7 738.5,410.1 739.0,408.8 739.5,409.5 740.0,407.0 740.5,410.0 741.0,409.4 741.5,410.1 742.0,410.3 742.5,410.2 743.0,409.5 743.5,408.0 744.0,408.8 744.5,409.7 745.0,409.2 745.5,410.3 746.0,409.2 746.5,410.2 747.0,409.8 747.5,410.4 748.0,408.4 748.5,408.5 749.0,410.4 749.5,410.4 750.0,410.3 750.5,410.3 751.0,410.3 751.5,410.0 752.0,409.1 752.5,409.8 753.0,409.7 753.5,410.2 754.0,410.1 754.5,410.3 755.0,410.2 755.5,410.4 756.0,409.5 756.5,410.3 757.0,410.1 757.5,410.3 758.0,410.5 758.5,408.5 759.0,409.6 759.5,410.3 760.0,410.0 760.5,409.8 761.0,409.3 761.5,410.5 762.0,410.4 762.5,410.0 763.0,410.4 763.5,410.1 764.0,409.6 764.5,410.2 765.0,409.8 765.5,410.2 766.0,410.4 766.5,409.5 767.0,410.2 767.5,409.8 768.0,409.7 768.5,410.2 769.0,410.2 769.5,410.4 770.0,409.3 770.5,409.8 771.0,410.3 771.5,408.5 772.0,409.5 772.5,409.9 773.0,409.6 773.5,410.1 774.0,410.3 774.5,409.9 775.0,410.1 775.5,410.2 776.0,409.5 776.5,409.7 777.0,410.2 777.5,409.4 778.0,409.8 778.5,410.1 779.0,408.4 779.5,409.8 780.0,410.2 780.5,410.2 781.0,409.9 781.5,409.6 782.0,410.1 782.5,409.5 783.0,410.1 783.5,409.5 784.0,409.8 784.5,409.3 785.0,409.2 785.5,409.0 786.0,410.1 786.5,410.1 787.0,409.6 787.5,409.4 788.0,409.6 788.5,408.8 789.0,409.6 789.5,410.0 790.0,410.0 790.5,409.3 791.0,409.9 791.5,409.6 792.0,410.1 792.5,410.1 793.0,409.3 793.5,410.1 794.0,409.4 794.5,409.6 795.0,409.7 795.5,409.6 796.0,409.0 796.5,409.4 797.0,409.5 797.5,409.9 798.0,409.4 798.5,409.4 799.0,410.0 799.5,408.7 800.0,409.6 800.5,408.1 801.0,410.0 801.5,409.7 802.0,410.2 802.5,409.3 803.0,409.9 803.5,409.9 804.0,409.7 804.5,410.1 805.0,408.9 805.5,410.0 806.0,409.8 806.5,409.2 807.0,410.2 807.5,409.5 808.0,409.2 808.5,409.6 809.0,409.6 809.5,410.2 810.0,408.5 810.5,409.1 811.0,409.6 811.5,409.4 812.0,409.9 812.5,410.2 813.0,410.1 813.5,410.1 814.0,409.8 814.5,410.3 815.0,410.3 815.5,410.0 816.0,409.3 816.5,410.2 817.0,410.0 817.5,410.2 818.0,410.3 818.5,408.7 819.0,410.3 819.5,408.7 820.0,409.8 820.5,410.1 821.0,410.1 821.5,410.2 822.0,410.2 822.5,410.5 823.0,410.5 823.5,409.7 824.0,410.3 824.5,410.3 825.0,409.5 825.5,410.2 826.0,409.8 826.5,410.1 827.0,410.4 827.5,409.9 828.0,410.5 828.5,410.6 829.0,409.9 829.5,410.3 830.0,410.0 830.5,410.4 831.0,410.3 831.5,407.9 832.0,410.4 832.5,410.2 833.0,410.3 833.5,410.0 834.0,410.1 834.5,410.2 835.0,410.3 835.5,410.3 836.0,410.3 836.5,410.2 837.0,410.2 837.5,410.1 838.0,410.3 838.5,409.8 839.0,410.0 839.5,410.1 840.0,409.7 840.5,409.6 841.0,410.1 841.5,409.2 842.0,410.1 842.5,409.9 843.0,409.4 843.5,409.7 844.0,410.0 844.5,410.0 845.0,409.6 845.5,409.6 846.0,409.6 846.5,409.8 847.0,409.4 847.5,409.8 848.0,409.6 848.5,408.7 849.0,409.8 849.5,409.5 850.0,409.3 850.5,409.6 851.0,409.5 851.5,409.7 852.0,409.4 852.5,409.0 853.0,408.9 853.5,409.7 854.0,408.9 854.5,408.7 855.0,408.7 855.5,409.2 856.0,409.3 856.5,409.8 857.0,409.8 857.5,409.4 858.0,409.9 858.5,409.9 859.0,409.5 859.5,409.6 860.0,409.9 860.5,409.8 861.0,408.8 861.5,409.1 862.0,409.6 862.5,409.6 863.0,408.4 863.5,409.3 864.0,409.6 864.5,409.5 865.0,409.8 865.5,409.5 866.0,409.1 866.5,409.8 867.0,409.1 867.5,409.4 868.0,409.7 868.5,409.6 869.0,409.4 869.5,409.9 870.0,409.7 870.5,409.2 871.0,409.7 871.5,408.8 872.0,409.8 872.5,408.6 873.0,408.5 873.5,409.5 874.0,408.9 874.5,408.9 875.0,407.3 875.5,408.8 876.0,408.6 876.5,408.7 877.0,407.7 877.5,408.5 878.0,407.9 878.5,406.6 879.0,406.9 879.5,407.3 880.0,407.1 880.5,406.7 881.0,406.4 881.5,405.4 882.0,404.5 882.5,404.2 883.0,403.7 883.5,400.6 884.0,401.7 884.5,401.0 885.0,400.2 885.5,399.3 886.0,397.7 886.5,398.2 887.0,398.1 887.5,396.2 888.0,397.6 888.5,397.6 889.0,397.6 889.5,396.0 890.0,399.7 890.5,400.4 891.0,402.0 891.5,402.7 892.0,403.5 892.5,404.9 893.0,405.8 893.5,406.2 894.0,406.6 894.5,406.6 895.0,406.0 895.5,407.0 896.0,406.5 896.5,407.3 897.0,407.7 897.5,407.2 898.0,407.7 898.5,406.7 899.0,406.2 899.5,406.9 900.0,407.7 900.5,407.9 901.0,408.2 901.5,408.0 902.0,407.0 902.5,407.9 903.0,408.3 903.5,408.2 904.0,408.1 904.5,408.3 905.0,407.7 905.5,408.4 906.0,408.3 906.5,408.0 907.0,407.9 907.5,408.2 908.0,407.9 908.5,407.9 909.0,408.2 909.5,406.5 910.0,407.8 910.5,408.2 911.0,408.3 911.5,408.4 912.0,408.1 912.5,408.4 913.0,407.9 913.5,408.4 914.0,407.8 914.5,407.8 915.0,408.3 915.5,408.0 916.0,408.1 916.5,408.3 917.0,408.2 917.5,408.3 918.0,407.3 918.5,408.4 919.0,408.4 919.5,408.4 920.0,407.9 920.5,407.8 921.0,408.4 921.5,408.4 922.0,407.7 922.5,408.1 923.0,406.9 923.5,408.1 924.0,408.4 924.5,407.9 925.0,408.2 925.5,407.0 926.0,407.9 926.5,408.2 927.0,408.2 927.5,407.4 928.0,408.1 928.5,407.6 929.0,407.6 929.5,407.5 930.0,407.6 930.5,407.4 931.0,407.5 931.5,407.5 932.0,407.2 932.5,407.5 933.0,407.2 933.5,406.9 934.0,405.8 934.5,404.6 935.0,405.0 935.5,406.2 936.0,405.8 936.5,406.0 937.0,404.8 937.5,405.1 938.0,404.9 938.5,404.7 939.0,404.7 939.5,404.6 940.0,404.4 940.5,404.4 941.0,404.5 941.5,404.3 942.0,403.8 942.5,404.1 943.0,403.6 943.5,404.2 944.0,403.8 944.5,404.4 945.0,404.8 945.5,404.1 946.0,404.0 946.5,405.2 947.0,406.1 947.5,405.9 948.0,406.3 948.5,405.8 949.0,406.1 949.5,405.8 950.0,405.9 950.5,405.8 951.0,405.4 951.0,407.9 950.5,408.6 950.0,408.3 949.5,408.3 949.0,409.1 948.5,408.5 948.0,409.2 947.5,408.5 947.0,408.6 946.5,408.5 946.0,408.0 945.5,407.8 945.0,409.0 944.5,406.9 944.0,406.8 943.5,406.3 943.0,406.2 942.5,406.7 942.0,406.5 941.5,407.9 941.0,407.1 940.5,406.8 940.0,408.0 939.5,407.9 939.0,408.1 938.5,408.0 938.0,407.6 937.5,407.9 937.0,408.2 936.5,410.9 936.0,408.5 935.5,409.1 935.0,409.0 934.5,411.1 934.0,410.2 933.5,409.7 933.0,410.4 932.5,410.3 932.0,411.5 931.5,411.4 931.0,410.0 930.5,410.2 930.0,410.0 929.5,410.1 929.0,410.2 928.5,410.6 928.0,410.5 927.5,410.7 927.0,411.5 926.5,410.3 926.0,410.4 925.5,410.5 925.0,410.4 924.5,410.8 924.0,410.5 923.5,411.0 923.0,410.5 922.5,410.5 922.0,410.6 921.5,410.7 921.0,410.7 920.5,410.6 920.0,411.0 919.5,410.7 919.0,410.7 918.5,411.5 918.0,410.8 917.5,411.0 917.0,410.6 916.5,410.7 916.0,410.6 915.5,411.0 915.0,410.6 914.5,410.8 914.0,410.7 913.5,410.9 913.0,410.6 912.5,410.8 912.0,410.8 911.5,411.2 911.0,410.7 910.5,411.4 910.0,410.9 909.5,410.5 909.0,411.3 908.5,411.0 908.0,410.8 907.5,410.6 907.0,411.3 906.5,411.4 906.0,410.7 905.5,411.0 905.0,410.7 904.5,410.6 904.0,410.5 903.5,410.6 903.0,410.8 902.5,411.1 902.0,412.6 901.5,410.4 901.0,411.2 900.5,410.9 900.0,411.3 899.5,410.8 899.0,410.5 898.5,410.2 898.0,411.9 897.5,410.1 897.0,410.0 896.5,410.4 896.0,410.0 895.5,409.6 895.0,409.8 894.5,409.3 894.0,409.6 893.5,410.3 893.0,408.1 892.5,407.0 892.0,406.4 891.5,404.9 891.0,404.0 890.5,403.7 890.0,402.3 889.5,401.6 889.0,400.8 888.5,399.6 888.0,400.4 887.5,400.4 887.0,401.2 886.5,400.9 886.0,401.8 885.5,402.0 885.0,403.0 884.5,403.6 884.0,404.4 883.5,405.0 883.0,407.6 882.5,406.7 882.0,407.7 881.5,409.1 881.0,408.4 880.5,409.9 880.0,409.7 879.5,410.0 879.0,410.9 878.5,410.7 878.0,410.6 877.5,410.9 877.0,411.9 876.5,413.0 876.0,412.2 875.5,411.3 875.0,411.5 874.5,411.6 874.0,413.0 873.5,411.8 873.0,411.9 872.5,413.1 872.0,412.2 871.5,412.7 871.0,413.1 870.5,412.1 870.0,412.2 869.5,412.5 869.0,412.6 868.5,412.8 868.0,412.4 867.5,412.5 867.0,412.8 866.5,412.9 866.0,412.9 865.5,413.0 865.0,413.3 864.5,412.3 864.0,412.6 863.5,412.4 863.0,412.6 862.5,412.9 862.0,412.9 861.5,412.4 861.0,412.1 860.5,412.3 860.0,412.8 859.5,412.2 859.0,412.7 858.5,412.4 858.0,412.7 857.5,412.8 857.0,413.0 856.5,413.9 856.0,412.3 855.5,412.4 855.0,412.5 854.5,412.4 854.0,412.1 853.5,412.3 853.0,412.6 852.5,412.2 852.0,413.2 851.5,412.1 851.0,412.3 850.5,412.4 850.0,412.9 849.5,412.6 849.0,412.2 848.5,412.5 848.0,412.3 847.5,412.8 847.0,412.5 846.5,412.3 846.0,412.4 845.5,413.1 845.0,413.1 844.5,412.7 844.0,412.4 843.5,412.4 843.0,412.5 842.5,414.6 842.0,412.9 841.5,413.5 841.0,413.3 840.5,413.0 840.0,412.6 839.5,413.5 839.0,412.6 838.5,412.9 838.0,412.7 837.5,413.4 837.0,412.9 836.5,412.8 836.0,413.2 835.5,413.2 835.0,413.1 834.5,412.8 834.0,414.0 833.5,413.1 833.0,413.2 832.5,413.1 832.0,412.9 831.5,413.2 831.0,412.9 830.5,415.1 830.0,413.8 829.5,413.6 829.0,413.2 828.5,413.7 828.0,413.0 827.5,412.8 827.0,413.4 826.5,412.9 826.0,413.7 825.5,413.2 825.0,413.8 824.5,413.6 824.0,413.0 823.5,413.0 823.0,413.6 822.5,412.9 822.0,413.6 821.5,413.0 821.0,413.6 820.5,412.9 820.0,413.0 819.5,413.1 819.0,413.3 818.5,412.8 818.0,412.9 817.5,413.2 817.0,412.8 816.5,412.9 816.0,413.7 815.5,413.8 815.0,413.1 814.5,412.8 814.0,413.0 813.5,412.8 813.0,413.0 812.5,413.5 812.0,412.7 811.5,412.9 811.0,412.9 810.5,412.7 810.0,413.5 809.5,413.3 809.0,412.9 808.5,413.4 808.0,414.1 807.5,413.0 807.0,412.9 806.5,412.9 806.0,412.8 805.5,414.7 805.0,414.6 804.5,413.8 804.0,412.6 803.5,413.7 803.0,412.7 802.5,413.3 802.0,413.2 801.5,413.3 801.0,413.1 800.5,412.6 800.0,413.2 799.5,414.6 799.0,413.1 798.5,412.7 798.0,413.4 797.5,412.7 797.0,412.8 796.5,412.6 796.0,412.7 795.5,412.6 795.0,412.5 794.5,412.5 794.0,413.8 793.5,412.9 793.0,413.5 792.5,413.0 792.0,413.3 791.5,412.6 791.0,412.5 790.5,413.1 790.0,413.0 789.5,412.7 789.0,414.1 788.5,414.7 788.0,413.2 787.5,413.2 787.0,412.9 786.5,412.8 786.0,413.1 785.5,413.3 785.0,412.8 784.5,413.3 784.0,412.8 783.5,412.6 783.0,413.1 782.5,414.3 782.0,412.6 781.5,412.8 781.0,413.1 780.5,413.9 780.0,412.8 779.5,413.2 779.0,414.0 778.5,412.9 778.0,412.7 777.5,412.9 777.0,412.7 776.5,413.0 776.0,413.1 775.5,414.2 775.0,413.4 774.5,412.8 774.0,413.0 773.5,413.0 773.0,412.9 772.5,413.0 772.0,413.2 771.5,413.0 771.0,413.8 770.5,413.1 770.0,412.9 769.5,413.8 769.0,412.9 768.5,413.7 768.0,413.5 767.5,413.2 767.0,414.1 766.5,412.9 766.0,413.0 765.5,412.9 765.0,412.9 764.5,413.3 764.0,412.9 763.5,413.7 763.0,414.2 762.5,413.0 762.0,413.4 761.5,414.0 761.0,413.3 760.5,415.0 760.0,412.9 759.5,413.3 759.0,413.2 758.5,413.3 758.0,413.0 757.5,414.2 757.0,412.9 756.5,413.8 756.0,413.0 755.5,413.1 755.0,413.8 754.5,412.9 754.0,413.2 753.5,413.8 753.0,413.4 752.5,413.7 752.0,414.9 751.5,413.5 751.0,414.6 750.5,412.9 750.0,413.0 749.5,413.6 749.0,413.5 748.5,414.0 748.0,413.3 747.5,413.4 747.0,413.8 746.5,413.1 746.0,413.0 745.5,413.0 745.0,413.4 744.5,413.0 744.0,413.3 743.5,413.1 743.0,413.3 742.5,413.3 742.0,412.9 741.5,413.3 741.0,414.1 740.5,413.1 740.0,413.6 739.5,413.0 739.0,413.1 738.5,413.5 738.0,413.2 737.5,413.2 737.0,412.8 736.5,413.1 736.0,412.7 735.5,414.0 735.0,412.8 734.5,412.7 734.0,413.0 733.5,413.5 733.0,412.8 732.5,412.7 732.0,413.8 731.5,412.9 731.0,412.7 730.5,413.1 730.0,412.6 729.5,412.9 729.0,413.7 728.5,412.8 728.0,412.6 727.5,413.6 727.0,413.3 726.5,412.7 726.0,412.5 725.5,413.5 725.0,412.9 724.5,412.4 724.0,412.9 723.5,413.5 723.0,412.4 722.5,412.4 722.0,412.6 721.5,413.5 721.0,412.3 720.5,412.8 720.0,413.5 719.5,413.5 719.0,412.4 718.5,412.4 718.0,412.4 717.5,413.6 717.0,412.3 716.5,412.5 716.0,412.8 715.5,412.9 715.0,412.6 714.5,412.3 714.0,412.9 713.5,412.7 713.0,412.7 712.5,412.2 712.0,412.3 711.5,414.2 711.0,413.1 710.5,412.2 710.0,412.6 709.5,412.3 709.0,412.4 708.5,412.7 708.0,412.7 707.5,412.9 707.0,412.6 706.5,412.2 706.0,412.5 705.5,412.5 705.0,412.2 704.5,412.3 704.0,413.3 703.5,412.0 703.0,412.1 702.5,412.1 702.0,411.9 701.5,411.9 701.0,412.3 700.5,412.3 700.0,412.0 699.5,411.8 699.0,411.8 698.5,413.0 698.0,413.2 697.5,411.7 697.0,411.9 696.5,412.3 696.0,411.8 695.5,411.9 695.0,412.1 694.5,411.5 694.0,411.8 693.5,411.5 693.0,411.4 692.5,412.0 692.0,411.8 691.5,411.4 691.0,411.5 690.5,412.4 690.0,411.5 689.5,411.3 689.0,411.3 688.5,413.0 688.0,411.5 687.5,411.6 687.0,411.8 686.5,412.3 686.0,411.4 685.5,411.2 685.0,411.1 684.5,412.7 684.0,411.7 683.5,412.6 683.0,411.1 682.5,411.1 682.0,411.1 681.5,411.6 681.0,411.6 680.5,411.5 680.0,411.2 679.5,411.3 679.0,411.3 678.5,411.8 678.0,410.9 677.5,411.1 677.0,410.8 676.5,410.8 676.0,410.8 675.5,411.4 675.0,410.9 674.5,410.7 674.0,411.0 673.5,411.1 673.0,411.2 672.5,410.6 672.0,410.6 671.5,410.5 671.0,410.8 670.5,411.0 670.0,410.4 669.5,411.5 669.0,410.3 668.5,410.5 668.0,410.7 667.5,410.6 667.0,410.7 666.5,411.3 666.0,411.2 665.5,410.4 665.0,412.3 664.5,410.4 664.0,410.6 663.5,411.7 663.0,410.2 662.5,410.2 662.0,410.4 661.5,410.6 661.0,411.1 660.5,410.6 660.0,410.5 659.5,410.7 659.0,410.0 658.5,410.5 658.0,410.4 657.5,409.9 657.0,410.8 656.5,410.3 656.0,409.7 655.5,410.5 655.0,409.9 654.5,409.6 654.0,409.6 653.5,409.6 653.0,409.9 652.5,410.3 652.0,410.6 651.5,409.9 651.0,410.1 650.5,409.8 650.0,409.7 649.5,409.4 649.0,410.6 648.5,410.4 648.0,409.5 647.5,409.9 647.0,409.8 646.5,409.4 646.0,410.7 645.5,409.8 645.0,409.5 644.5,409.2 644.0,410.0 643.5,409.3 643.0,409.5 642.5,410.1 642.0,409.7 641.5,410.3 641.0,409.8 640.5,409.0 640.0,409.0 639.5,410.3 639.0,409.4 638.5,409.8 638.0,409.5 637.5,409.7 637.0,409.6 636.5,408.7 636.0,409.5 635.5,408.7 635.0,409.4 634.5,409.7 634.0,408.5 633.5,409.6 633.0,409.5 632.5,409.0 632.0,408.4 631.5,408.4 631.0,408.6 630.5,408.1 630.0,408.1 629.5,408.9 629.0,408.2 628.5,407.9 628.0,407.7 627.5,407.6 627.0,407.4 626.5,407.4 626.0,407.3 625.5,407.0 625.0,407.6 624.5,406.8 624.0,406.7 623.5,406.6 623.0,407.0 622.5,406.7 622.0,406.8 621.5,406.7 621.0,406.3 620.5,406.5 620.0,406.1 619.5,406.4 619.0,406.5 618.5,406.6 618.0,406.7 617.5,406.8 617.0,406.6 616.5,406.1 616.0,406.1 615.5,406.9 615.0,406.5 614.5,406.1 614.0,406.1 613.5,406.4 613.0,406.1 612.5,407.3 612.0,406.2 611.5,406.4 611.0,407.6 610.5,406.1 610.0,407.8 609.5,408.5 609.0,406.3 608.5,406.7 608.0,406.2 607.5,406.8 607.0,406.2 606.5,406.8 606.0,406.5 605.5,406.4 605.0,406.8 604.5,407.0 604.0,407.3 603.5,406.8 603.0,406.4 602.5,407.4 602.0,407.1 601.5,408.1 601.0,408.2 600.5,406.9 600.0,407.1 599.5,406.9 599.0,406.9 598.5,406.8 598.0,406.8 597.5,406.7 597.0,408.0 596.5,406.9 596.0,406.8 595.5,408.0 595.0,406.8 594.5,406.9 594.0,407.6 593.5,407.6 593.0,407.4 592.5,408.0 592.0,407.2 591.5,407.9 591.0,408.1 590.5,407.0 590.0,407.8 589.5,407.3 589.0,407.2 588.5,407.2 588.0,407.5 587.5,407.0 587.0,407.4 586.5,407.3 586.0,408.1 585.5,406.9 585.0,407.1 584.5,406.8 584.0,406.7 583.5,410.1 583.0,408.0 582.5,407.0 582.0,406.9 581.5,406.8 581.0,408.2 580.5,406.7 580.0,408.0 579.5,407.5 579.0,408.4 578.5,406.7 578.0,407.7 577.5,407.4 577.0,408.6 576.5,406.8 576.0,407.3 575.5,406.8 575.0,407.8 574.5,408.0 574.0,407.0 573.5,406.7 573.0,407.4 572.5,406.6 572.0,407.3 571.5,407.0 571.0,407.4 570.5,406.9 570.0,406.7 569.5,407.2 569.0,407.5 568.5,406.9 568.0,407.2 567.5,408.1 567.0,406.8 566.5,406.9 566.0,406.6 565.5,406.5 565.0,406.4 564.5,407.7 564.0,406.4 563.5,407.2 563.0,407.4 562.5,406.3 562.0,406.8 561.5,406.3 561.0,407.0 560.5,407.6 560.0,406.7 559.5,407.8 559.0,406.5 558.5,406.4 558.0,407.2 557.5,405.9 557.0,406.4 556.5,406.5 556.0,405.9 555.5,405.8 555.0,406.0 554.5,407.1 554.0,408.1 553.5,406.1 553.0,406.1 552.5,406.0 552.0,405.5 551.5,405.3 551.0,405.6 550.5,405.5 550.0,405.9 549.5,406.2 549.0,406.1 548.5,405.7 548.0,405.3 547.5,405.5 547.0,404.6 546.5,405.6 546.0,405.5 545.5,404.6 545.0,404.2 544.5,406.0 544.0,404.8 543.5,403.8 543.0,404.6 542.5,403.7 542.0,403.5 541.5,403.6 541.0,403.9 540.5,403.6 540.0,403.4 539.5,403.4 539.0,403.4 538.5,403.0 538.0,403.9 537.5,403.1 537.0,403.3 536.5,403.2 536.0,404.6 535.5,403.4 535.0,403.0 534.5,403.5 534.0,404.5 533.5,403.5 533.0,402.8 532.5,403.6 532.0,402.8 531.5,402.5 531.0,402.8 530.5,403.0 530.0,402.3 529.5,402.5 529.0,402.4 528.5,402.0 528.0,402.7 527.5,402.3 527.0,401.5 526.5,401.8 526.0,401.5 525.5,401.8 525.0,401.4 524.5,402.1 524.0,400.6 523.5,400.9 523.0,399.9 522.5,400.2 522.0,399.4 521.5,399.1 521.0,399.3 520.5,398.6 520.0,398.4 519.5,398.3 519.0,398.3 518.5,398.2 518.0,398.2 517.5,398.0 517.0,397.0 516.5,398.2 516.0,396.6 515.5,397.1 515.0,396.4 514.5,395.6 514.0,395.6 513.5,395.1 513.0,395.0 512.5,395.7 512.0,397.3 511.5,397.1 511.0,394.7 510.5,393.8 510.0,394.2 509.5,394.5 509.0,393.0 508.5,392.9 508.0,392.8 507.5,393.6 507.0,392.1 506.5,393.1 506.0,391.6 505.5,392.3 505.0,391.1 504.5,391.3 504.0,391.0 503.5,390.8 503.0,391.0 502.5,390.7 502.0,390.2 501.5,389.7 501.0,389.7 500.5,389.6 500.0,390.1 499.5,389.5 499.0,389.1 498.5,389.1 498.0,389.9 497.5,388.4 497.0,388.4 496.5,387.9 496.0,388.7 495.5,388.8 495.0,388.8 494.5,387.0 494.0,389.0 493.5,386.9 493.0,388.3 492.5,387.3 492.0,386.1 491.5,387.4 491.0,385.7 490.5,385.5 490.0,386.9 489.5,385.9 489.0,385.1 488.5,384.7 488.0,384.9 487.5,384.5 487.0,384.2 486.5,384.6 486.0,383.7 485.5,383.2 485.0,383.2 484.5,382.5 484.0,381.7 483.5,381.3 483.0,380.4 482.5,379.8 482.0,379.1 481.5,379.7 481.0,378.5 480.5,379.0 480.0,379.8 479.5,382.1 479.0,382.6 478.5,383.8 478.0,385.0 477.5,385.9 477.0,387.5 476.5,388.7 476.0,390.2 475.5,392.6 475.0,392.5 474.5,394.1 474.0,394.2 473.5,395.0 473.0,395.6 472.5,396.2 472.0,396.2 471.5,396.6 471.0,397.3 470.5,398.5 470.0,397.0 469.5,398.0 469.0,397.3 468.5,397.5 468.0,397.6 467.5,398.5 467.0,397.3 466.5,397.5 466.0,396.8 465.5,397.1 465.0,396.6 464.5,396.8 464.0,397.4 463.5,398.3 463.0,396.8 462.5,396.3 462.0,397.3 461.5,396.2 461.0,401.8 460.5,398.6 460.0,396.4 459.5,396.3 459.0,396.3 458.5,396.3 458.0,396.1 457.5,396.3 457.0,397.1 456.5,398.4 456.0,396.7 455.5,396.3 455.0,396.0 454.5,399.0 454.0,396.1 453.5,396.6 453.0,396.9 452.5,397.8 452.0,396.0 451.5,396.1 451.0,396.7 450.5,396.2 450.0,395.6 449.5,395.8 449.0,396.2 448.5,396.1 448.0,395.9 447.5,395.5 447.0,395.4 446.5,396.2 446.0,396.3 445.5,395.2 445.0,396.0 444.5,395.2 444.0,396.8 443.5,395.0 443.0,396.1 442.5,395.0 442.0,395.7 441.5,395.1 441.0,394.8 440.5,395.5 440.0,394.9 439.5,395.2 439.0,394.7 438.5,395.6 438.0,396.2 437.5,394.9 437.0,394.4 436.5,395.2 436.0,394.5 435.5,395.2 435.0,394.1 434.5,394.6 434.0,395.1 433.5,394.3 433.0,394.2 432.5,394.6 432.0,393.8 431.5,393.8 431.0,394.3 430.5,395.1 430.0,393.6 429.5,393.6 429.0,393.4 428.5,394.2 428.0,393.9 427.5,394.1 427.0,393.4 426.5,394.0 426.0,392.7 425.5,392.8 425.0,394.2 424.5,392.8 424.0,392.8 423.5,393.2 423.0,392.7 422.5,392.6 422.0,392.2 421.5,392.3 421.0,393.3 420.5,392.7 420.0,392.2 419.5,393.1 419.0,393.9 418.5,392.0 418.0,391.8 417.5,392.9 417.0,391.4 416.5,391.3 416.0,393.6 415.5,392.3 415.0,391.1 414.5,391.3 414.0,391.3 413.5,391.0 413.0,390.8 412.5,392.9 412.0,390.9 411.5,391.5 411.0,390.7 410.5,391.8 410.0,390.6 409.5,390.9 409.0,390.4 408.5,390.4 408.0,390.9 407.5,390.5 407.0,391.0 406.5,391.5 406.0,390.1 405.5,389.7 405.0,390.2 404.5,389.6 404.0,389.6 403.5,390.8 403.0,390.6 402.5,389.8 402.0,390.7 401.5,389.9 401.0,390.9 400.5,390.5 400.0,389.3 399.5,391.5 399.0,389.8 398.5,389.2 398.0,389.4 397.5,390.4 397.0,389.4 396.5,389.1 396.0,390.2 395.5,388.7 395.0,388.8 394.5,388.9 394.0,388.5 393.5,388.6 393.0,388.6 392.5,389.3 392.0,391.6 391.5,389.5 391.0,388.4 390.5,389.1 390.0,388.1 389.5,389.2 389.0,388.5 388.5,388.1 388.0,389.2 387.5,387.7 387.0,388.6 386.5,387.4 386.0,388.3 385.5,387.3 385.0,387.7 384.5,387.9 384.0,389.7 383.5,387.1 383.0,387.4 382.5,387.0 382.0,387.3 381.5,387.7 381.0,386.9 380.5,386.8 380.0,387.6 379.5,388.9 379.0,386.6 378.5,386.6 378.0,387.1 377.5,387.3 377.0,386.7 376.5,385.9 376.0,386.3 375.5,387.5 375.0,385.4 374.5,385.4 374.0,386.6 373.5,385.5 373.0,386.4 372.5,384.9 372.0,385.0 371.5,385.0 371.0,385.0 370.5,384.9 370.0,384.3 369.5,384.4 369.0,384.2 368.5,384.0 368.0,384.3 367.5,384.1 367.0,383.9 366.5,384.9 366.0,384.3 365.5,383.5 365.0,383.6 364.5,385.2 364.0,383.1 363.5,383.3 363.0,384.3 362.5,382.9 362.0,382.8 361.5,382.7 361.0,382.5 360.5,382.4 360.0,382.3 359.5,382.4 359.0,382.1 358.5,382.5 358.0,382.6 357.5,381.6 357.0,381.6 356.5,382.2 356.0,381.3 355.5,382.7 355.0,381.5 354.5,384.5 354.0,381.0 353.5,380.5 353.0,380.5 352.5,380.3 352.0,380.3 351.5,379.9 351.0,380.7 350.5,380.2 350.0,379.6 349.5,379.4 349.0,381.4 348.5,379.2 348.0,378.9 347.5,379.2 347.0,379.0 346.5,378.0 346.0,378.0 345.5,378.0 345.0,378.2 344.5,378.4 344.0,376.6 343.5,377.2 343.0,375.9 342.5,377.2 342.0,375.9 341.5,376.2 341.0,374.6 340.5,374.2 340.0,375.5 339.5,373.4 339.0,373.3 338.5,372.8 338.0,373.4 337.5,371.7 337.0,370.8 336.5,370.4 336.0,370.9 335.5,370.3 335.0,369.9 334.5,369.0 334.0,368.5 333.5,368.4 333.0,368.1 332.5,368.2 332.0,367.7 331.5,367.5 331.0,366.2 330.5,367.4 330.0,366.5 329.5,365.7 329.0,367.8 328.5,366.0 328.0,364.3 327.5,364.0 327.0,363.6 326.5,362.3 326.0,362.8 325.5,362.2 325.0,362.5 324.5,359.6 324.0,359.7 323.5,358.9 323.0,359.1 322.5,356.7 322.0,355.9 321.5,354.5 321.0,353.8 320.5,352.9 320.0,351.5 319.5,350.8 319.0,348.8 318.5,348.9 318.0,346.2 317.5,344.9 317.0,343.4 316.5,341.9 316.0,340.2 315.5,338.9 315.0,336.6 314.5,334.8 314.0,333.6 313.5,330.9 313.0,328.8 312.5,327.2 312.0,325.2 311.5,323.1 311.0,322.0 310.5,320.2 310.0,319.2 309.5,315.8 309.0,313.2 308.5,311.8 308.0,309.0 307.5,306.5 307.0,307.4 306.5,302.5 306.0,301.7 305.5,297.9 305.0,297.2 304.5,297.4 304.0,293.2 303.5,293.7 303.0,291.2 302.5,290.4 302.0,293.1 301.5,292.8 301.0,290.5 300.5,291.2 300.0,291.8 299.5,293.1 299.0,294.4 298.5,294.4 298.0,296.2 297.5,298.0 297.0,301.3 296.5,304.1 296.0,306.5 295.5,308.2 295.0,310.9 294.5,312.9 294.0,315.9 293.5,316.9 293.0,319.1 292.5,322.0 292.0,322.6 291.5,323.6 291.0,325.2 290.5,326.5 290.0,329.9 289.5,329.4 289.0,332.2 288.5,332.1 288.0,333.5 287.5,335.0 287.0,335.1 286.5,338.5 286.0,337.3 285.5,339.0 285.0,338.9 284.5,340.7 284.0,341.8 283.5,341.5 283.0,344.5 282.5,344.1 282.0,343.2 281.5,343.9 281.0,345.4 280.5,347.1 280.0,346.3 279.5,346.1 279.0,347.0 278.5,347.8 278.0,347.4 277.5,347.8 277.0,349.4 276.5,348.6 276.0,349.2 275.5,349.4 275.0,351.0 274.5,351.2 274.0,350.7 273.5,351.5 273.0,351.7 272.5,352.3 272.0,352.9 271.5,353.6 271.0,354.1 270.5,354.6 270.0,354.4 269.5,357.1 269.0,354.6 268.5,355.1 268.0,356.6 267.5,355.6 267.0,355.8 266.5,355.8 266.0,357.1 265.5,357.1 265.0,356.9 264.5,358.3 264.0,357.0 263.5,359.2 263.0,358.6 262.5,357.8 262.0,358.2 261.5,361.9 261.0,358.8 260.5,359.2 260.0,360.7 259.5,359.4 259.0,359.6 258.5,360.1 258.0,360.2 257.5,361.7 257.0,360.6 256.5,361.1 256.0,361.0 255.5,361.8 255.0,361.3 254.5,361.4 254.0,361.9 253.5,362.0 253.0,362.3 252.5,361.8 252.0,361.9 251.5,361.6 251.0,361.7 250.5,361.8 250.0,363.5 249.5,362.2 249.0,362.4 248.5,362.6 248.0,363.2 247.5,362.6 247.0,363.1 246.5,364.5 246.0,364.0 245.5,365.3 245.0,364.5 244.5,364.9 244.0,364.3 243.5,364.5 243.0,365.1 242.5,364.1 242.0,365.4 241.5,365.4 241.0,364.9 240.5,364.3 240.0,365.2 239.5,365.2 239.0,365.2 238.5,365.0 238.0,364.8 237.5,367.7 237.0,365.1 236.5,365.4 236.0,364.9 235.5,365.9 235.0,366.0 234.5,365.9 234.0,366.3 233.5,366.4 233.0,365.7 232.5,365.0 232.0,366.3 231.5,365.0 231.0,365.5 230.5,365.1 230.0,365.0 229.5,365.2 229.0,368.1 228.5,366.1 228.0,366.1 227.5,365.1 227.0,368.4 226.5,365.0 226.0,367.8 225.5,364.4 225.0,366.7 224.5,364.2 224.0,365.4 223.5,365.1 223.0,365.6 222.5,365.4 222.0,363.3 221.5,363.6 221.0,363.8 220.5,363.8 220.0,363.2 219.5,363.7 219.0,364.5 218.5,364.1 218.0,362.5 217.5,363.0 217.0,362.8 216.5,363.1 216.0,362.7 215.5,369.0 215.0,364.4 214.5,364.0 214.0,363.5 213.5,362.0 213.0,361.9 212.5,361.7 212.0,362.7 211.5,362.0 211.0,361.3 210.5,362.1 210.0,361.6 209.5,361.0 209.0,362.1 208.5,361.7 208.0,362.5 207.5,361.8 207.0,360.9 206.5,361.2 206.0,360.8 205.5,362.3 205.0,364.9 204.5,362.2 204.0,360.7 203.5,361.1 203.0,360.1 202.5,359.7 202.0,361.8 201.5,359.4 201.0,359.3 200.5,359.0 200.0,358.8 199.5,359.6 199.0,360.6 198.5,359.5 198.0,359.6 197.5,358.4 197.0,358.8 196.5,358.0 196.0,358.3 195.5,358.9 195.0,358.4 194.5,357.8 194.0,358.8 193.5,357.4 193.0,357.4 192.5,357.6 192.0,357.1 191.5,360.0 191.0,356.9 190.5,357.6 190.0,356.7 189.5,356.5 189.0,356.4 188.5,356.6 188.0,356.5 187.5,356.9 187.0,356.1 186.5,355.5 186.0,355.5 185.5,355.7 185.0,355.2 184.5,354.7 184.0,354.7 183.5,355.1 183.0,356.1 182.5,354.9 182.0,355.4 181.5,355.1 181.0,355.5 180.5,353.9 180.0,354.0 179.5,353.4 179.0,353.0 178.5,353.4 178.0,352.8 177.5,353.8 177.0,353.5 176.5,352.6 176.0,352.0 175.5,353.2 175.0,352.0 174.5,351.5 174.0,351.4 173.5,351.3 173.0,351.2 172.5,350.6 172.0,350.4 171.5,351.2 171.0,350.2 170.5,349.9 170.0,351.5 169.5,349.2 169.0,349.1 168.5,348.4 168.0,348.0 167.5,348.5 167.0,348.2 166.5,346.9 166.0,349.2 165.5,345.9 165.0,346.0 164.5,346.5 164.0,344.8 163.5,344.7 163.0,345.7 162.5,344.1 162.0,343.6 161.5,343.0 161.0,343.2 160.5,343.1 160.0,342.1 159.5,342.0 159.0,344.1 158.5,340.2 158.0,340.4 157.5,339.2 157.0,339.4 156.5,338.5 156.0,337.5 155.5,337.0 155.0,336.7 154.5,335.8 154.0,335.7 153.5,334.8 153.0,335.1 152.5,335.0 152.0,334.1 151.5,332.7 151.0,331.5 150.5,331.9 150.0,330.9 149.5,329.1 149.0,328.4 148.5,326.9 148.0,325.1 147.5,324.5 147.0,321.6 146.5,321.1 146.0,318.2 145.5,314.1 145.0,311.6 144.5,310.4 144.0,307.3 143.5,305.4 143.0,303.2 142.5,300.7 142.0,299.4 141.5,298.4 141.0,295.6 140.5,293.1 140.0,293.5 139.5,296.3 139.0,296.9 138.5,300.1 138.0,306.0 137.5,307.0 137.0,312.7 136.5,315.0 136.0,322.9 135.5,322.4 135.0,326.9 134.5,328.4 134.0,331.1 133.5,332.6 133.0,335.3 132.5,336.3 132.0,338.1 131.5,338.4 131.0,339.5 130.5,340.3 130.0,341.4 129.5,342.0 129.0,343.0 128.5,343.1 128.0,343.2 127.5,343.9 127.0,344.3 126.5,344.9 126.0,346.8 125.5,345.8 125.0,346.1 124.5,346.3 124.0,347.0 123.5,346.9 123.0,347.6 122.5,347.8 122.0,348.6 121.5,348.3 121.0,350.1 120.5,349.1 120.0,349.5 119.5,351.0 119.0,352.1 118.5,350.6 118.0,351.5 117.5,351.5 117.0,351.9 116.5,351.9 116.0,352.3 115.5,353.0 115.0,354.4 114.5,353.0 114.0,353.4 113.5,354.0 113.0,353.8 112.5,354.2 112.0,355.4 111.5,355.0 111.0,354.7 110.5,354.8 110.0,354.7 109.5,355.6 109.0,355.2 108.5,355.0 108.0,359.5 107.5,355.7 107.0,355.6 106.5,356.7 106.0,356.4 105.5,355.7 105.0,356.7 104.5,356.3 104.0,359.6 103.5,356.9 103.0,356.5 102.5,357.1 102.0,357.0 101.5,360.8 101.0,357.3 100.5,358.1 100.0,358.5 99.5,357.7 99.0,358.1 98.5,358.2 98.0,358.2 97.5,358.3 97.0,358.7 96.5,358.7 96.0,359.6 95.5,359.0 95.0,360.0 94.5,361.1 94.0,362.9 93.5,360.8 93.0,361.1 92.5,360.3 92.0,361.6 91.5,359.8 91.0,359.8 90.5,360.1 90.0,360.2 89.5,359.6 89.0,360.9 88.5,360.6 88.0,360.0 87.5,361.0 87.0,359.9 86.5,359.8 86.0,359.6 85.5,360.1 85.0,359.6 84.5,360.2 84.0,363.3 83.5,362.1 83.0,361.0 82.5,359.8 82.0,361.7 81.5,359.1 81.0,359.2 80.5,359.8 80.0,358.9 79.5,359.1 79.0,360.5 78.5,359.8 78.0,360.2 77.5,358.1 77.0,357.3 76.5,357.3 76.0,357.1 75.5,356.8 75.0,357.9 74.5,356.2 74.0,355.7 73.5,357.1 73.0,356.1 72.5,355.3 72.0,353.2 71.5,352.5 71.0,351.8 70.5,350.5 70.0,349.9 69.5,349.5 69.0,347.5 68.5,346.9 68.0,344.9 67.5,344.0 67.0,342.0 66.5,339.4 66.0,337.9 65.5,334.1 65.0,330.6 64.5,326.1 64.0,321.3Z"/>
<path fill="#077407" stroke="none" d="M64.4,463.4 64.9,468.0 65.4,471.6 65.9,476.1 66.4,478.7 66.9,479.9 67.4,481.1 67.9,483.3 68.4,483.4 68.9,483.2 69.4,484.8 69.9,484.2 70.4,486.1 70.9,485.8 71.4,486.6 71.9,486.6 72.4,486.3 72.9,487.7 73.4,485.1 73.9,488.2 74.4,488.4 74.9,488.0 75.4,488.5 75.9,487.9 76.4,487.4 76.9,487.9 77.4,486.0 77.9,487.6 78.4,487.7 78.9,487.7 79.4,487.1 79.9,487.0 80.4,487.2 80.9,487.7 81.4,486.4 81.9,487.3 82.4,487.7 82.9,487.6 83.4,486.0 83.9,488.1 84.4,487.7 84.9,488.5 85.4,488.0 85.9,488.5 86.4,488.1 86.9,488.9 87.4,488.2 87.9,488.1 88.4,487.9 88.9,489.5 89.4,490.0 89.9,489.6 90.4,490.1 90.9,490.7 91.4,489.7 91.9,490.0 92.4,491.7 92.9,491.7 93.4,491.9 93.9,492.1 94.4,489.9 94.9,492.5 95.4,492.7 95.9,492.9 96.4,491.8 96.9,493.1 97.4,493.3 97.9,493.3 98.4,493.0 98.9,492.9 99.4,493.9 99.9,494.4 100.4,492.1 100.9,494.2 101.4,491.6 101.9,495.0 102.4,495.1 102.9,494.6 103.4,495.0 103.9,494.9 104.4,496.1 104.9,495.3 105.4,496.0 105.9,492.9 106.4,496.1 106.9,497.5 107.4,494.4 107.9,498.0 108.4,498.1 108.9,498.5 109.4,496.8 109.9,499.2 110.4,499.2 110.9,498.7 111.4,500.2 111.9,500.4 112.4,500.8 112.9,501.1 113.4,501.6 113.9,502.2 114.4,500.3 114.9,502.5 115.4,501.8 115.9,499.9 116.4,501.2 116.9,503.4 117.4,504.2 117.9,502.8 118.4,502.8 118.9,503.9 119.4,505.2 119.9,505.8 120.4,506.0 120.9,506.3 121.4,506.1 121.9,506.1 122.4,505.6 122.9,506.9 123.4,506.2 123.9,507.6 124.4,505.9 124.9,507.3 125.4,504.7 125.9,508.0 126.4,508.0 126.9,508.7 127.4,508.6 127.9,508.7 128.4,509.3 128.9,508.2 129.4,509.6 129.9,509.9 130.4,510.0 130.9,508.6 131.4,509.7 131.9,508.9 132.4,509.7 132.9,510.2 133.4,510.8 133.9,510.7 134.4,511.1 134.9,511.5 135.4,511.5 135.9,509.2 136.4,511.5 136.9,512.1 137.4,512.4 137.9,511.9 138.4,512.8 138.9,513.3 139.4,513.3 139.9,513.4 140.4,512.9 140.9,514.1 141.4,513.4 141.9,513.9 142.4,513.3 142.9,514.8 143.4,514.2 143.9,514.1 144.4,513.9 144.9,515.1 145.4,514.7 145.9,514.6 146.4,515.4 146.9,515.6 147.4,513.8 147.9,513.1 148.4,514.4 148.9,515.8 149.4,515.5 149.9,515.2 150.4,516.2 150.9,516.1 151.4,516.2 151.9,515.2 152.4,516.9 152.9,517.4 153.4,517.3 153.9,515.0 154.4,517.9 154.9,517.9 155.4,517.9 155.9,516.0 156.4,517.0 156.9,518.2 157.4,517.6 157.9,518.2 158.4,518.2 158.9,515.6 159.4,517.9 159.9,518.9 160.4,518.9 160.9,517.4 161.4,519.4 161.9,519.5 162.4,519.1 162.9,518.9 163.4,519.9 163.9,519.7 164.4,518.4 164.9,519.9 165.4,517.0 165.9,521.0 166.4,521.1 166.9,518.6 167.4,520.7 167.9,520.8 168.4,521.6 168.9,521.7 169.4,522.0 169.9,521.4 170.4,522.2 170.9,520.0 171.4,522.1 171.9,522.4 172.4,521.2 172.9,521.5 173.4,522.0 173.9,523.0 174.4,523.0 174.9,523.2 175.4,521.8 175.9,523.3 176.4,521.5 176.9,522.4 177.4,522.9 177.9,523.4 178.4,523.3 178.9,523.0 179.4,521.2 179.9,522.4 180.4,523.3 180.9,522.7 181.4,521.7 181.9,522.9 182.4,522.9 182.9,523.9 183.4,523.8 183.9,523.9 184.4,523.8 184.9,523.6 185.4,523.3 185.9,524.3 186.4,524.3 186.9,524.6 187.4,524.1 187.9,524.6 188.4,524.2 188.9,525.1 189.4,524.3 189.9,525.4 190.4,525.7 190.9,525.0 191.4,525.1 191.9,524.5 192.4,524.7 192.9,520.6 193.4,525.6 193.9,526.0 194.4,525.9 194.9,526.2 195.4,526.2 195.9,526.0 196.4,526.6 196.9,527.2 197.4,527.1 197.9,527.1 198.4,526.6 198.9,527.2 199.4,525.6 199.9,526.8 200.4,528.0 200.9,528.2 201.4,527.3 201.9,525.9 202.4,527.8 202.9,528.2 203.4,527.1 203.9,524.4 204.4,527.4 204.9,527.1 205.4,528.6 205.9,529.0 206.4,528.8 206.9,528.5 207.4,528.3 207.9,528.9 208.4,528.8 208.9,528.6 209.4,529.1 209.9,527.3 210.4,527.8 210.9,528.1 211.4,528.1 211.9,527.5 212.4,528.1 212.9,527.4 213.4,527.1 213.9,526.1 214.4,527.1 214.9,526.4 215.4,525.4 215.9,526.6 216.4,525.1 216.9,526.8 217.4,527.0 217.9,527.4 218.4,526.0 218.9,527.6 219.4,526.8 219.9,526.4 220.4,527.5 220.9,526.7 221.4,527.5 221.9,525.9 222.4,527.5 222.9,528.2 223.4,528.4 223.9,527.4 224.4,525.7 224.9,528.6 225.4,528.9 225.9,528.8 226.4,529.7 226.9,529.6 227.4,529.9 227.9,530.5 228.4,530.1 228.9,530.9 229.4,528.6 229.9,528.5 230.4,530.4 230.9,530.7 231.4,530.8 231.9,530.7 232.4,530.9 232.9,530.6 233.4,529.7 233.9,530.1 234.4,528.4 234.9,528.3 235.4,530.4 235.9,529.6 236.4,528.4 236.9,530.1 237.4,530.1 237.9,529.0 238.4,530.0 238.9,529.5 239.4,529.5 239.9,529.8 240.4,529.3 240.9,529.0 241.4,530.1 241.9,530.2 242.4,530.3 242.9,524.3 243.4,530.6 243.9,530.7 244.4,530.4 244.9,529.0 245.4,530.4 245.9,530.1 246.4,530.6 246.9,530.9 247.4,530.8 247.9,530.8 248.4,531.0 248.9,530.6 249.4,531.0 249.9,530.9 250.4,530.4 250.9,529.8 251.4,530.8 251.9,527.7 252.4,529.7 252.9,531.1 253.4,531.6 253.9,531.7 254.4,531.7 254.9,531.5 255.4,532.3 255.9,531.8 256.4,531.4 256.9,531.8 257.4,532.7 257.9,530.8 258.4,533.1 258.9,533.3 259.4,533.8 259.9,532.6 260.4,533.8 260.9,534.1 261.4,532.5 261.9,533.7 262.4,534.3 262.9,534.3 263.4,530.9 263.9,534.6 264.4,531.3 264.9,533.9 265.4,534.2 265.9,533.9 266.4,535.2 266.9,534.7 267.4,534.6 267.9,532.2 268.4,535.5 268.9,534.9 269.4,532.2 269.9,535.0 270.4,535.2 270.9,535.5 271.4,534.2 271.9,535.4 272.4,534.9 272.9,534.5 273.4,535.3 273.9,535.2 274.4,534.4 274.9,533.9 275.4,533.8 275.9,534.6 276.4,533.3 276.9,534.5 277.4,534.4 277.9,532.6 278.4,533.5 278.9,532.7 279.4,533.3 279.9,533.2 280.4,532.0 280.9,532.8 281.4,532.2 281.9,531.8 282.4,531.5 282.9,530.1 283.4,529.5 283.9,528.9 284.4,529.3 284.9,528.0 285.4,527.7 285.9,526.7 286.4,526.9 286.9,526.3 287.4,525.6 287.9,524.3 288.4,523.4 288.9,522.8 289.4,521.1 289.9,520.4 290.4,519.0 290.9,516.4 291.4,514.5 291.9,511.6 292.4,508.6 292.9,504.7 293.4,501.2 293.9,497.7 294.4,493.8 294.9,490.4 295.4,486.1 295.9,481.4 296.4,474.8 296.9,465.6 297.4,454.6 297.9,441.9 298.4,429.4 298.9,416.8 299.4,405.5 299.9,395.8 300.4,385.8 300.9,375.6 301.4,366.1 301.9,358.5 302.4,353.5 302.9,352.2 303.4,354.9 303.9,360.9 304.4,368.8 304.9,378.1 305.4,388.3 305.9,397.9 306.4,407.2 306.9,418.4 307.4,430.1 307.9,442.4 308.4,454.2 308.9,465.3 309.4,475.0 309.9,482.6 310.4,488.4 310.9,494.0 311.4,500.8 311.9,506.8 312.4,511.2 312.9,514.2 313.4,517.1 313.9,519.4 314.4,522.1 314.9,524.7 315.4,527.6 315.9,530.6 316.4,532.8 316.9,535.1 317.4,536.6 317.9,539.7 318.4,540.9 318.9,540.2 319.4,542.7 319.9,542.9 320.4,545.9 320.9,545.6 321.4,548.3 321.9,549.1 322.4,547.1 322.9,549.5 323.4,551.9 323.9,552.8 324.4,551.6 324.9,554.1 325.4,554.7 325.9,553.0 326.4,554.9 326.9,556.0 327.4,556.6 327.9,556.4 328.4,557.3 328.9,557.2 329.4,558.1 329.9,558.2 330.4,556.9 330.9,558.0 331.4,559.4 331.9,559.6 332.4,558.9 332.9,559.7 333.4,560.4 333.9,560.8 334.4,559.0 334.9,558.8 335.4,561.1 335.9,562.1 336.4,561.0 336.9,562.0 337.4,562.3 337.9,563.8 338.4,562.3 338.9,563.9 339.4,564.7 339.9,565.4 340.4,564.0 340.9,565.5 341.4,565.1 341.9,565.9 342.4,565.3 342.9,566.4 343.4,564.9 343.9,566.0 344.4,566.7 344.9,565.7 345.4,566.8 345.9,567.0 346.4,567.6 346.9,565.2 347.4,567.4 347.9,568.2 348.4,567.9 348.9,568.0 349.4,568.3 349.9,569.0 350.4,568.5 350.9,569.4 351.4,568.7 351.9,569.0 352.4,569.2 352.9,569.8 353.4,569.9 353.9,570.6 354.4,570.7 354.9,570.6 355.4,570.0 355.9,571.3 356.4,570.7 356.9,571.4 357.4,570.9 357.9,570.9 358.4,571.5 358.9,571.4 359.4,571.8 359.9,572.3 360.4,571.6 360.9,571.9 361.4,571.3 361.9,572.6 362.4,572.8 362.9,573.1 363.4,571.7 363.9,573.7 364.4,574.3 364.9,574.2 365.4,574.4 365.9,574.2 366.4,573.8 366.9,573.9 367.4,574.4 367.9,574.1 368.4,574.5 368.9,575.0 369.4,574.8 369.9,575.2 370.4,573.6 370.9,575.2 371.4,575.7 371.9,575.0 372.4,575.7 372.9,575.2 373.4,574.7 373.9,576.1 374.4,576.1 374.9,575.2 375.4,575.6 375.9,575.8 376.4,574.9 376.9,576.5 377.4,576.9 377.9,576.4 378.4,576.5 378.9,576.9 379.4,577.0 379.9,577.5 380.4,577.6 380.9,574.8 381.4,577.0 381.9,577.2 382.4,577.8 382.9,577.2 383.4,578.1 383.9,576.5 384.4,577.5 384.9,577.1 385.4,577.7 385.9,577.9 386.4,577.6 386.9,578.3 387.4,578.5 387.9,578.2 388.4,578.0 388.9,577.3 389.4,578.6 389.9,578.7 390.4,578.9 390.9,578.1 391.4,579.2 391.9,578.9 392.4,579.0 392.9,579.1 393.4,576.3 393.9,580.1 394.4,579.8 394.9,578.9 395.4,580.3 395.9,580.2 396.4,580.0 396.9,580.7 397.4,581.0 397.9,578.5 398.4,580.6 398.9,579.5 399.4,581.2 399.9,581.1 400.4,581.3 400.9,580.2 401.4,581.5 401.9,581.4 402.4,581.2 402.9,577.5 403.4,581.7 403.9,580.7 404.4,581.1 404.9,581.0 405.4,581.4 405.9,581.9 406.4,581.8 406.9,582.0 407.4,578.1 407.9,582.4 408.4,581.3 408.9,582.0 409.4,582.5 409.9,582.9 410.4,582.8 410.9,582.8 411.4,582.5 411.9,583.3 412.4,583.3 412.9,583.3 413.4,583.5 413.9,583.2 414.4,583.5 414.9,583.3 415.4,583.5 415.9,583.8 416.4,583.9 416.9,584.3 417.4,583.2 417.9,584.4 418.4,584.7 418.9,584.4 419.4,584.7 419.9,584.5 420.4,585.2 420.9,583.5 421.4,584.2 421.9,584.5 422.4,585.4 422.9,584.6 423.4,585.0 423.9,585.5 424.4,584.9 424.9,584.4 425.4,583.5 425.9,585.6 426.4,584.3 426.9,583.7 427.4,585.1 427.9,585.7 428.4,585.9 428.9,585.8 429.4,585.9 429.9,586.1 430.4,585.9 430.9,585.2 431.4,586.3 431.9,583.6 432.4,585.7 432.9,586.3 433.4,585.6 433.9,586.7 434.4,586.5 434.9,586.9 435.4,587.1 435.9,586.7 436.4,586.1 436.9,586.3 437.4,587.0 437.9,587.7 438.4,587.5 438.9,587.6 439.4,587.9 439.9,587.8 440.4,588.0 440.9,587.7 441.4,587.4 441.9,587.5 442.4,587.9 442.9,587.7 443.4,588.1 443.9,587.9 444.4,588.3 444.9,588.5 445.4,587.9 445.9,587.5 446.4,588.7 446.9,587.9 447.4,588.8 447.9,588.6 448.4,587.5 448.9,587.5 449.4,588.5 449.9,588.6 450.4,588.8 450.9,589.1 451.4,587.3 451.9,588.4 452.4,588.7 452.9,589.1 453.4,588.3 453.9,588.8 454.4,588.9 454.9,589.5 455.4,588.3 455.9,588.5 456.4,589.5 456.9,588.5 457.4,589.7 457.9,589.9 458.4,589.3 458.9,589.3 459.4,589.8 459.9,588.9 460.4,589.6 460.9,589.9 461.4,589.9 461.9,588.4 462.4,589.8 462.9,589.6 463.4,588.7 463.9,590.6 464.4,588.6 464.9,590.4 465.4,590.6 465.9,590.3 466.4,590.1 466.9,590.6 467.4,590.2 467.9,589.9 468.4,590.3 468.9,590.3 469.4,590.1 469.9,590.3 470.4,590.6 470.9,589.8 471.4,589.7 471.9,589.7 472.4,589.9 472.9,590.0 473.4,590.6 473.9,590.7 474.4,589.5 474.9,589.2 475.4,590.6 475.9,589.8 476.4,588.9 476.9,589.4 477.4,588.6 477.9,587.6 478.4,587.1 478.9,585.1 479.4,583.5 479.9,582.2 480.4,582.4 480.9,581.4 481.4,581.5 481.9,581.1 482.4,581.4 482.9,578.5 483.4,582.1 483.9,582.7 484.4,583.0 484.9,583.0 485.4,583.2 485.9,583.5 486.4,583.1 486.9,583.4 487.4,583.7 487.9,583.1 488.4,583.7 488.9,580.6 489.4,582.4 489.9,583.2 490.4,583.9 490.9,583.6 491.4,583.4 491.9,583.5 492.4,582.7 492.9,583.4 493.4,583.1 493.9,583.0 494.4,582.9 494.9,581.8 495.4,582.6 495.9,582.7 496.4,582.3 496.9,582.4 497.4,582.3 497.9,582.3 498.4,582.1 498.9,580.6 499.4,580.8 499.9,581.0 500.4,582.2 500.9,581.5 501.4,581.0 501.9,581.9 502.4,581.8 502.9,582.2 503.4,582.0 503.9,582.5 504.4,582.5 504.9,582.3 505.4,583.3 505.9,583.5 506.4,584.1 506.9,584.4 507.4,583.7 507.9,585.0 508.4,585.1 508.9,585.1 509.4,585.9 509.9,586.1 510.4,586.1 510.9,583.7 511.4,586.6 511.9,587.3 512.4,586.5 512.9,587.9 513.4,588.0 513.9,588.1 514.4,588.5 514.9,588.6 515.4,588.9 515.9,589.2 516.4,589.2 516.9,589.4 517.4,589.7 517.9,589.4 518.4,589.2 518.9,589.6 519.4,589.5 519.9,590.3 520.4,589.8 520.9,590.8 521.4,590.1 521.9,590.7 522.4,591.1 522.9,591.2 523.4,591.0 523.9,591.2 524.4,592.1 524.9,592.3 525.4,592.1 525.9,592.7 526.4,592.1 526.9,592.2 527.4,592.7 527.9,593.6 528.4,593.6 528.9,593.5 529.4,594.1 529.9,593.5 530.4,593.0 530.9,593.9 531.4,594.0 531.9,593.5 532.4,594.2 532.9,594.6 533.4,594.6 533.9,594.3 534.4,592.6 534.9,594.4 535.4,594.9 535.9,594.7 536.4,593.5 536.9,594.7 537.4,594.8 537.9,594.6 538.4,592.6 538.9,594.8 539.4,594.3 539.9,593.1 540.4,595.4 540.9,595.3 541.4,595.0 541.9,594.7 542.4,595.6 542.9,594.7 543.4,595.6 543.9,595.0 544.4,594.5 544.9,595.1 545.4,592.5 545.9,595.9 546.4,594.5 546.9,595.9 547.4,596.0 547.9,594.7 548.4,596.0 548.9,595.7 549.4,596.3 549.9,595.5 550.4,596.2 550.9,596.4 551.4,595.6 551.9,596.2 552.4,596.6 552.9,594.9 553.4,594.5 553.9,596.4 554.4,596.3 554.9,596.8 555.4,596.7 555.9,595.7 556.4,595.4 556.9,595.8 557.4,597.1 557.9,596.6 558.4,596.5 558.9,596.9 559.4,596.2 559.9,597.2 560.4,597.1 560.9,597.3 561.4,597.3 561.9,597.1 562.4,596.6 562.9,596.9 563.4,597.0 563.9,597.1 564.4,597.0 564.9,597.0 565.4,596.8 565.9,596.8 566.4,596.1 566.9,597.4 567.4,597.4 567.9,597.1 568.4,597.4 568.9,597.5 569.4,597.8 569.9,597.9 570.4,597.8 570.9,597.6 571.4,597.7 571.9,597.3 572.4,597.7 572.9,598.0 573.4,598.2 573.9,598.2 574.4,598.3 574.9,596.9 575.4,597.7 575.9,598.4 576.4,598.0 576.9,598.6 577.4,597.3 577.9,597.0 578.4,598.5 578.9,595.7 579.4,598.3 579.9,597.5 580.4,598.8 580.9,598.3 581.4,598.1 581.9,598.1 582.4,598.3 582.9,598.6 583.4,598.0 583.9,598.5 584.4,598.8 584.9,598.6 585.4,597.3 585.9,597.7 586.4,598.8 586.9,598.5 587.4,598.4 587.9,598.4 588.4,597.9 588.9,598.2 589.4,598.8 589.9,598.5 590.4,597.4 590.9,598.1 591.4,598.5 591.9,598.6 592.4,598.7 592.9,598.6 593.4,597.3 593.9,598.7 594.4,598.1 594.9,597.0 595.4,598.7 595.9,598.7 596.4,597.6 596.9,598.7 597.4,597.6 597.9,598.5 598.4,597.9 598.9,598.6 599.4,598.3 599.9,597.6 600.4,597.7 600.9,598.6 601.4,597.8 601.9,598.2 602.4,598.2 602.9,597.8 603.4,598.1 603.9,596.3 604.4,597.9 604.9,596.4 605.4,597.3 605.9,596.9 606.4,596.3 606.9,597.3 607.4,597.1 607.9,596.8 608.4,596.7 608.9,595.7 609.4,596.0 609.9,596.4 610.4,596.4 610.9,596.1 611.4,595.9 611.9,596.2 612.4,595.5 612.9,594.5 613.4,595.9 613.9,596.0 614.4,594.5 614.9,595.9 615.4,595.6 615.9,595.8 616.4,595.7 616.9,595.5 617.4,595.4 617.9,595.6 618.4,595.6 618.9,596.8 619.4,596.7 619.9,596.9 620.4,596.8 620.9,596.8 621.4,598.0 621.9,598.2 622.4,597.4 622.9,599.2 623.4,599.1 623.9,599.3 624.4,600.0 624.9,600.0 625.4,599.7 625.9,599.1 626.4,600.4 626.9,600.4 627.4,600.9 627.9,600.3 628.4,600.6 628.9,601.1 629.4,601.0 629.9,599.8 630.4,600.6 630.9,600.1 631.4,600.0 631.9,600.8 632.4,600.6 632.9,600.5 633.4,601.3 633.9,601.4 634.4,601.6 634.9,601.6 635.4,600.8 635.9,601.2 636.4,601.5 636.9,601.6 637.4,600.5 637.9,601.2 638.4,600.7 638.9,600.7 639.4,601.5 639.9,600.5 640.4,601.7 640.9,599.2 641.4,600.6 641.9,601.8 642.4,601.3 642.9,601.2 643.4,602.0 643.9,600.7 644.4,601.6 644.9,601.3 645.4,602.2 645.9,600.8 646.4,601.9 646.9,602.0 647.4,601.5 647.9,602.1 648.4,602.2 648.9,601.7 649.4,602.3 649.9,600.9 650.4,602.1 650.9,602.2 651.4,602.3 651.9,602.1 652.4,602.2 652.9,602.3 653.4,601.2 653.9,601.9 654.4,600.1 654.9,600.8 655.4,602.0 655.9,601.3 656.4,601.7 656.9,602.3 657.4,600.2 657.9,601.2 658.4,601.9 658.9,602.1 659.4,601.5 659.9,602.1 660.4,602.3 660.9,602.0 661.4,602.1 661.9,601.6 662.4,602.2 662.9,602.4 663.4,601.7 663.9,602.3 664.4,602.5 664.9,601.5 665.4,602.6 665.9,602.6 666.4,602.5 666.9,602.2 667.4,602.7 667.9,602.4 668.4,602.6 668.9,601.2 669.4,602.0 669.9,602.7 670.4,602.3 670.9,602.7 671.4,602.3 671.9,602.7 672.4,602.8 672.9,603.0 673.4,603.0 673.9,602.8 674.4,603.1 674.9,602.9 675.4,603.1 675.9,602.2 676.4,601.9 676.9,603.0 677.4,601.4 677.9,602.9 678.4,603.2 678.9,603.1 679.4,602.8 679.9,602.5 680.4,601.2 680.9,603.3 681.4,603.1 681.9,603.4 682.4,602.8 682.9,603.4 683.4,602.1 683.9,603.5 684.4,603.4 684.9,602.6 685.4,603.2 685.9,603.5 686.4,603.3 686.9,603.7 687.4,602.3 687.9,603.7 688.4,602.8 688.9,603.5 689.4,603.5 689.9,602.1 690.4,603.1 690.9,603.8 691.4,602.9 691.9,603.5 692.4,603.6 692.9,603.7 693.4,603.7 693.9,603.1 694.4,603.7 694.9,603.7 695.4,603.6 695.9,602.8 696.4,603.6 696.9,603.8 697.4,603.8 697.9,603.6 698.4,603.4 698.9,602.1 699.4,603.6 699.9,603.2 700.4,603.5 700.9,603.5 701.4,603.1 701.9,603.5 702.4,602.5 702.9,603.6 703.4,603.8 703.9,602.6 704.4,604.0 704.9,603.8 705.4,603.7 705.9,603.9 706.4,604.0 706.9,603.8 707.4,603.3 707.9,604.1 708.4,604.1 708.9,603.6 709.4,603.4 709.9,603.9 710.4,603.2 710.9,604.0 711.4,604.3 711.9,603.8 712.4,603.9 712.9,604.1 713.4,604.0 713.9,600.9 714.4,603.8 714.9,603.7 715.4,602.4 715.9,603.4 716.4,601.9 716.9,602.7 717.4,602.0 717.9,602.5 718.4,602.1 718.9,602.6 719.4,603.0 719.9,603.4 720.4,603.8 720.9,603.6 721.4,604.4 721.9,604.7 722.4,604.8 722.9,604.0 723.4,604.9 723.9,604.3 724.4,604.9 724.9,605.0 725.4,604.7 725.9,604.8 726.4,604.8 726.9,604.4 727.4,604.9 727.9,605.1 728.4,604.7 728.9,605.1 729.4,603.9 729.9,605.1 730.4,605.4 730.9,605.3 731.4,604.6 731.9,605.0 732.4,604.7 732.9,604.8 733.4,604.6 733.9,604.6 734.4,605.4 734.9,604.5 735.4,603.3 735.9,604.7 736.4,605.5 736.9,604.6 737.4,604.8 737.9,605.3 738.4,604.6 738.9,602.8 739.4,605.6 739.9,605.5 740.4,605.7 740.9,605.5 741.4,605.2 741.9,605.2 742.4,605.7 742.9,605.2 743.4,605.7 743.9,605.0 744.4,604.7 744.9,605.7 745.4,605.9 745.9,605.6 746.4,605.8 746.9,605.4 747.4,605.8 747.9,605.4 748.4,603.7 748.9,605.9 749.4,606.0 749.9,605.8 750.4,605.3 750.9,605.6 751.4,605.6 751.9,606.1 752.4,605.0 752.9,606.2 753.4,606.2 753.9,606.1 754.4,606.2 754.9,605.9 755.4,605.8 755.9,605.9 756.4,606.1 756.9,605.7 757.4,604.9 757.9,605.5 758.4,606.3 758.9,606.4 759.4,606.4 759.9,606.2 760.4,605.6 760.9,606.2 761.4,606.3 761.9,606.2 762.4,606.1 762.9,606.4 763.4,606.4 763.9,606.2 764.4,606.2 764.9,605.7 765.4,606.4 765.9,606.3 766.4,606.1 766.9,606.4 767.4,606.0 767.9,606.2 768.4,606.1 768.9,605.4 769.4,606.2 769.9,606.3 770.4,605.3 770.9,606.4 771.4,605.8 771.9,606.2 772.4,606.4 772.9,606.2 773.4,605.7 773.9,606.2 774.4,606.2 774.9,605.7 775.4,606.4 775.9,606.1 776.4,605.7 776.9,606.4 777.4,606.3 777.9,605.4 778.4,606.2 778.9,606.2 779.4,605.7 779.9,606.4 780.4,605.9 780.9,604.4 781.4,605.9 781.9,606.4 782.4,606.3 782.9,606.4 783.4,605.7 783.9,605.5 784.4,606.4 784.9,606.3 785.4,606.4 785.9,605.8 786.4,606.5 786.9,605.8 787.4,606.2 787.9,605.8 788.4,606.1 788.9,605.4 789.4,606.6 789.9,606.4 790.4,606.5 790.9,606.1 791.4,605.7 791.9,606.0 792.4,606.6 792.9,606.6 793.4,605.3 793.9,606.6 794.4,606.7 794.9,606.3 795.4,606.0 795.9,605.9 796.4,606.7 796.9,606.5 797.4,605.9 797.9,606.0 798.4,606.6 798.9,606.2 799.4,606.7 799.9,606.3 800.4,606.1 800.9,606.2 801.4,606.4 801.9,606.5 802.4,606.6 802.9,606.5 803.4,604.8 803.9,606.3 804.4,606.2 804.9,606.2 805.4,606.7 805.9,606.6 806.4,606.4 806.9,606.5 807.4,606.5 807.9,605.9 808.4,606.5 808.9,606.7 809.4,605.9 809.9,606.7 810.4,606.6 810.9,605.2 811.4,606.5 811.9,605.4 812.4,606.3 812.9,606.4 813.4,606.5 813.9,606.7 814.4,606.7 814.9,606.6 815.4,606.7 815.9,606.2 816.4,604.9 816.9,605.8 817.4,606.5 817.9,606.5 818.4,604.8 818.9,606.6 819.4,606.2 819.9,606.4 820.4,606.5 820.9,606.7 821.4,605.4 821.9,606.6 822.4,606.2 822.9,606.7 823.4,605.2 823.9,605.9 824.4,606.5 824.9,606.7 825.4,606.5 825.9,606.7 826.4,606.4 826.9,606.2 827.4,606.6 827.9,606.3 828.4,605.8 828.9,606.4 829.4,606.0 829.9,605.2 830.4,606.7 830.9,606.6 831.4,606.7 831.9,606.7 832.4,606.1 832.9,606.7 833.4,606.7 833.9,606.6 834.4,606.2 834.9,606.6 835.4,605.5 835.9,606.7 836.4,605.9 836.9,605.1 837.4,605.6 837.9,605.3 838.4,606.0 838.9,606.5 839.4,606.7 839.9,606.3 840.4,606.7 840.9,606.6 841.4,606.5 841.9,606.5 842.4,606.5 842.9,606.0 843.4,606.7 843.9,606.4 844.4,606.9 844.9,605.8 845.4,606.7 845.9,606.9 846.4,606.7 846.9,607.0 847.4,606.6 847.9,606.6 848.4,606.8 848.9,606.9 849.4,607.1 849.9,607.1 850.4,606.4 850.9,606.8 851.4,606.5 851.9,606.6 852.4,606.2 852.9,607.2 853.4,607.0 853.9,607.2 854.4,607.3 854.9,607.4 855.4,607.3 855.9,606.2 856.4,607.4 856.9,607.4 857.4,607.1 857.9,607.1 858.4,606.9 858.9,607.3 859.4,607.4 859.9,607.2 860.4,606.7 860.9,607.2 861.4,607.4 861.9,607.1 862.4,607.0 862.9,607.4 863.4,607.4 863.9,607.0 864.4,606.8 864.9,607.5 865.4,606.6 865.9,607.0 866.4,606.8 866.9,607.2 867.4,606.5 867.9,606.5 868.4,606.9 868.9,607.5 869.4,607.1 869.9,606.7 870.4,606.6 870.9,607.4 871.4,606.0 871.9,606.7 872.4,605.4 872.9,606.7 873.4,606.8 873.9,607.2 874.4,607.1 874.9,607.1 875.4,607.3 875.9,607.5 876.4,607.2 876.9,606.1 877.4,607.1 877.9,606.8 878.4,605.8 878.9,607.0 879.4,606.5 879.9,606.2 880.4,605.7 880.9,606.3 881.4,605.8 881.9,605.8 882.4,605.7 882.9,605.2 883.4,604.3 883.9,604.3 884.4,603.2 884.9,602.0 885.4,602.4 885.9,601.9 886.4,601.9 886.9,601.3 887.4,600.2 887.9,600.6 888.4,600.6 888.9,600.5 889.4,600.1 889.9,600.6 890.4,602.2 890.9,602.0 891.4,603.5 891.9,603.1 892.4,604.3 892.9,605.1 893.4,605.1 893.9,605.1 894.4,605.9 894.9,606.1 895.4,605.8 895.9,605.4 896.4,605.6 896.9,605.5 897.4,606.5 897.9,606.5 898.4,606.3 898.9,606.5 899.4,606.3 899.9,606.7 900.4,604.7 900.9,605.3 901.4,606.9 901.9,606.7 902.4,606.3 902.9,607.0 903.4,606.9 903.9,606.6 904.4,606.3 904.9,606.6 905.4,607.0 905.9,605.9 906.4,606.2 906.9,607.2 907.4,607.1 907.9,607.1 908.4,607.2 908.9,607.2 909.4,607.1 909.9,607.2 910.4,607.1 910.9,607.3 911.4,606.7 911.9,607.2 912.4,607.2 912.9,607.1 913.4,607.3 913.9,607.4 914.4,606.6 914.9,607.4 915.4,607.4 915.9,607.4 916.4,605.3 916.9,606.5 917.4,607.2 917.9,605.8 918.4,606.6 918.9,606.5 919.4,607.1 919.9,607.1 920.4,607.5 920.9,607.5 921.4,607.1 921.9,607.0 922.4,607.3 922.9,606.9 923.4,606.5 923.9,607.2 924.4,607.3 924.9,607.4 925.4,607.3 925.9,607.1 926.4,605.8 926.9,607.3 927.4,607.0 927.9,607.2 928.4,606.9 928.9,605.8 929.4,607.3 929.9,607.3 930.4,607.2 930.9,605.4 931.4,606.5 931.9,606.2 932.4,607.0 932.9,607.1 933.4,607.1 933.9,606.4 934.4,606.7 934.9,606.4 935.4,606.9 935.9,606.9 936.4,606.2 936.9,606.5 937.4,606.2 937.9,606.8 938.4,605.7 938.9,605.1 939.4,606.9 939.9,606.4 940.4,606.4 940.9,606.5 941.4,606.4 941.9,606.9 942.4,606.1 942.9,606.9 943.4,606.0 943.9,606.7 944.4,605.3 944.9,606.7 945.4,606.0 945.9,606.8 946.4,606.5 946.9,606.7 947.4,606.4 947.9,606.6 948.4,607.0 948.9,607.3 949.4,607.3 949.9,606.1 950.4,607.1 950.9,607.5 950.9,609.8 950.4,610.2 949.9,609.0 949.4,609.5 948.9,609.3 948.4,609.0 947.9,609.1 947.4,609.7 946.9,609.2 946.4,608.7 945.9,609.5 945.4,608.8 944.9,608.8 944.4,608.7 943.9,608.9 943.4,609.0 942.9,608.8 942.4,609.1 941.9,609.1 941.4,609.6 940.9,609.2 940.4,609.1 939.9,609.3 939.4,608.7 938.9,609.1 938.4,609.5 937.9,609.0 937.4,608.7 936.9,608.8 936.4,610.0 935.9,609.2 935.4,608.8 934.9,608.9 934.4,609.3 933.9,609.1 933.4,609.1 932.9,609.6 932.4,608.9 931.9,609.3 931.4,609.4 930.9,609.8 930.4,609.4 929.9,609.3 929.4,609.5 928.9,609.3 928.4,609.2 927.9,609.1 927.4,609.4 926.9,609.2 926.4,609.5 925.9,609.8 925.4,609.2 924.9,609.6 924.4,609.5 923.9,609.3 923.4,609.3 922.9,609.3 922.4,609.3 921.9,610.1 921.4,609.9 920.9,610.1 920.4,609.4 919.9,610.2 919.4,609.4 918.9,609.3 918.4,609.3 917.9,609.4 917.4,609.8 916.9,610.3 916.4,609.2 915.9,609.9 915.4,609.2 914.9,609.4 914.4,609.6 913.9,609.9 913.4,609.8 912.9,609.7 912.4,609.6 911.9,609.4 911.4,610.1 910.9,609.3 910.4,609.2 909.9,610.3 909.4,609.2 908.9,609.8 908.4,609.6 907.9,609.0 907.4,609.1 906.9,609.1 906.4,609.3 905.9,609.5 905.4,609.6 904.9,609.2 904.4,609.0 903.9,609.7 903.4,608.9 902.9,609.4 902.4,609.4 901.9,609.3 901.4,610.0 900.9,609.1 900.4,609.1 899.9,610.0 899.4,609.0 898.9,608.5 898.4,608.9 897.9,611.1 897.4,608.9 896.9,608.7 896.4,608.3 895.9,608.2 895.4,608.4 894.9,608.0 894.4,608.6 893.9,607.6 893.4,609.1 892.9,607.7 892.4,606.9 891.9,606.0 891.4,605.9 890.9,604.7 890.4,604.1 889.9,603.5 889.4,603.2 888.9,602.3 888.4,602.6 887.9,603.3 887.4,603.2 886.9,603.4 886.4,603.7 885.9,604.0 885.4,604.7 884.9,605.1 884.4,605.7 883.9,606.5 883.4,606.7 882.9,607.7 882.4,607.7 881.9,608.3 881.4,608.7 880.9,608.3 880.4,608.5 879.9,609.7 879.4,609.7 878.9,609.4 878.4,609.0 877.9,609.3 877.4,609.2 876.9,609.4 876.4,609.2 875.9,609.7 875.4,609.7 874.9,610.2 874.4,609.6 873.9,609.8 873.4,610.1 872.9,609.4 872.4,609.4 871.9,609.8 871.4,609.8 870.9,610.9 870.4,609.4 869.9,609.5 869.4,610.0 868.9,610.6 868.4,609.3 867.9,609.3 867.4,610.3 866.9,609.4 866.4,609.3 865.9,610.3 865.4,609.4 864.9,611.0 864.4,609.7 863.9,609.4 863.4,610.0 862.9,610.6 862.4,609.5 861.9,610.5 861.4,610.1 860.9,609.5 860.4,609.6 859.9,609.5 859.4,610.0 858.9,609.5 858.4,610.7 857.9,609.7 857.4,609.3 856.9,609.3 856.4,609.6 855.9,610.1 855.4,609.5 854.9,609.7 854.4,609.9 853.9,610.2 853.4,609.2 852.9,609.4 852.4,609.2 851.9,610.1 851.4,609.5 850.9,610.3 850.4,610.0 849.9,609.8 849.4,609.6 848.9,609.2 848.4,609.1 847.9,608.9 847.4,609.8 846.9,608.9 846.4,609.0 845.9,609.9 845.4,609.1 844.9,609.2 844.4,611.0 843.9,609.3 843.4,608.9 842.9,609.5 842.4,608.8 841.9,609.8 841.4,609.5 840.9,609.0 840.4,609.0 839.9,609.7 839.4,608.8 838.9,608.7 838.4,608.6 837.9,608.6 837.4,609.4 836.9,609.6 836.4,608.9 835.9,608.7 835.4,610.1 834.9,609.4 834.4,608.6 833.9,609.6 833.4,608.7 832.9,608.9 832.4,609.0 831.9,608.9 831.4,609.6 830.9,609.2 830.4,609.0 829.9,609.7 829.4,608.7 828.9,609.0 828.4,609.2 827.9,608.7 827.4,608.8 826.9,609.3 826.4,609.1 825.9,609.2 825.4,609.5 824.9,608.9 824.4,609.0 823.9,608.8 823.4,608.8 822.9,609.4 822.4,608.8 821.9,608.8 821.4,609.2 820.9,608.7 820.4,608.8 819.9,610.4 819.4,608.9 818.9,609.0 818.4,609.3 817.9,610.0 817.4,609.0 816.9,609.2 816.4,608.9 815.9,609.3 815.4,610.5 814.9,609.1 814.4,610.0 813.9,609.3 813.4,609.3 812.9,609.5 812.4,609.0 811.9,610.5 811.4,608.7 810.9,608.9 810.4,608.8 809.9,609.0 809.4,610.1 808.9,609.3 808.4,608.8 807.9,608.9 807.4,609.7 806.9,609.6 806.4,608.9 805.9,608.7 805.4,608.7 804.9,609.5 804.4,608.8 803.9,610.1 803.4,608.7 802.9,609.3 802.4,609.0 801.9,609.5 801.4,609.1 800.9,609.0 800.4,608.9 799.9,609.0 799.4,608.8 798.9,609.0 798.4,609.4 797.9,609.3 797.4,608.7 796.9,609.2 796.4,609.4 795.9,608.9 795.4,608.6 794.9,609.0 794.4,609.2 793.9,608.6 793.4,608.8 792.9,608.7 792.4,609.2 791.9,608.9 791.4,608.8 790.9,608.7 790.4,608.8 789.9,609.0 789.4,609.4 788.9,608.6 788.4,609.1 787.9,608.8 787.4,609.4 786.9,608.7 786.4,608.5 785.9,609.1 785.4,609.2 784.9,608.6 784.4,608.9 783.9,609.6 783.4,609.1 782.9,609.0 782.4,609.0 781.9,609.0 781.4,608.5 780.9,609.7 780.4,609.1 779.9,608.4 779.4,608.4 778.9,608.6 778.4,608.6 777.9,609.2 777.4,608.9 776.9,608.4 776.4,608.6 775.9,609.3 775.4,609.3 774.9,609.6 774.4,609.5 773.9,611.0 773.4,608.6 772.9,609.5 772.4,609.3 771.9,608.6 771.4,608.4 770.9,608.5 770.4,608.9 769.9,609.6 769.4,608.8 768.9,609.2 768.4,611.3 767.9,608.8 767.4,609.0 766.9,608.5 766.4,608.5 765.9,608.8 765.4,608.8 764.9,609.7 764.4,608.5 763.9,608.8 763.4,611.6 762.9,608.7 762.4,609.1 761.9,608.8 761.4,608.8 760.9,608.6 760.4,608.4 759.9,609.1 759.4,609.3 758.9,608.5 758.4,608.6 757.9,609.2 757.4,608.5 756.9,609.9 756.4,608.7 755.9,609.6 755.4,608.4 754.9,608.6 754.4,608.6 753.9,609.7 753.4,608.5 752.9,609.3 752.4,609.4 751.9,608.9 751.4,608.5 750.9,608.4 750.4,608.3 749.9,608.3 749.4,608.5 748.9,608.5 748.4,608.6 747.9,608.4 747.4,609.2 746.9,608.5 746.4,608.4 745.9,608.3 745.4,609.7 744.9,608.4 744.4,609.3 743.9,608.0 743.4,608.5 742.9,608.0 742.4,607.9 741.9,607.8 741.4,608.5 740.9,607.9 740.4,608.0 739.9,608.1 739.4,608.5 738.9,607.9 738.4,607.9 737.9,608.8 737.4,607.7 736.9,608.7 736.4,608.2 735.9,608.0 735.4,608.0 734.9,607.8 734.4,608.2 733.9,608.6 733.4,607.8 732.9,607.6 732.4,607.6 731.9,608.4 731.4,607.8 730.9,607.5 730.4,607.5 729.9,607.8 729.4,608.1 728.9,607.4 728.4,609.1 727.9,607.5 727.4,608.3 726.9,607.8 726.4,607.5 725.9,607.4 725.4,607.4 724.9,607.9 724.4,607.4 723.9,607.2 723.4,607.9 722.9,608.2 722.4,607.3 721.9,607.2 721.4,607.2 720.9,606.5 720.4,606.1 719.9,606.6 719.4,605.5 718.9,605.2 718.4,604.6 717.9,604.9 717.4,605.2 716.9,605.0 716.4,605.3 715.9,606.4 715.4,605.9 714.9,606.6 714.4,607.7 713.9,606.5 713.4,606.6 712.9,606.5 712.4,607.6 711.9,606.5 711.4,606.6 710.9,606.8 710.4,607.1 709.9,606.6 709.4,607.0 708.9,608.2 708.4,606.5 707.9,607.7 707.4,607.4 706.9,607.0 706.4,606.7 705.9,606.7 705.4,606.3 704.9,607.6 704.4,606.9 703.9,606.6 703.4,606.6 702.9,606.7 702.4,606.3 701.9,606.2 701.4,606.3 700.9,606.7 700.4,606.1 699.9,606.1 699.4,607.6 698.9,606.0 698.4,606.6 697.9,607.7 697.4,606.7 696.9,606.3 696.4,606.3 695.9,606.1 695.4,606.4 694.9,606.4 694.4,606.4 693.9,606.4 693.4,606.9 692.9,606.2 692.4,606.1 691.9,606.0 691.4,606.3 690.9,606.1 690.4,606.2 689.9,606.2 689.4,606.3 688.9,606.2 688.4,606.0 687.9,606.0 687.4,606.0 686.9,606.0 686.4,606.0 685.9,606.1 685.4,606.5 684.9,606.2 684.4,606.1 683.9,606.0 683.4,605.8 682.9,606.2 682.4,605.8 681.9,605.9 681.4,606.6 680.9,606.0 680.4,605.6 679.9,606.5 679.4,605.7 678.9,606.8 678.4,605.6 677.9,605.7 677.4,605.9 676.9,605.4 676.4,605.4 675.9,605.6 675.4,606.0 674.9,605.9 674.4,605.3 673.9,606.0 673.4,607.3 672.9,606.4 672.4,607.9 671.9,605.2 671.4,605.5 670.9,605.5 670.4,605.6 669.9,606.2 669.4,605.4 668.9,605.9 668.4,605.1 667.9,606.3 667.4,605.7 666.9,604.9 666.4,605.1 665.9,605.9 665.4,604.9 664.9,605.2 664.4,604.9 663.9,605.1 663.4,604.9 662.9,604.9 662.4,605.6 661.9,604.8 661.4,605.2 660.9,606.0 660.4,604.6 659.9,604.6 659.4,604.9 658.9,604.8 658.4,604.7 657.9,606.6 657.4,606.0 656.9,606.4 656.4,604.9 655.9,604.8 655.4,605.7 654.9,604.7 654.4,605.3 653.9,608.1 653.4,604.7 652.9,606.1 652.4,604.7 651.9,605.3 651.4,604.9 650.9,605.1 650.4,605.2 649.9,605.1 649.4,604.8 648.9,605.6 648.4,605.5 647.9,605.6 647.4,604.7 646.9,605.3 646.4,604.5 645.9,604.8 645.4,604.6 644.9,605.9 644.4,604.6 643.9,605.3 643.4,605.3 642.9,604.8 642.4,604.8 641.9,604.3 641.4,604.3 640.9,604.4 640.4,604.2 639.9,604.2 639.4,604.4 638.9,605.0 638.4,604.1 637.9,604.4 637.4,604.7 636.9,604.0 636.4,604.7 635.9,604.9 635.4,604.8 634.9,604.4 634.4,604.0 633.9,604.4 633.4,604.1 632.9,603.9 632.4,603.9 631.9,603.9 631.4,604.6 630.9,603.8 630.4,603.8 629.9,603.7 629.4,603.9 628.9,603.8 628.4,605.1 627.9,603.5 627.4,603.4 626.9,603.4 626.4,603.2 625.9,602.9 625.4,603.2 624.9,602.8 624.4,604.5 623.9,602.6 623.4,602.3 622.9,602.5 622.4,602.7 621.9,601.0 621.4,600.7 620.9,601.0 620.4,600.0 619.9,600.0 619.4,600.3 618.9,599.6 618.4,599.5 617.9,599.1 617.4,599.5 616.9,599.0 616.4,598.6 615.9,598.8 615.4,599.0 614.9,598.6 614.4,598.4 613.9,598.4 613.4,599.6 612.9,598.7 612.4,599.0 611.9,600.0 611.4,598.8 610.9,598.9 610.4,599.6 609.9,599.4 609.4,599.3 608.9,599.8 608.4,599.7 607.9,599.5 607.4,599.7 606.9,600.1 606.4,600.4 605.9,600.1 605.4,600.2 604.9,600.8 604.4,600.9 603.9,600.8 603.4,601.2 602.9,602.1 602.4,601.4 601.9,601.1 601.4,601.2 600.9,603.4 600.4,601.2 599.9,601.6 599.4,601.9 598.9,601.2 598.4,601.7 597.9,601.9 597.4,601.3 596.9,601.3 596.4,601.2 595.9,602.0 595.4,601.5 594.9,601.6 594.4,601.2 593.9,601.2 593.4,601.4 592.9,601.5 592.4,601.3 591.9,602.0 591.4,601.3 590.9,601.5 590.4,601.3 589.9,601.2 589.4,601.7 588.9,602.0 588.4,601.3 587.9,601.6 587.4,601.2 586.9,601.6 586.4,602.2 585.9,602.4 585.4,602.2 584.9,601.2 584.4,601.4 583.9,601.8 583.4,602.3 582.9,602.0 582.4,601.7 581.9,601.4 581.4,601.5 580.9,602.2 580.4,601.9 579.9,601.4 579.4,602.9 578.9,601.4 578.4,602.9 577.9,601.9 577.4,601.2 576.9,602.0 576.4,601.3 575.9,600.9 575.4,603.8 574.9,600.8 574.4,600.8 573.9,600.8 573.4,602.6 572.9,600.8 572.4,600.8 571.9,603.7 571.4,600.5 570.9,601.2 570.4,601.3 569.9,600.6 569.4,600.9 568.9,600.4 568.4,601.7 567.9,600.3 567.4,601.0 566.9,601.3 566.4,600.0 565.9,599.9 565.4,601.6 564.9,600.3 564.4,600.0 563.9,601.9 563.4,600.5 562.9,600.6 562.4,600.1 561.9,600.3 561.4,600.7 560.9,600.4 560.4,600.1 559.9,600.2 559.4,600.1 558.9,600.0 558.4,599.7 557.9,600.3 557.4,599.9 556.9,600.7 556.4,602.0 555.9,599.7 555.4,601.1 554.9,599.4 554.4,601.1 553.9,600.1 553.4,600.4 552.9,599.5 552.4,599.5 551.9,599.2 551.4,599.5 550.9,599.3 550.4,599.4 549.9,599.4 549.4,598.8 548.9,599.6 548.4,600.5 547.9,599.3 547.4,600.9 546.9,598.7 546.4,598.5 545.9,598.8 545.4,598.8 544.9,598.7 544.4,598.6 543.9,598.8 543.4,598.3 542.9,600.5 542.4,599.2 541.9,598.2 541.4,599.2 540.9,599.7 540.4,598.1 539.9,598.5 539.4,597.9 538.9,599.6 538.4,598.0 537.9,597.8 537.4,597.6 536.9,597.9 536.4,600.2 535.9,598.6 535.4,597.9 534.9,597.4 534.4,599.3 533.9,598.3 533.4,597.6 532.9,597.2 532.4,597.8 531.9,597.3 531.4,597.8 530.9,597.1 530.4,598.5 529.9,596.9 529.4,596.8 528.9,597.0 528.4,597.3 527.9,598.7 527.4,596.9 526.9,596.7 526.4,595.5 525.9,596.5 525.4,597.1 524.9,596.0 524.4,594.8 523.9,594.6 523.4,595.1 522.9,594.8 522.4,594.0 521.9,594.2 521.4,593.7 520.9,594.9 520.4,593.5 519.9,593.4 519.4,593.3 518.9,593.8 518.4,593.1 517.9,594.7 517.4,593.5 516.9,593.1 516.4,592.6 515.9,592.3 515.4,592.3 514.9,591.5 514.4,591.5 513.9,591.1 513.4,590.8 512.9,590.6 512.4,590.7 511.9,590.0 511.4,590.3 510.9,590.6 510.4,589.1 509.9,590.1 509.4,588.8 508.9,588.2 508.4,587.9 507.9,588.3 507.4,587.4 506.9,588.2 506.4,588.2 505.9,587.0 505.4,587.9 504.9,585.8 504.4,585.6 503.9,585.3 503.4,585.2 502.9,585.6 502.4,585.2 501.9,585.6 501.4,585.4 500.9,585.5 500.4,585.8 499.9,585.0 499.4,586.1 498.9,585.5 498.4,585.1 497.9,585.2 497.4,585.7 496.9,586.5 496.4,585.6 495.9,585.9 495.4,585.6 494.9,587.5 494.4,585.6 493.9,587.0 493.4,586.0 492.9,587.1 492.4,586.6 491.9,586.8 491.4,587.0 490.9,588.2 490.4,587.3 489.9,586.8 489.4,586.9 488.9,587.2 488.4,586.7 487.9,587.1 487.4,586.4 486.9,586.6 486.4,586.6 485.9,588.2 485.4,586.8 484.9,587.1 484.4,586.0 483.9,587.0 483.4,585.6 482.9,584.5 482.4,585.7 481.9,584.2 481.4,584.3 480.9,584.1 480.4,585.5 479.9,586.2 479.4,586.1 478.9,588.1 478.4,589.1 477.9,591.1 477.4,590.9 476.9,592.3 476.4,593.6 475.9,593.5 475.4,593.9 474.9,593.6 474.4,593.5 473.9,593.4 473.4,593.7 472.9,593.5 472.4,593.9 471.9,593.8 471.4,593.3 470.9,594.8 470.4,594.6 469.9,593.9 469.4,593.7 468.9,593.3 468.4,594.2 467.9,594.1 467.4,593.8 466.9,594.0 466.4,594.7 465.9,593.6 465.4,595.5 464.9,593.7 464.4,593.7 463.9,593.4 463.4,593.6 462.9,593.6 462.4,593.5 461.9,593.9 461.4,593.1 460.9,593.7 460.4,593.0 459.9,593.0 459.4,592.9 458.9,593.0 458.4,593.4 457.9,592.7 457.4,593.4 456.9,593.3 456.4,593.2 455.9,592.5 455.4,592.5 454.9,593.8 454.4,593.7 453.9,592.3 453.4,592.4 452.9,593.1 452.4,593.1 451.9,592.7 451.4,592.1 450.9,592.8 450.4,592.6 449.9,592.4 449.4,592.1 448.9,591.8 448.4,592.3 447.9,592.1 447.4,592.4 446.9,592.6 446.4,592.6 445.9,592.5 445.4,592.6 444.9,592.2 444.4,591.6 443.9,591.9 443.4,591.3 442.9,591.4 442.4,591.4 441.9,592.2 441.4,592.3 440.9,591.8 440.4,591.4 439.9,591.9 439.4,592.1 438.9,591.3 438.4,590.7 437.9,590.6 437.4,591.6 436.9,592.2 436.4,591.1 435.9,590.3 435.4,590.3 434.9,590.3 434.4,590.1 433.9,590.0 433.4,590.7 432.9,589.7 432.4,589.7 431.9,591.1 431.4,589.3 430.9,591.8 430.4,590.0 429.9,590.1 429.4,589.3 428.9,589.0 428.4,589.3 427.9,589.2 427.4,589.0 426.9,588.7 426.4,589.1 425.9,588.8 425.4,588.8 424.9,588.8 424.4,588.9 423.9,588.6 423.4,588.6 422.9,588.5 422.4,589.7 421.9,589.0 421.4,588.6 420.9,588.2 420.4,589.6 419.9,588.5 419.4,589.8 418.9,588.0 418.4,588.2 417.9,587.7 417.4,587.7 416.9,588.2 416.4,588.4 415.9,588.3 415.4,589.4 414.9,587.1 414.4,588.1 413.9,586.8 413.4,587.3 412.9,586.7 412.4,588.4 411.9,586.3 411.4,587.2 410.9,586.2 410.4,586.9 409.9,586.4 409.4,585.9 408.9,586.4 408.4,585.7 407.9,586.1 407.4,585.9 406.9,585.9 406.4,585.3 405.9,587.5 405.4,587.3 404.9,587.1 404.4,585.3 403.9,584.9 403.4,586.0 402.9,584.9 402.4,584.8 401.9,584.8 401.4,585.5 400.9,585.4 400.4,585.8 399.9,584.8 399.4,584.8 398.9,585.0 398.4,585.2 397.9,584.7 397.4,584.6 396.9,584.3 396.4,584.2 395.9,585.1 395.4,583.7 394.9,588.9 394.4,583.5 393.9,583.4 393.4,584.2 392.9,582.9 392.4,582.8 391.9,582.5 391.4,584.1 390.9,582.4 390.4,582.5 389.9,582.2 389.4,583.0 388.9,582.3 388.4,582.1 387.9,582.6 387.4,582.0 386.9,582.1 386.4,581.9 385.9,581.9 385.4,581.8 384.9,582.2 384.4,581.7 383.9,582.2 383.4,581.4 382.9,583.3 382.4,581.2 381.9,581.1 381.4,581.3 380.9,581.5 380.4,582.1 379.9,580.9 379.4,580.6 378.9,581.2 378.4,581.6 377.9,580.3 377.4,580.3 376.9,581.4 376.4,580.4 375.9,580.2 375.4,580.5 374.9,580.4 374.4,581.5 373.9,580.1 373.4,579.7 372.9,580.3 372.4,580.1 371.9,579.2 371.4,579.3 370.9,579.1 370.4,578.9 369.9,578.9 369.4,580.1 368.9,579.9 368.4,578.7 367.9,580.6 367.4,578.3 366.9,578.7 366.4,578.1 365.9,578.2 365.4,578.1 364.9,579.2 364.4,577.9 363.9,578.4 363.4,577.6 362.9,577.3 362.4,577.5 361.9,576.8 361.4,577.6 360.9,576.3 360.4,576.7 359.9,576.1 359.4,577.0 358.9,575.8 358.4,576.3 357.9,576.0 357.4,576.0 356.9,575.6 356.4,575.1 355.9,574.9 355.4,575.0 354.9,577.2 354.4,575.0 353.9,575.3 353.4,578.1 352.9,573.8 352.4,573.4 351.9,573.5 351.4,573.3 350.9,572.8 350.4,572.9 349.9,573.1 349.4,572.4 348.9,572.6 348.4,572.8 347.9,571.9 347.4,571.7 346.9,572.7 346.4,573.5 345.9,570.9 345.4,572.2 344.9,571.9 344.4,570.4 343.9,571.1 343.4,570.8 342.9,570.0 342.4,571.3 341.9,570.3 341.4,569.9 340.9,569.5 340.4,569.8 339.9,569.9 339.4,568.9 338.9,568.7 338.4,568.2 337.9,567.6 337.4,567.4 336.9,567.2 336.4,566.3 335.9,566.9 335.4,565.7 334.9,565.6 334.4,565.0 333.9,564.9 333.4,564.5 332.9,564.2 332.4,563.8 331.9,563.8 331.4,563.0 330.9,562.6 330.4,562.4 329.9,562.0 329.4,561.9 328.9,561.3 328.4,560.9 327.9,560.7 327.4,560.7 326.9,560.8 326.4,560.0 325.9,559.1 325.4,561.2 324.9,558.2 324.4,558.0 323.9,557.7 323.4,555.6 322.9,554.6 322.4,553.7 321.9,552.5 321.4,552.7 320.9,552.6 320.4,549.4 319.9,548.0 319.4,546.8 318.9,545.2 318.4,543.9 317.9,543.5 317.4,540.7 316.9,539.2 316.4,535.9 315.9,532.9 315.4,529.6 314.9,526.8 314.4,524.7 313.9,522.2 313.4,518.9 312.9,515.9 312.4,512.4 311.9,508.0 311.4,502.3 310.9,495.0 310.4,488.9 309.9,482.9 309.4,475.3 308.9,465.7 308.4,454.6 307.9,442.7 307.4,430.5 306.9,418.9 306.4,407.7 305.9,398.5 305.4,388.9 304.9,379.6 304.4,369.7 303.9,361.3 303.4,355.5 302.9,352.8 302.4,354.0 301.9,358.9 301.4,366.8 300.9,376.2 300.4,386.5 299.9,396.5 299.4,406.1 298.9,417.3 298.4,429.9 297.9,442.5 297.4,454.9 296.9,466.1 296.4,475.3 295.9,482.0 295.4,486.8 294.9,491.5 294.4,495.7 293.9,499.3 293.4,503.0 292.9,506.8 292.4,510.2 291.9,514.5 291.4,519.7 290.9,519.1 290.4,521.7 289.9,524.4 289.4,525.1 288.9,526.4 288.4,528.6 287.9,528.7 287.4,530.2 286.9,531.3 286.4,531.9 285.9,532.1 285.4,533.7 284.9,533.4 284.4,535.9 283.9,534.1 283.4,534.5 282.9,536.2 282.4,535.4 281.9,536.2 281.4,537.0 280.9,536.7 280.4,537.0 279.9,538.0 279.4,537.4 278.9,537.6 278.4,538.3 277.9,539.3 277.4,539.4 276.9,539.0 276.4,541.2 275.9,539.2 275.4,538.8 274.9,538.8 274.4,539.8 273.9,539.1 273.4,539.1 272.9,540.4 272.4,539.5 271.9,539.7 271.4,541.9 270.9,540.9 270.4,539.8 269.9,539.4 269.4,540.9 268.9,539.6 268.4,540.6 267.9,541.4 267.4,540.1 266.9,540.4 266.4,539.7 265.9,540.5 265.4,539.9 264.9,539.1 264.4,539.0 263.9,538.7 263.4,540.4 262.9,539.4 262.4,538.5 261.9,539.1 261.4,538.1 260.9,538.9 260.4,538.6 259.9,537.8 259.4,540.3 258.9,538.5 258.4,539.6 257.9,538.8 257.4,537.4 256.9,536.7 256.4,536.5 255.9,537.7 255.4,537.9 254.9,538.9 254.4,536.4 253.9,535.8 253.4,535.6 252.9,535.8 252.4,535.4 251.9,536.0 251.4,535.2 250.9,535.2 250.4,535.2 249.9,535.4 249.4,534.9 248.9,535.4 248.4,536.0 247.9,535.2 247.4,536.2 246.9,535.6 246.4,534.9 245.9,535.0 245.4,535.8 244.9,536.4 244.4,536.5 243.9,536.1 243.4,536.3 242.9,535.2 242.4,535.7 241.9,535.1 241.4,534.3 240.9,534.2 240.4,534.4 239.9,534.0 239.4,533.9 238.9,534.8 238.4,534.1 237.9,537.5 237.4,535.7 236.9,534.3 236.4,535.4 235.9,535.2 235.4,534.8 234.9,534.8 234.4,535.7 233.9,535.0 233.4,534.7 232.9,536.2 232.4,534.9 231.9,535.7 231.4,538.1 230.9,535.7 230.4,535.7 229.9,535.3 229.4,534.9 228.9,540.9 228.4,535.1 227.9,534.7 227.4,534.7 226.9,534.1 226.4,533.8 225.9,534.4 225.4,533.9 224.9,533.1 224.4,532.7 223.9,532.8 223.4,533.5 222.9,532.2 222.4,532.9 221.9,531.8 221.4,531.9 220.9,531.5 220.4,532.0 219.9,531.8 219.4,531.8 218.9,532.0 218.4,531.5 217.9,534.4 217.4,533.0 216.9,531.5 216.4,531.7 215.9,531.5 215.4,531.7 214.9,531.6 214.4,535.5 213.9,532.3 213.4,534.4 212.9,532.5 212.4,533.1 211.9,533.7 211.4,533.0 210.9,533.0 210.4,533.0 209.9,535.3 209.4,535.3 208.9,533.3 208.4,535.7 207.9,533.1 207.4,534.1 206.9,533.5 206.4,533.4 205.9,533.5 205.4,537.4 204.9,535.4 204.4,533.7 203.9,533.7 203.4,533.3 202.9,533.1 202.4,533.2 201.9,532.6 201.4,533.0 200.9,533.0 200.4,532.9 199.9,532.7 199.4,533.7 198.9,533.2 198.4,535.3 197.9,532.1 197.4,532.0 196.9,531.7 196.4,531.5 195.9,531.5 195.4,530.7 194.9,531.4 194.4,531.6 193.9,530.5 193.4,531.2 192.9,530.2 192.4,530.1 191.9,530.3 191.4,530.1 190.9,531.9 190.4,530.5 189.9,529.7 189.4,529.5 188.9,529.4 188.4,529.3 187.9,529.2 187.4,529.0 186.9,528.7 186.4,528.4 185.9,528.3 185.4,528.6 184.9,529.1 184.4,529.4 183.9,528.0 183.4,528.0 182.9,528.0 182.4,527.7 181.9,530.2 181.4,527.8 180.9,528.9 180.4,528.2 179.9,527.6 179.4,528.3 178.9,527.6 178.4,529.8 177.9,527.5 177.4,527.5 176.9,527.5 176.4,528.5 175.9,527.4 175.4,527.7 174.9,528.4 174.4,527.8 173.9,527.5 173.4,528.8 172.9,527.4 172.4,528.3 171.9,527.4 171.4,528.2 170.9,527.1 170.4,528.1 169.9,526.2 169.4,526.8 168.9,526.4 168.4,526.0 167.9,528.7 167.4,528.9 166.9,525.6 166.4,526.0 165.9,526.2 165.4,524.8 164.9,524.6 164.4,524.8 163.9,525.1 163.4,525.9 162.9,524.1 162.4,523.8 161.9,525.3 161.4,523.6 160.9,523.2 160.4,523.1 159.9,523.0 159.4,524.2 158.9,522.9 158.4,522.7 157.9,523.9 157.4,522.4 156.9,523.2 156.4,522.4 155.9,523.3 155.4,522.6 154.9,521.9 154.4,522.5 153.9,522.3 153.4,524.8 152.9,521.6 152.4,522.3 151.9,521.9 151.4,522.6 150.9,520.8 150.4,521.4 149.9,521.3 149.4,522.8 148.9,522.7 148.4,521.9 147.9,520.8 147.4,520.5 146.9,520.2 146.4,521.3 145.9,520.3 145.4,520.8 144.9,523.7 144.4,521.8 143.9,519.0 143.4,519.4 142.9,519.4 142.4,519.8 141.9,518.5 141.4,518.8 140.9,518.8 140.4,520.3 139.9,518.0 139.4,518.2 138.9,517.5 138.4,518.7 137.9,517.3 137.4,517.1 136.9,517.7 136.4,516.7 135.9,516.1 135.4,517.2 134.9,516.0 134.4,515.4 133.9,515.2 133.4,515.5 132.9,514.9 132.4,514.8 131.9,515.6 131.4,515.6 130.9,515.7 130.4,515.9 129.9,514.0 129.4,514.4 128.9,513.7 128.4,513.4 127.9,513.7 127.4,513.6 126.9,515.3 126.4,513.5 125.9,512.5 125.4,512.5 124.9,513.9 124.4,512.1 123.9,512.2 123.4,512.5 122.9,511.8 122.4,511.6 121.9,511.3 121.4,511.9 120.9,510.5 120.4,511.6 119.9,510.6 119.4,511.7 118.9,509.8 118.4,509.2 117.9,513.2 117.4,508.8 116.9,509.2 116.4,508.4 115.9,509.0 115.4,507.5 114.9,508.8 114.4,507.0 113.9,509.0 113.4,506.2 112.9,507.1 112.4,509.8 111.9,505.6 111.4,506.1 110.9,504.9 110.4,504.5 109.9,504.4 109.4,503.9 108.9,504.1 108.4,503.0 107.9,503.4 107.4,503.2 106.9,502.1 106.4,502.4 105.9,501.1 105.4,501.8 104.9,500.9 104.4,501.1 103.9,500.2 103.4,499.9 102.9,499.8 102.4,500.3 101.9,499.9 101.4,499.6 100.9,499.8 100.4,498.8 99.9,498.4 99.4,498.4 98.9,499.0 98.4,499.1 97.9,499.1 97.4,498.1 96.9,498.0 96.4,497.5 95.9,497.8 95.4,497.4 94.9,497.4 94.4,496.6 93.9,500.3 93.4,498.2 92.9,496.7 92.4,496.7 91.9,496.8 91.4,498.8 90.9,495.7 90.4,495.5 89.9,494.5 89.4,494.9 88.9,494.5 88.4,493.9 87.9,493.9 87.4,493.8 86.9,494.6 86.4,493.7 85.9,492.9 85.4,493.3 84.9,493.2 84.4,492.3 83.9,492.2 83.4,492.3 82.9,492.2 82.4,492.7 81.9,494.4 81.4,492.2 80.9,494.9 80.4,491.8 79.9,492.7 79.4,492.5 78.9,491.8 78.4,492.5 77.9,494.0 77.4,493.1 76.9,493.1 76.4,498.0 75.9,493.6 75.4,494.1 74.9,493.5 74.4,494.5 73.9,493.0 73.4,492.6 72.9,492.7 72.4,491.9 71.9,492.5 71.4,491.2 70.9,491.1 70.4,490.6 69.9,489.7 69.4,489.2 68.9,488.1 68.4,487.8 67.9,487.5 67.4,485.9 66.9,483.1 66.4,480.3 65.9,478.4 65.4,476.7 64.9,471.4 64.4,466.6Z"/>
<path stroke="#2f52d4" d="M64.0,179.7 64.3,184.0 64.6,187.2 64.7,187.3 64.9,190.3 65.2,192.6 65.5,194.3 65.8,196.6 66.0,197.2 66.1,197.4 66.4,198.0 66.7,199.0 67.0,198.9 67.3,199.8 67.6,200.1 67.9,201.1 68.2,201.2 68.5,201.3 68.8,201.4 69.1,202.0 69.4,202.4 69.7,202.6 70.0,203.6 70.0,203.5 70.3,202.0 70.6,202.7 70.9,203.8 71.2,204.0 71.5,204.6 71.8,204.9 72.1,206.1 72.4,204.8 72.7,205.4 73.0,206.7 73.3,206.2 73.6,206.3 73.9,205.7 74.0,205.2 74.2,206.1 74.5,206.1 74.8,205.4 75.1,205.7 75.4,206.0 75.7,205.5 76.0,206.0 76.3,206.0 76.6,206.0 76.9,205.7 77.2,206.3 77.5,206.4 77.8,206.2 78.1,205.6 78.4,206.4 78.7,205.8 79.0,206.4 79.3,205.5 79.6,206.5 79.9,206.0 80.0,205.4 80.2,205.8 80.5,206.0 80.8,206.2 81.1,205.6 81.4,205.5 81.7,206.2 82.0,205.9 82.3,206.3 82.6,206.6 82.9,205.4 83.2,206.4 83.5,206.9 83.8,206.2 84.1,206.0 84.4,206.8 84.7,206.6 85.0,206.9 85.3,206.3 85.6,205.8 85.9,206.4 86.0,206.3 86.2,206.9 86.5,206.6 86.8,205.7 87.1,205.9 87.4,206.9 87.7,206.7 88.0,206.0 88.3,206.3 88.6,206.5 88.9,206.4 89.2,206.6 89.5,206.2 89.8,206.0 90.0,205.9 90.1,206.5 90.4,204.8 90.7,205.7 91.0,205.6 91.3,204.7 91.6,205.4 91.9,204.7 92.2,205.2 92.5,204.5 92.8,204.7 93.1,204.7 93.4,204.1 93.7,203.2 94.0,202.7 94.3,204.2 94.6,203.1 94.9,202.7 95.0,203.1 95.2,202.8 95.5,203.3 95.8,202.8 96.1,202.7 96.4,202.3 96.7,202.9 97.0,202.1 97.3,202.9 97.6,203.3 97.9,201.7 98.2,201.2 98.5,202.7 98.8,203.6 99.1,201.8 99.4,201.6 99.7,202.4 100.0,201.6 100.0,201.7 100.3,201.7 100.6,202.0 100.9,201.3 101.2,201.4 101.5,200.9 101.8,200.2 102.1,200.1 102.4,199.4 102.7,199.4 103.0,198.3 103.3,197.7 103.4,198.7 103.6,197.3 103.9,195.8 104.2,194.1 104.5,191.5 104.6,190.9 104.8,189.4 105.1,186.0 105.4,182.6 105.6,182.9 105.7,182.4 106.0,184.3 106.3,187.8 106.6,191.1 106.7,192.8 106.9,192.5 107.2,194.7 107.5,194.9 107.8,196.8 108.0,197.4 108.1,196.9 108.4,196.7 108.7,197.0 109.0,197.2 109.3,197.1 109.6,197.7 109.9,196.7 110.0,196.3 110.2,196.5 110.5,196.4 110.8,196.3 111.1,196.0 111.4,195.9 111.7,194.8 112.0,195.8 112.3,194.8 112.6,194.3 112.9,194.9 113.2,195.0 113.5,194.3 113.8,193.9 114.1,193.1 114.4,194.8 114.7,193.6 115.0,192.4 115.0,192.6 115.3,192.9 115.6,191.9 115.9,192.6 116.2,192.2 116.5,192.9 116.8,192.7 117.1,190.7 117.4,192.0 117.7,191.0 118.0,192.3 118.3,191.7 118.6,191.8 118.9,190.9 119.2,192.2 119.5,192.2 119.8,190.5 120.0,191.2 120.1,190.6 120.4,190.8 120.7,190.1 121.0,191.6 121.3,190.1 121.6,190.3 121.9,190.6 122.2,190.0 122.5,190.1 122.8,189.8 123.1,189.9 123.4,189.3 123.7,189.6 124.0,189.6 124.3,189.4 124.6,189.5 124.9,189.2 125.0,189.7 125.2,189.1 125.5,189.0 125.8,188.6 126.1,188.5 126.4,187.9 126.7,188.6 127.0,187.6 127.3,187.5 127.6,187.9 127.9,187.7 128.2,187.1 128.5,186.1 128.8,187.1 129.1,186.9 129.4,185.9 129.7,186.9 130.0,186.1 130.0,185.8 130.3,186.4 130.6,186.1 130.9,186.3 131.2,185.3 131.5,186.9 131.8,185.7 132.1,185.2 132.4,186.2 132.7,185.6 133.0,185.9 133.3,185.5 133.6,185.6 133.9,185.7 134.2,185.2 134.5,185.8 134.8,185.2 135.0,185.0 135.1,185.4 135.4,185.5 135.7,185.2 136.0,184.8 136.3,185.5 136.6,184.2 136.9,184.5 137.2,185.0 137.5,184.3 137.8,184.9 138.1,184.8 138.4,185.2 138.7,184.2 139.0,184.3 139.3,184.7 139.6,183.3 139.9,185.9 140.0,184.1 140.2,184.0 140.5,184.7 140.8,184.2 141.1,183.2 141.4,184.3 141.7,184.4 142.0,183.6 142.3,183.6 142.6,183.9 142.9,183.1 143.2,183.7 143.5,183.5 143.8,183.0 144.1,182.5 144.4,183.0 144.7,182.6 145.0,183.5 145.0,183.1 145.3,183.3 145.6,182.9 145.9,182.9 146.2,182.3 146.5,182.9 146.8,183.4 147.1,182.3 147.4,182.1 147.7,182.2 148.0,182.0 148.3,181.8 148.6,182.2 148.9,181.9 149.2,182.7 149.5,182.0 149.8,182.2 150.0,182.5 150.1,181.9 150.4,182.7 150.7,181.7 151.0,181.7 151.3,181.9 151.6,182.1 151.9,181.5 152.2,182.3 152.5,181.6 152.8,183.1 153.1,182.5 153.4,182.3 153.7,182.2 154.0,182.6 154.3,182.7 154.6,182.4 154.9,182.5 155.0,182.9 155.2,182.8 155.5,183.6 155.8,183.7 156.1,183.2 156.4,183.5 156.7,182.7 157.0,183.7 157.3,183.5 157.6,183.8 157.9,184.4 158.2,182.6 158.5,183.9 158.8,183.3 159.1,184.2 159.4,183.3 159.7,183.7 160.0,184.1 160.0,184.3 160.3,184.1 160.6,183.7 160.9,183.8 161.2,184.6 161.5,184.2 161.8,183.4 162.1,184.6 162.4,184.5 162.7,184.7 163.0,184.2 163.3,184.7 163.6,183.9 163.9,184.7 164.2,184.2 164.5,184.8 164.8,185.0 165.0,184.1 165.1,184.5 165.4,184.6 165.7,185.2 166.0,184.9 166.3,184.0 166.6,184.9 166.9,185.1 167.2,185.8 167.5,183.9 167.8,184.5 168.1,185.5 168.4,184.2 168.7,184.3 169.0,185.2 169.3,185.4 169.6,184.6 169.9,185.3 170.0,185.1 170.2,185.8 170.5,185.1 170.8,185.6 171.1,184.7 171.4,185.1 171.7,185.2 172.0,185.8 172.3,185.6 172.6,185.0 172.9,185.7 173.2,185.8 173.5,185.4 173.8,185.3 174.1,185.4 174.4,184.7 174.7,185.6 175.0,185.6 175.0,185.1 175.3,185.9 175.6,184.8 175.9,185.2 176.2,185.2 176.5,186.4 176.8,184.6 177.1,185.6 177.4,185.8 177.7,185.5 178.0,185.8 178.3,184.7 178.6,184.1 178.9,185.5 179.2,184.5 179.5,184.9 179.8,184.4 180.0,185.5 180.1,185.4 180.4,184.6 180.7,185.4 181.0,185.0 181.3,184.8 181.6,184.9 181.9,184.7 182.2,185.1 182.5,184.9 182.8,184.6 183.1,185.2 183.4,184.4 183.7,184.8 184.0,184.8 184.3,185.3 184.6,184.3 184.9,185.4 185.0,184.6 185.2,184.4 185.5,184.1 185.8,184.7 186.1,184.4 186.4,183.9 186.7,183.8 187.0,184.1 187.3,184.0 187.6,184.9 187.9,185.0 188.2,184.7 188.5,184.4 188.8,184.0 189.1,184.2 189.4,184.5 189.7,185.1 189.9,184.4 190.0,183.8 190.3,182.8 190.6,180.6 190.9,178.2 191.2,176.2 191.5,174.8 191.8,174.9 191.8,174.0 192.1,175.5 192.4,177.8 192.7,179.8 193.0,183.6 193.3,185.9 193.6,187.1 193.6,187.4 193.9,188.4 194.2,189.1 194.5,189.9 194.8,190.7 195.0,191.2 195.1,190.7 195.4,191.7 195.7,191.4 196.0,192.7 196.3,193.3 196.6,193.5 196.9,193.9 197.2,194.5 197.5,194.2 197.8,194.7 198.1,195.4 198.4,195.9 198.7,195.9 199.0,197.3 199.3,196.3 199.6,197.1 199.9,197.5 200.0,196.9 200.2,196.8 200.5,196.9 200.8,197.8 201.1,198.5 201.4,198.4 201.7,198.6 202.0,198.6 202.3,199.3 202.6,198.2 202.9,199.6 203.2,199.7 203.5,199.2 203.8,201.2 204.1,199.7 204.4,200.0 204.7,200.2 205.0,201.5 205.0,200.6 205.3,201.6 205.6,201.8 205.9,201.9 206.2,201.4 206.5,202.0 206.8,203.3 207.1,202.1 207.4,202.5 207.7,202.9 208.0,203.4 208.0,203.1 208.3,203.4 208.6,202.5 208.9,203.4 209.2,203.2 209.5,202.0 209.8,203.5 210.1,203.7 210.4,202.1 210.7,202.4 211.0,202.9 211.3,201.3 211.6,200.8 211.9,201.0 212.0,201.2 212.2,200.9 212.5,200.5 212.8,198.9 213.1,196.5 213.4,195.8 213.5,195.9 213.7,194.4 214.0,192.2 214.3,189.4 214.6,188.0 214.9,186.0 215.0,186.8 215.2,186.7 215.5,188.6 215.8,190.4 216.1,192.0 216.4,194.8 216.7,196.9 217.0,196.5 217.0,196.7 217.3,196.2 217.6,194.8 217.9,194.5 218.2,193.1 218.5,191.4 218.5,191.1 218.8,189.5 219.1,187.8 219.4,185.4 219.7,184.1 220.0,182.1 220.3,180.2 220.6,177.8 220.9,176.8 221.2,175.8 221.5,176.5 221.5,175.7 221.8,175.9 222.1,180.2 222.4,185.4 222.7,189.9 223.0,195.1 223.3,198.9 223.5,200.0 223.6,201.0 223.9,203.7 224.2,206.5 224.5,208.6 224.8,210.4 225.0,210.6 225.1,211.6 225.4,211.9 225.7,212.4 226.0,213.9 226.3,213.7 226.6,213.4 226.9,214.7 227.2,215.7 227.5,214.6 227.8,216.2 228.0,216.4 228.1,216.0 228.4,216.2 228.7,217.0 229.0,217.1 229.3,218.2 229.6,218.0 229.9,217.2 230.2,217.7 230.5,218.6 230.8,219.3 231.1,218.8 231.4,218.9 231.7,219.8 232.0,219.0 232.0,218.9 232.3,218.5 232.6,219.0 232.9,220.5 233.2,218.9 233.5,219.7 233.8,219.2 234.1,220.1 234.4,220.6 234.7,220.2 235.0,220.8 235.3,220.9 235.6,220.9 235.9,221.6 236.2,221.2 236.5,220.8 236.8,220.6 237.0,220.6 237.1,221.2 237.4,220.9 237.7,222.4 238.0,222.0 238.3,221.1 238.6,221.0 238.9,222.0 239.2,220.3 239.5,221.0 239.8,221.7 240.1,220.9 240.4,221.1 240.7,221.2 241.0,221.7 241.3,221.5 241.6,221.6 241.9,221.8 242.0,221.5 242.2,222.1 242.5,221.2 242.8,221.0 243.1,220.9 243.4,221.0 243.7,221.6 244.0,222.5 244.3,222.1 244.6,221.8 244.9,221.7 245.2,222.0 245.5,222.2 245.8,222.1 246.1,221.8 246.4,222.3 246.7,223.0 246.8,221.5 247.0,222.4 247.3,221.3 247.6,222.2 247.9,221.5 248.2,220.5 248.5,221.1 248.8,221.4 249.1,220.0 249.4,219.9 249.7,218.7 250.0,217.0 250.3,217.6 250.6,216.4 250.9,215.2 250.9,216.3 251.2,215.1 251.5,213.3 251.8,212.2 252.1,209.6 252.4,208.4 252.7,205.9 253.0,205.0 253.3,203.0 253.6,203.6 253.8,202.8 253.9,203.5 254.2,203.9 254.5,206.9 254.8,210.9 255.1,212.5 255.4,215.8 255.5,217.4 255.7,218.1 256.0,219.8 256.3,220.5 256.6,222.0 256.9,222.4 257.2,222.7 257.5,222.9 257.5,223.4 257.8,223.6 258.1,223.6 258.4,222.3 258.7,223.1 259.0,223.8 259.3,224.3 259.6,223.9 259.6,223.8 259.9,223.2 260.2,225.4 260.5,224.0 260.8,225.5 261.1,225.5 261.4,225.1 261.7,224.8 262.0,225.2 262.3,224.6 262.6,225.3 262.6,225.2 262.9,225.4 263.2,225.6 263.5,225.8 263.8,224.7 264.1,225.2 264.4,224.1 264.7,223.9 265.0,223.8 265.3,223.4 265.6,224.2 265.9,223.9 266.2,223.9 266.5,223.2 266.5,223.3 266.8,222.8 267.1,222.4 267.4,223.1 267.7,222.9 268.0,222.2 268.3,222.9 268.6,221.7 268.9,222.4 269.2,222.1 269.5,222.0 269.8,221.6 270.1,222.4 270.4,222.1 270.4,222.4 270.7,221.6 271.0,220.7 271.3,220.8 271.6,219.9 271.9,220.2 272.2,220.0 272.5,219.0 272.8,217.9 273.1,217.2 273.3,217.0 273.4,215.9 273.7,215.6 274.0,214.2 274.3,212.1 274.6,210.3 274.8,209.2 274.9,207.9 275.2,204.5 275.5,200.9 275.8,196.0 276.1,192.6 276.4,188.3 276.7,186.7 276.7,188.0 277.0,190.2 277.3,194.7 277.6,200.9 277.9,207.5 278.2,210.2 278.2,210.8 278.5,211.4 278.8,213.7 279.1,214.0 279.4,215.9 279.7,217.5 280.0,217.3 280.3,218.1 280.6,217.6 280.6,217.5 280.9,217.1 281.2,218.2 281.5,217.5 281.8,218.1 282.1,216.5 282.4,216.6 282.7,216.4 283.0,216.7 283.3,216.6 283.6,215.1 283.9,214.5 284.1,214.1 284.2,215.4 284.5,214.5 284.8,213.9 285.1,213.9 285.4,212.4 285.7,212.5 286.0,213.5 286.3,212.9 286.6,212.5 286.9,211.6 287.2,212.1 287.5,212.3 287.8,210.6 288.0,211.0 288.1,210.7 288.4,210.8 288.7,210.4 289.0,210.0 289.3,209.5 289.6,209.6 289.9,209.1 290.2,209.0 290.5,208.6 290.8,208.5 290.9,207.8 291.1,207.5 291.4,207.5 291.7,205.9 292.0,204.8 292.3,204.0 292.4,203.3 292.6,202.1 292.9,200.0 293.2,196.7 293.3,196.6 293.5,195.0 293.8,191.2 294.1,186.4 294.3,184.7 294.4,182.9 294.7,179.8 295.0,176.3 295.3,171.2 295.4,170.6 295.6,165.5 295.9,157.0 296.2,146.0 296.5,134.1 296.8,121.2 297.1,107.3 297.3,100.0 297.4,95.1 297.7,83.9 298.0,72.0 298.3,59.6 298.6,47.2 298.9,33.9 299.2,22.1 299.4,14.0 299.5,10.5 299.8,-2.1 300.1,-14.6 300.3,-18.2 300.4,-22.2 300.7,-28.7 301.0,-34.3 301.3,-40.0 301.6,-45.5 301.9,-51.1 302.2,-54.6 302.5,-59.3 302.8,-62.1 303.1,-65.0 303.4,-68.4 303.7,-69.7 304.0,-70.4 304.1,-69.9 304.3,-69.8 304.6,-68.7 304.9,-67.4 305.2,-64.4 305.5,-60.7 305.8,-58.3 306.1,-53.5 306.4,-48.5 306.7,-43.5 307.0,-38.1 307.3,-31.3 307.6,-25.6 307.9,-19.6 307.9,-20.4 308.2,-10.7 308.5,-0.8 308.8,10.1 308.9,13.8 309.1,20.7 309.4,32.3 309.7,41.7 310.0,52.1 310.3,61.6 310.6,73.8 310.9,84.0 311.2,95.5 311.3,100.3 311.5,108.4 311.8,124.7 312.1,141.1 312.4,154.4 312.7,166.0 312.9,169.3 313.0,171.1 313.3,174.3 313.6,175.4 313.9,178.6 314.2,179.1 314.3,179.2 314.5,180.8 314.8,182.7 315.1,183.1 315.4,185.1 315.7,185.7 316.0,188.1 316.3,188.7 316.3,188.4 316.6,190.1 316.9,190.0 317.2,191.4 317.5,193.4 317.8,193.3 318.1,194.8 318.4,195.1 318.7,195.6 319.0,196.6 319.2,197.3 319.3,197.4 319.6,198.1 319.9,199.0 320.2,199.6 320.5,201.3 320.8,202.3 321.1,203.3 321.4,202.9 321.7,204.8 322.0,205.0 322.1,204.5 322.3,205.6 322.6,206.4 322.9,206.7 323.2,207.2 323.5,207.6 323.8,208.0 324.1,207.9 324.4,207.2 324.7,208.2 325.0,209.0 325.3,208.9 325.6,209.8 325.9,210.2 326.1,210.0 326.2,211.0 326.5,210.0 326.8,211.2 327.1,210.8 327.4,211.0 327.7,211.9 328.0,211.6 328.3,212.6 328.6,212.0 328.9,212.8 329.2,212.7 329.5,213.3 329.8,213.5 330.0,213.4 330.1,214.3 330.4,213.7 330.7,214.2 331.0,215.4 331.3,215.7 331.6,215.9 331.9,216.1 332.2,217.3 332.5,216.0 332.8,216.5 333.1,216.7 333.4,217.9 333.7,217.9 333.9,218.4 334.0,218.4 334.3,218.1 334.6,218.1 334.9,218.3 335.2,220.0 335.5,219.7 335.8,219.7 336.1,219.5 336.4,219.8 336.7,219.9 337.0,220.1 337.3,219.4 337.6,220.6 337.8,220.6 337.9,221.0 338.2,221.1 338.5,221.6 338.8,221.4 339.1,221.9 339.4,220.5 339.7,221.3 340.0,222.8 340.3,221.5 340.6,222.1 340.9,222.7 341.2,222.1 341.5,223.0 341.7,222.0 341.8,221.8 342.1,222.2 342.4,222.2 342.7,223.0 343.0,223.0 343.3,223.3 343.6,222.8 343.9,224.5 344.2,223.4 344.5,223.5 344.8,223.8 345.0,223.6 345.1,223.4 345.4,223.9 345.7,224.4 346.0,224.4 346.3,224.7 346.6,224.1 346.9,224.2 347.2,225.6 347.5,224.7 347.8,225.2 348.1,225.5 348.4,226.0 348.7,224.8 349.0,225.4 349.3,225.5 349.6,225.7 349.9,224.8 350.0,225.9 350.2,224.7 350.5,226.3 350.8,226.5 351.1,226.6 351.4,225.9 351.7,227.0 352.0,226.2 352.3,226.1 352.6,226.3 352.9,226.5 353.2,227.0 353.5,227.4 353.8,226.1 354.1,226.9 354.4,227.7 354.7,227.4 355.0,227.7 355.3,226.8 355.6,228.0 355.9,226.9 356.2,227.8 356.5,228.4 356.8,228.7 357.1,228.1 357.4,228.4 357.7,227.8 358.0,227.9 358.3,228.7 358.6,228.3 358.9,228.3 359.2,227.7 359.5,228.5 359.8,228.9 360.0,228.2 360.1,228.4 360.4,229.4 360.7,228.9 361.0,228.7 361.3,228.4 361.6,228.7 361.9,229.0 362.2,229.8 362.5,228.9 362.8,230.1 363.1,228.9 363.4,229.3 363.7,229.9 364.0,229.5 364.3,229.3 364.6,229.7 364.9,230.0 365.2,229.1 365.5,229.8 365.8,230.0 366.1,229.9 366.4,230.5 366.7,230.0 367.0,230.1 367.3,230.4 367.6,230.8 367.9,230.4 368.2,231.3 368.5,230.2 368.8,231.3 369.1,230.4 369.4,230.8 369.7,231.1 370.0,232.0 370.0,231.4 370.3,230.9 370.6,231.7 370.9,231.1 371.2,230.9 371.5,231.5 371.8,231.4 372.1,231.9 372.4,231.3 372.7,231.8 373.0,231.9 373.3,231.8 373.6,231.8 373.9,231.5 374.2,232.3 374.5,232.0 374.8,232.3 375.1,231.9 375.4,232.2 375.7,231.7 376.0,232.3 376.3,232.7 376.6,232.4 376.9,232.8 377.2,232.6 377.5,233.2 377.8,232.5 378.1,231.9 378.4,232.9 378.7,232.7 379.0,232.4 379.3,233.2 379.6,233.1 379.9,233.2 380.0,232.8 380.2,233.1 380.5,233.2 380.8,234.0 381.1,232.9 381.4,233.2 381.7,233.4 382.0,232.5 382.3,232.6 382.6,234.4 382.9,232.6 383.2,233.8 383.5,233.2 383.8,233.2 384.1,232.7 384.4,233.3 384.7,234.1 385.0,233.1 385.3,234.1 385.6,234.0 385.9,234.8 386.2,233.7 386.5,234.5 386.8,234.4 387.1,233.9 387.4,233.3 387.7,234.8 388.0,233.5 388.3,234.0 388.6,234.6 388.9,234.8 389.2,233.9 389.5,234.3 389.8,234.3 390.0,234.9 390.1,235.6 390.4,233.6 390.7,234.9 391.0,233.2 391.3,234.6 391.6,234.1 391.9,235.5 392.2,234.7 392.5,234.3 392.8,234.5 393.1,234.5 393.4,234.9 393.7,234.8 394.0,235.2 394.3,235.6 394.6,235.2 394.9,234.4 395.2,234.2 395.5,234.7 395.8,235.5 396.1,234.9 396.4,234.8 396.7,235.2 397.0,234.5 397.3,234.7 397.6,235.4 397.9,235.1 398.2,235.1 398.5,235.4 398.8,235.0 399.1,235.0 399.4,235.1 399.7,235.7 400.0,235.4 400.0,234.8 400.3,235.3 400.6,235.7 400.9,236.3 401.2,235.0 401.5,235.7 401.8,235.4 402.1,235.9 402.4,235.8 402.7,236.3 403.0,235.8 403.3,235.4 403.6,235.4 403.9,235.8 404.2,235.8 404.5,236.8 404.8,236.5 405.1,235.2 405.4,235.9 405.7,235.1 406.0,235.0 406.3,236.1 406.6,236.0 406.9,235.3 407.2,236.6 407.5,235.4 407.8,235.3 408.1,236.2 408.4,236.0 408.7,235.8 409.0,235.8 409.3,236.0 409.6,235.8 409.9,235.8 410.0,235.0 410.2,235.3 410.5,236.2 410.8,235.6 411.1,236.2 411.4,236.5 411.7,235.8 412.0,236.1 412.3,236.9 412.6,236.3 412.9,236.8 413.2,236.6 413.5,236.3 413.8,235.9 414.1,235.6 414.4,235.4 414.7,236.2 415.0,236.2 415.3,235.9 415.6,236.3 415.9,235.7 416.2,236.5 416.5,236.0 416.8,235.9 417.1,236.0 417.4,235.9 417.7,237.1 418.0,235.2 418.3,236.1 418.6,236.6 418.9,236.3 419.2,235.8 419.5,236.8 419.8,235.5 420.0,235.4 420.1,236.3 420.4,235.3 420.7,234.9 421.0,236.5 421.3,236.4 421.6,236.4 421.9,235.9 422.2,236.3 422.5,235.8 422.8,237.1 423.1,236.7 423.4,236.7 423.7,235.5 424.0,236.8 424.3,237.2 424.6,237.1 424.9,237.0 425.2,236.7 425.5,236.6 425.8,237.1 426.1,237.0 426.4,237.0 426.7,236.8 427.0,237.8 427.3,236.5 427.6,237.1 427.9,236.9 428.2,237.7 428.5,237.9 428.8,237.8 429.1,237.7 429.4,236.7 429.7,238.3 430.0,237.6 430.0,237.4 430.3,237.4 430.6,237.3 430.9,237.7 431.2,237.6 431.5,237.3 431.8,236.4 432.1,237.5 432.4,237.8 432.7,237.8 433.0,237.5 433.3,237.8 433.6,238.1 433.9,237.5 434.2,238.4 434.5,236.8 434.8,237.2 435.1,237.3 435.4,236.6 435.7,237.3 436.0,238.4 436.3,238.4 436.6,237.9 436.9,238.6 437.2,238.0 437.5,237.6 437.8,238.0 438.1,237.8 438.4,238.2 438.7,237.2 439.0,238.4 439.3,237.7 439.6,238.3 439.9,237.2 440.0,237.7 440.2,237.9 440.5,238.3 440.8,237.3 441.1,238.6 441.4,238.1 441.7,237.6 442.0,238.4 442.3,237.9 442.6,238.3 442.9,238.8 443.2,238.1 443.5,237.5 443.8,237.5 444.1,238.0 444.4,237.8 444.7,237.3 445.0,237.4 445.0,238.0 445.3,238.8 445.6,236.5 445.9,238.0 446.2,237.6 446.5,238.1 446.8,238.1 447.1,237.7 447.4,237.2 447.7,237.1 448.0,236.8 448.3,238.3 448.6,237.6 448.9,237.5 449.2,237.6 449.5,237.1 449.8,237.8 450.1,238.3 450.4,238.2 450.7,237.0 451.0,238.3 451.3,237.4 451.6,236.8 451.9,237.1 452.2,237.3 452.5,237.7 452.8,237.2 453.1,237.0 453.4,237.6 453.7,238.6 454.0,237.4 454.3,237.9 454.6,237.7 454.9,238.9 455.0,236.8 455.2,238.2 455.5,237.1 455.8,237.4 456.1,237.7 456.4,239.2 456.7,237.4 457.0,236.9 457.3,238.3 457.6,237.4 457.9,237.7 458.2,237.8 458.5,237.9 458.8,237.8 459.1,238.0 459.4,238.0 459.7,238.3 460.0,237.7 460.3,237.6 460.6,237.5 460.9,238.2 461.2,237.9 461.5,238.2 461.8,238.2 462.1,238.8 462.4,238.1 462.7,238.4 463.0,237.5 463.3,237.6 463.6,237.9 463.9,237.5 464.2,238.4 464.5,237.5 464.8,238.1 465.0,237.0 465.1,237.6 465.4,237.9 465.7,238.0 466.0,237.2 466.3,238.0 466.6,238.4 466.9,238.2 467.2,237.5 467.5,237.5 467.8,237.1 468.1,237.9 468.4,238.2 468.7,237.2 469.0,236.6 469.3,237.3 469.6,237.5 469.9,235.8 470.0,237.1 470.2,237.9 470.5,237.2 470.8,237.0 471.1,236.8 471.4,236.9 471.7,235.8 472.0,235.7 472.3,236.1 472.6,235.4 472.9,235.6 473.2,234.4 473.5,235.4 473.8,235.1 474.1,234.5 474.4,234.2 474.7,234.5 475.0,232.9 475.0,233.0 475.3,232.4 475.6,232.0 475.9,230.9 476.2,230.4 476.5,229.0 476.8,227.4 477.1,226.1 477.4,226.0 477.5,225.0 477.7,223.8 478.0,221.6 478.3,218.9 478.6,216.9 478.9,215.0 479.2,213.7 479.2,213.6 479.5,214.5 479.8,217.0 480.1,221.3 480.4,223.0 480.6,223.8 480.7,224.8 481.0,226.1 481.3,227.9 481.6,228.6 481.9,230.3 482.2,231.1 482.5,232.1 482.8,232.9 483.0,233.3 483.1,232.6 483.4,231.4 483.7,231.6 484.0,231.8 484.3,232.4 484.6,231.5 484.9,231.5 485.0,230.8 485.2,230.9 485.5,230.5 485.8,229.2 486.1,228.9 486.4,228.1 486.7,226.6 487.0,226.1 487.3,225.4 487.5,224.0 487.6,223.7 487.9,222.4 488.2,220.9 488.5,219.9 488.8,218.3 489.1,217.1 489.4,215.9 489.7,214.9 490.0,214.9 490.0,215.4 490.3,215.0 490.6,216.0 490.9,218.2 491.2,219.3 491.5,220.0 491.8,222.1 492.1,223.0 492.4,225.3 492.7,225.2 493.0,225.9 493.1,226.5 493.3,225.5 493.6,226.3 493.9,225.2 494.2,225.3 494.5,224.7 494.8,224.4 495.1,224.0 495.4,223.3 495.7,222.3 496.0,222.6 496.0,222.5 496.3,222.0 496.6,221.0 496.9,218.5 497.2,218.2 497.5,216.6 497.8,213.9 498.1,212.7 498.4,210.8 498.7,207.7 499.0,205.2 499.3,203.4 499.6,202.6 499.9,199.3 500.0,198.0 500.2,196.9 500.5,193.8 500.8,191.1 501.1,188.0 501.4,183.3 501.7,181.1 502.0,178.1 502.3,174.1 502.6,170.9 502.9,168.9 503.2,165.7 503.5,164.1 503.8,163.1 504.0,163.4 504.1,163.8 504.4,165.8 504.7,170.3 505.0,175.9 505.3,181.8 505.6,187.0 505.9,192.2 505.9,192.9 506.2,196.1 506.5,200.8 506.8,205.0 507.1,209.2 507.4,212.5 507.7,215.6 507.8,218.4 508.0,219.5 508.3,221.4 508.6,224.0 508.9,225.9 509.0,225.7 509.2,226.6 509.5,226.6 509.8,227.3 510.1,227.8 510.4,228.1 510.7,227.5 511.0,228.9 511.3,229.2 511.6,229.5 511.9,229.0 512.1,229.8 512.2,229.8 512.5,229.0 512.8,229.0 513.1,230.3 513.4,229.8 513.7,230.9 514.0,231.5 514.3,230.4 514.6,230.4 514.9,230.8 515.2,231.2 515.5,230.4 515.8,231.5 515.8,231.3 516.1,231.1 516.4,230.5 516.7,230.9 517.0,230.6 517.3,229.3 517.6,230.5 517.9,229.0 518.2,228.9 518.5,228.1 518.8,228.2 519.1,228.2 519.4,227.1 519.7,226.5 520.0,226.9 520.2,226.5 520.3,226.8 520.6,227.1 520.9,227.4 521.2,228.2 521.5,227.5 521.8,228.5 522.1,228.5 522.4,229.8 522.7,230.7 522.7,229.7 523.0,230.8 523.3,230.5 523.6,230.7 523.9,231.5 524.2,232.1 524.5,233.1 524.8,234.0 525.1,235.0 525.2,234.9 525.4,235.0 525.7,234.8 526.0,234.9 526.3,235.5 526.6,235.8 526.9,236.0 527.2,236.3 527.5,236.2 527.8,235.6 528.1,236.1 528.4,236.3 528.7,237.6 529.0,236.7 529.3,237.3 529.6,237.7 529.9,237.2 529.9,236.9 530.2,237.0 530.5,236.7 530.8,237.4 531.1,237.8 531.4,237.5 531.7,237.7 532.0,237.7 532.3,238.3 532.6,237.1 532.9,237.5 533.2,237.8 533.5,238.0 533.8,236.4 534.1,237.3 534.4,237.4 534.7,237.0 535.0,237.9 535.0,237.6 535.3,237.3 535.6,236.8 535.9,236.9 536.2,237.0 536.5,237.7 536.8,236.9 537.1,236.5 537.4,236.8 537.7,237.2 538.0,238.2 538.3,238.5 538.6,237.2 538.9,237.8 539.2,238.0 539.5,238.0 539.8,237.3 540.0,236.8 540.1,237.2 540.4,236.6 540.7,237.5 541.0,237.7 541.3,236.6 541.6,237.4 541.9,237.5 542.2,238.0 542.5,238.0 542.8,237.8 543.1,237.1 543.4,237.2 543.7,237.9 544.0,237.1 544.3,237.4 544.6,238.1 544.9,237.5 545.2,236.8 545.5,237.3 545.8,237.7 546.1,237.3 546.4,237.9 546.7,238.0 547.0,237.1 547.3,237.2 547.6,237.4 547.9,236.9 548.2,237.6 548.5,237.3 548.8,237.7 549.1,237.1 549.4,237.0 549.7,238.2 550.0,237.0 550.0,237.1 550.3,237.1 550.6,237.3 550.9,237.0 551.2,237.4 551.5,237.1 551.8,237.2 552.1,237.5 552.4,237.6 552.7,237.5 553.0,237.0 553.3,237.4 553.6,237.2 553.9,237.2 554.2,236.4 554.5,237.4 554.8,237.0 555.1,237.8 555.4,237.3 555.7,236.5 556.0,236.4 556.3,237.4 556.6,236.5 556.9,237.1 557.2,236.7 557.5,237.7 557.8,236.7 558.1,237.3 558.4,237.2 558.7,236.3 559.0,236.3 559.3,237.1 559.6,236.4 559.9,235.9 560.0,236.8 560.2,237.4 560.5,236.2 560.8,236.7 561.1,235.9 561.4,236.5 561.7,235.7 562.0,236.3 562.3,235.8 562.6,235.3 562.9,235.3 563.2,234.8 563.5,234.4 563.8,234.3 564.1,234.5 564.4,233.9 564.7,234.4 565.0,234.3 565.0,234.2 565.3,233.6 565.6,233.6 565.9,233.3 566.2,233.6 566.5,232.4 566.8,232.3 567.1,232.1 567.4,231.8 567.7,231.3 568.0,231.1 568.0,231.8 568.3,230.8 568.6,231.2 568.9,231.3 569.2,230.7 569.5,229.0 569.8,229.8 570.1,229.4 570.4,229.1 570.7,227.9 571.0,228.7 571.3,227.7 571.6,228.7 571.9,228.5 572.0,229.2 572.2,227.9 572.5,227.7 572.8,229.3 573.1,229.8 573.4,229.9 573.7,231.3 574.0,231.6 574.0,230.8 574.3,231.8 574.6,232.4 574.9,233.3 575.2,234.1 575.5,234.3 575.8,234.9 576.0,235.5 576.1,235.3 576.4,235.4 576.7,235.6 577.0,235.9 577.3,235.2 577.6,236.3 577.9,235.9 578.2,236.5 578.5,235.9 578.8,237.1 579.1,236.9 579.4,236.2 579.7,237.0 580.0,236.6 580.0,237.7 580.3,237.2 580.6,236.6 580.9,237.1 581.2,237.0 581.5,237.6 581.8,237.3 582.1,237.3 582.4,236.6 582.7,237.5 583.0,238.1 583.3,237.5 583.6,237.2 583.9,237.3 584.2,236.8 584.5,237.4 584.8,236.8 585.1,237.3 585.4,237.2 585.7,237.0 586.0,237.6 586.3,236.7 586.6,237.4 586.9,236.8 587.2,238.2 587.5,238.3 587.8,237.8 588.1,238.2 588.4,237.7 588.7,237.7 589.0,237.2 589.3,237.0 589.6,237.5 589.9,237.2 590.0,237.2 590.2,237.8 590.5,237.4 590.8,236.7 591.1,237.3 591.4,237.1 591.7,237.3 592.0,236.9 592.3,237.9 592.6,238.2 592.9,236.9 593.2,237.7 593.5,237.6 593.8,236.9 594.1,237.4 594.4,237.9 594.7,237.7 595.0,238.0 595.3,236.8 595.6,236.9 595.9,237.4 596.2,237.4 596.5,237.2 596.8,237.0 597.1,237.0 597.4,236.9 597.7,237.3 598.0,235.9 598.3,237.8 598.6,236.8 598.9,236.4 599.2,237.2 599.5,236.4 599.8,237.1 600.0,236.7 600.1,237.2 600.4,237.2 600.7,237.4 601.0,236.6 601.3,236.6 601.6,236.6 601.9,235.9 602.2,236.7 602.5,236.4 602.8,235.6 603.1,236.7 603.4,236.6 603.7,235.3 604.0,236.0 604.3,236.1 604.6,235.8 604.9,234.8 605.0,234.6 605.2,235.1 605.5,234.7 605.8,234.7 606.1,234.4 606.4,234.4 606.7,233.6 607.0,233.5 607.3,234.4 607.6,232.6 607.9,232.4 608.0,232.0 608.2,231.5 608.5,229.8 608.8,228.7 609.1,226.6 609.4,224.8 609.6,223.9 609.7,222.3 610.0,219.8 610.3,215.9 610.6,213.1 610.9,210.4 611.0,208.7 611.2,206.4 611.5,203.8 611.8,200.7 612.1,197.7 612.4,194.7 612.7,192.9 612.7,191.6 613.0,189.2 613.3,186.6 613.6,184.8 613.9,181.0 614.0,180.6 614.2,177.3 614.5,171.9 614.8,164.8 615.1,158.5 615.4,150.0 615.7,141.3 616.0,132.2 616.3,123.2 616.6,114.3 616.9,107.2 617.2,99.7 617.5,93.2 617.8,88.1 618.1,85.0 618.4,83.3 618.5,83.9 618.7,84.9 619.0,90.8 619.3,101.5 619.6,116.1 619.9,132.4 620.2,150.6 620.5,168.7 620.7,180.3 620.8,187.0 621.1,210.1 621.2,214.3 621.4,217.0 621.7,221.4 622.0,224.7 622.3,226.5 622.6,227.3 622.8,228.1 622.9,228.3 623.2,230.7 623.5,230.0 623.8,231.3 624.1,232.8 624.4,233.0 624.7,233.5 625.0,233.1 625.0,233.6 625.3,235.0 625.6,234.0 625.9,234.6 626.2,234.6 626.5,235.0 626.8,235.5 627.1,236.1 627.4,235.3 627.7,235.3 628.0,236.0 628.3,236.1 628.3,236.6 628.6,236.3 628.9,235.7 629.2,236.1 629.5,236.3 629.8,235.9 630.0,235.6 630.1,236.0 630.4,235.5 630.7,234.7 631.0,236.1 631.3,234.9 631.6,235.2 631.9,235.1 632.2,235.0 632.5,235.0 632.8,234.4 633.1,235.1 633.4,234.8 633.7,234.7 634.0,235.1 634.3,235.0 634.6,235.0 634.9,235.1 635.0,234.4 635.2,233.4 635.5,234.0 635.8,233.7 636.1,233.5 636.4,233.0 636.7,232.6 637.0,233.2 637.3,233.2 637.5,232.2 637.6,233.0 637.9,232.7 638.2,232.7 638.5,233.3 638.8,233.2 639.1,233.2 639.4,233.7 639.7,233.1 640.0,233.9 640.3,234.3 640.6,234.1 640.9,235.1 641.2,235.3 641.5,235.2 641.8,235.5 642.0,236.0 642.1,236.2 642.4,235.5 642.7,236.2 643.0,236.6 643.3,236.3 643.6,236.1 643.9,236.2 644.2,236.5 644.5,236.3 644.8,237.8 645.1,236.8 645.4,237.3 645.7,237.3 646.0,237.6 646.3,237.3 646.6,237.0 646.9,238.3 647.2,237.7 647.5,237.8 647.8,237.9 648.1,238.5 648.4,238.3 648.7,238.5 649.0,238.4 649.3,238.1 649.6,238.2 649.9,237.8 650.0,237.3 650.2,238.0 650.5,237.6 650.8,239.2 651.1,238.8 651.4,238.6 651.7,237.9 652.0,239.0 652.3,237.4 652.6,237.6 652.9,237.8 653.2,237.7 653.5,238.2 653.8,238.2 654.1,238.9 654.4,238.5 654.7,238.6 655.0,238.3 655.3,238.0 655.6,237.8 655.9,237.4 656.2,237.7 656.5,237.9 656.8,238.4 657.1,237.4 657.4,237.5 657.7,238.2 658.0,237.6 658.3,238.2 658.6,237.9 658.9,237.8 659.2,237.5 659.5,238.1 659.8,237.8 660.0,237.8 660.1,237.8 660.4,238.2 660.7,238.1 661.0,237.3 661.3,237.9 661.6,238.1 661.9,238.3 662.2,238.1 662.5,237.7 662.8,237.0 663.1,237.1 663.4,237.7 663.7,236.9 664.0,237.5 664.3,237.5 664.6,236.3 664.9,236.8 665.0,236.6 665.2,237.4 665.5,236.7 665.8,236.0 666.1,236.2 666.4,235.5 666.7,235.6 667.0,235.5 667.3,235.3 667.6,235.1 667.9,234.3 668.2,233.7 668.5,234.0 668.8,233.5 669.0,233.4 669.1,234.5 669.4,233.7 669.7,232.8 670.0,231.8 670.3,231.4 670.6,231.6 670.9,231.3 671.2,230.2 671.5,229.8 671.8,229.3 672.0,229.3 672.1,227.8 672.4,228.0 672.7,227.5 673.0,227.0 673.3,226.0 673.6,224.6 673.9,224.0 674.2,222.9 674.5,223.0 674.8,222.4 675.0,222.2 675.1,221.4 675.4,220.8 675.7,221.5 676.0,220.4 676.3,220.7 676.6,219.8 676.9,218.9 677.0,219.8 677.2,220.2 677.5,220.0 677.8,220.3 678.1,222.6 678.4,223.6 678.7,225.0 679.0,224.7 679.0,226.1 679.3,225.7 679.6,227.5 679.9,229.3 680.2,229.2 680.5,230.2 680.8,231.8 681.1,233.6 681.4,234.3 681.7,234.0 682.0,235.1 682.0,234.9 682.3,235.2 682.6,235.5 682.9,235.4 683.2,236.3 683.5,236.6 683.8,237.6 684.1,237.0 684.4,235.8 684.7,236.5 685.0,237.3 685.3,237.3 685.6,236.6 685.9,237.5 686.0,237.4 686.2,237.6 686.5,237.7 686.8,238.3 687.1,238.6 687.4,238.4 687.7,237.7 688.0,237.9 688.3,238.1 688.6,238.4 688.9,238.3 689.2,238.5 689.5,238.3 689.8,239.2 690.1,239.2 690.4,239.3 690.7,238.9 691.0,239.2 691.3,238.7 691.6,238.7 691.9,239.0 692.2,239.5 692.5,239.3 692.8,238.9 693.1,239.4 693.4,239.6 693.7,239.5 694.0,239.2 694.3,239.6 694.6,239.4 694.9,239.5 695.0,239.6 695.2,239.9 695.5,240.4 695.8,240.3 696.1,239.9 696.4,239.5 696.7,239.6 697.0,239.6 697.3,240.2 697.6,238.6 697.9,239.9 698.2,238.9 698.5,239.8 698.8,240.4 699.1,239.5 699.4,238.9 699.7,240.4 700.0,240.5 700.3,240.1 700.6,240.4 700.9,239.6 701.2,240.4 701.5,240.7 701.8,240.2 702.1,240.1 702.4,240.5 702.7,240.5 703.0,239.7 703.3,240.6 703.6,240.3 703.9,240.1 704.2,240.6 704.5,240.4 704.8,240.3 705.0,239.8 705.1,240.4 705.4,239.5 705.7,239.9 706.0,239.3 706.3,239.3 706.6,240.2 706.9,239.9 707.2,240.0 707.5,240.2 707.8,240.1 708.1,239.5 708.4,239.9 708.7,239.8 709.0,239.6 709.3,239.8 709.6,239.6 709.9,239.5 710.2,239.6 710.5,239.8 710.8,240.6 711.1,239.3 711.4,239.9 711.7,239.0 712.0,240.3 712.0,239.5 712.3,239.6 712.6,240.1 712.9,239.9 713.2,238.8 713.5,239.6 713.8,239.2 714.1,239.5 714.4,239.2 714.7,239.4 715.0,239.2 715.3,238.9 715.6,239.4 715.9,238.2 716.2,238.6 716.5,238.3 716.8,238.6 717.1,238.5 717.4,238.6 717.7,238.4 718.0,238.4 718.0,237.9 718.3,238.6 718.6,238.8 718.9,238.4 719.2,238.5 719.5,238.5 719.8,239.6 720.1,239.0 720.4,239.2 720.7,239.0 721.0,239.1 721.3,239.0 721.6,240.2 721.9,238.9 722.2,239.9 722.5,239.8 722.8,239.8 723.1,239.4 723.4,239.6 723.7,240.7 724.0,240.0 724.3,240.8 724.6,240.7 724.9,240.7 725.0,240.8 725.2,240.0 725.5,240.3 725.8,240.9 726.1,240.1 726.4,241.3 726.7,240.4 727.0,240.6 727.3,240.3 727.6,240.9 727.9,240.4 728.2,240.6 728.5,240.3 728.8,241.3 729.1,240.1 729.4,241.0 729.7,240.9 730.0,241.0 730.0,240.4 730.3,241.2 730.6,241.2 730.9,240.9 731.2,240.9 731.5,240.7 731.8,241.1 732.1,240.5 732.4,241.0 732.7,241.0 733.0,240.2 733.3,239.7 733.6,240.8 733.9,240.7 734.2,241.3 734.5,240.8 734.8,240.6 735.1,240.2 735.4,240.8 735.7,240.6 736.0,240.3 736.3,240.7 736.6,241.2 736.9,240.8 737.2,240.4 737.5,240.9 737.8,240.3 738.1,240.1 738.4,241.0 738.7,240.6 739.0,241.3 739.3,240.9 739.6,240.5 739.9,240.9 740.0,241.3 740.2,240.7 740.5,240.4 740.8,240.5 741.1,240.5 741.4,240.3 741.7,240.3 742.0,241.0 742.3,241.3 742.6,240.7 742.9,241.2 743.2,241.3 743.5,241.7 743.8,240.9 744.1,240.8 744.4,241.2 744.7,241.1 745.0,241.2 745.3,241.6 745.6,240.9 745.9,241.2 746.2,240.7 746.5,241.1 746.8,240.9 747.1,240.9 747.4,241.1 747.7,241.0 748.0,241.4 748.3,241.6 748.6,240.6 748.9,241.7 749.2,240.3 749.5,241.4 749.8,241.6 750.0,241.0 750.1,241.2 750.4,241.0 750.7,241.7 751.0,240.0 751.3,240.9 751.6,240.5 751.9,241.4 752.2,241.8 752.5,241.8 752.8,241.6 753.1,241.4 753.4,241.0 753.7,241.8 754.0,241.6 754.3,240.9 754.6,240.8 754.9,241.0 755.2,241.8 755.5,241.8 755.8,242.0 756.1,241.0 756.4,241.1 756.7,241.9 757.0,241.4 757.3,241.6 757.6,240.7 757.9,241.1 758.2,241.3 758.5,241.2 758.8,241.1 759.1,240.6 759.4,242.0 759.7,241.4 760.0,240.7 760.0,241.8 760.3,241.3 760.6,241.6 760.9,241.2 761.2,241.0 761.5,241.0 761.8,241.5 762.1,241.6 762.4,241.5 762.7,241.6 763.0,241.8 763.3,241.4 763.6,241.7 763.9,241.8 764.2,241.4 764.5,241.3 764.8,241.1 765.1,240.8 765.4,240.7 765.7,241.9 766.0,241.3 766.3,241.1 766.6,242.0 766.9,241.7 767.2,241.3 767.5,241.7 767.8,241.2 768.1,241.5 768.4,242.1 768.7,241.8 769.0,241.2 769.3,241.6 769.6,241.8 769.9,241.3 770.0,241.1 770.2,242.1 770.5,241.2 770.8,240.8 771.1,241.4 771.4,242.3 771.7,241.6 772.0,241.7 772.3,240.4 772.6,241.1 772.9,241.8 773.2,241.1 773.5,241.9 773.8,241.5 774.1,241.4 774.4,242.0 774.7,241.1 775.0,241.1 775.3,241.3 775.6,241.3 775.9,240.5 776.2,241.7 776.5,241.3 776.8,241.1 777.1,241.4 777.4,241.0 777.7,241.7 778.0,241.2 778.3,241.4 778.6,240.7 778.9,241.0 779.2,241.2 779.5,240.7 779.8,240.8 780.0,241.0 780.1,241.5 780.4,241.4 780.7,241.4 781.0,241.1 781.3,241.4 781.6,241.6 781.9,241.0 782.2,241.1 782.5,241.2 782.8,240.1 783.1,240.8 783.4,241.0 783.7,241.1 784.0,240.7 784.3,241.2 784.6,240.5 784.9,240.7 785.2,241.4 785.5,240.1 785.8,240.6 786.1,240.6 786.4,240.6 786.7,240.4 787.0,240.8 787.3,240.1 787.6,240.0 787.9,240.7 788.2,240.0 788.5,240.6 788.8,240.4 789.1,240.1 789.4,240.2 789.7,240.3 790.0,240.5 790.0,240.1 790.3,240.2 790.6,239.7 790.9,240.2 791.2,239.5 791.5,240.2 791.8,240.0 792.1,241.1 792.4,240.7 792.7,240.1 793.0,240.6 793.3,240.3 793.6,239.7 793.9,239.1 794.2,240.6 794.5,240.3 794.8,239.3 795.1,240.4 795.4,240.5 795.7,239.8 796.0,240.4 796.3,239.3 796.6,239.9 796.9,240.0 797.2,240.3 797.5,240.1 797.8,240.0 798.1,240.2 798.4,239.6 798.7,240.5 799.0,239.7 799.3,240.2 799.6,239.8 799.9,239.7 800.0,240.1 800.2,240.0 800.5,240.3 800.8,240.2 801.1,239.5 801.4,239.9 801.7,239.7 802.0,239.2 802.3,239.0 802.6,239.6 802.9,239.2 803.2,238.8 803.5,239.2 803.8,239.3 804.1,239.2 804.4,238.6 804.7,238.8 805.0,239.5 805.3,238.6 805.6,238.7 805.9,239.7 806.2,238.9 806.5,238.5 806.8,237.8 807.1,238.7 807.4,237.9 807.7,238.5 808.0,238.1 808.3,237.7 808.6,239.1 808.9,238.3 809.2,238.7 809.5,238.6 809.8,238.0 810.0,238.3 810.1,238.2 810.4,238.7 810.7,238.5 811.0,238.2 811.3,239.0 811.6,238.6 811.9,238.6 812.2,238.1 812.5,238.6 812.8,237.9 813.1,238.7 813.4,238.2 813.7,238.7 814.0,238.6 814.3,238.8 814.6,238.9 814.9,238.8 815.0,238.8 815.2,238.2 815.5,238.1 815.8,239.4 816.1,239.2 816.4,238.4 816.7,239.8 817.0,238.7 817.3,239.3 817.6,239.3 817.9,239.2 818.2,239.5 818.5,238.7 818.8,239.3 819.1,239.2 819.4,239.4 819.7,239.3 820.0,239.2 820.0,239.2 820.3,239.9 820.6,239.3 820.9,239.9 821.2,240.0 821.5,239.9 821.8,240.2 822.1,240.3 822.4,240.0 822.7,240.5 823.0,241.2 823.3,240.1 823.6,240.5 823.9,240.4 824.2,241.6 824.5,240.2 824.8,240.8 825.0,241.2 825.1,240.4 825.4,240.7 825.7,240.5 826.0,240.2 826.3,240.8 826.6,241.0 826.9,240.6 827.2,240.9 827.5,241.1 827.8,241.3 828.1,240.3 828.4,241.1 828.7,240.5 829.0,240.0 829.3,240.5 829.6,241.1 829.9,240.9 830.2,240.3 830.5,241.5 830.8,241.0 831.1,240.8 831.4,240.6 831.7,241.0 832.0,240.6 832.3,241.3 832.6,240.9 832.9,241.1 833.2,240.7 833.5,240.2 833.8,241.0 834.1,240.4 834.4,240.8 834.7,240.8 835.0,240.5 835.0,241.2 835.3,240.2 835.6,241.4 835.9,240.6 836.2,241.2 836.5,241.3 836.8,240.4 837.1,240.5 837.4,241.2 837.7,240.9 838.0,240.8 838.3,240.0 838.6,240.1 838.9,241.0 839.2,241.4 839.5,240.5 839.8,240.4 840.1,240.9 840.4,241.0 840.7,241.0 841.0,240.6 841.3,240.0 841.6,241.4 841.9,240.6 842.2,241.3 842.5,240.0 842.8,241.0 843.1,240.6 843.4,240.4 843.7,241.2 844.0,241.3 844.3,240.6 844.6,241.1 844.9,240.4 845.0,240.5 845.2,240.7 845.5,240.7 845.8,241.1 846.1,240.3 846.4,241.2 846.7,241.2 847.0,240.7 847.3,240.3 847.6,239.8 847.9,240.7 848.2,240.5 848.5,240.8 848.8,240.3 849.1,240.7 849.4,240.7 849.7,240.7 850.0,240.8 850.3,240.8 850.6,241.1 850.9,240.3 851.2,240.9 851.5,240.7 851.8,240.4 852.1,240.2 852.4,241.2 852.7,240.7 853.0,240.4 853.3,240.6 853.6,240.5 853.9,240.3 854.2,240.0 854.5,240.6 854.8,240.4 855.0,240.4 855.1,240.9 855.4,240.0 855.7,240.1 856.0,240.5 856.3,240.8 856.6,240.7 856.9,240.8 857.2,239.6 857.5,240.7 857.8,240.6 858.1,240.7 858.4,240.2 858.7,240.6 859.0,240.8 859.3,241.1 859.6,240.5 859.9,239.9 860.2,240.4 860.5,240.7 860.8,240.6 861.1,241.2 861.4,240.3 861.7,240.0 862.0,240.1 862.3,240.6 862.6,240.0 862.9,239.9 863.2,240.0 863.5,240.8 863.8,240.4 864.1,240.2 864.4,240.7 864.7,240.6 865.0,239.9 865.0,240.6 865.3,240.4 865.6,239.5 865.9,239.8 866.2,240.4 866.5,240.5 866.8,240.1 867.1,239.8 867.4,240.3 867.7,239.5 868.0,240.4 868.3,240.1 868.6,240.2 868.9,239.9 869.2,240.5 869.5,239.2 869.8,239.8 870.1,240.4 870.4,239.8 870.7,240.7 871.0,240.3 871.3,239.8 871.6,240.5 871.9,240.0 872.2,240.3 872.5,239.8 872.8,239.8 873.1,240.3 873.4,240.0 873.7,239.6 874.0,239.6 874.3,240.1 874.6,240.6 874.9,239.5 875.0,240.1 875.2,238.6 875.5,239.2 875.8,240.0 876.1,240.3 876.4,239.6 876.7,239.7 877.0,239.5 877.3,239.7 877.6,238.7 877.9,239.2 878.2,238.7 878.5,238.5 878.8,238.5 879.0,238.2 879.1,237.9 879.4,237.7 879.7,236.8 880.0,237.0 880.3,235.8 880.6,234.3 880.9,234.0 881.0,233.5 881.2,232.3 881.5,230.0 881.8,228.0 882.1,225.7 882.4,223.6 882.7,220.9 883.0,219.1 883.0,220.2 883.3,218.6 883.6,216.9 883.9,215.1 884.2,214.5 884.5,213.6 884.8,212.4 885.1,211.5 885.4,210.4 885.7,210.2 886.0,209.1 886.3,208.9 886.5,208.8 886.6,208.8 886.9,210.5 887.2,210.4 887.5,213.0 887.8,214.7 888.1,217.0 888.4,220.0 888.7,221.6 889.0,224.2 889.0,225.1 889.3,226.1 889.6,228.3 889.9,229.9 890.2,232.4 890.5,233.3 890.8,235.3 891.0,235.9 891.1,237.1 891.4,236.9 891.7,237.5 892.0,238.0 892.3,238.2 892.6,239.4 892.9,239.9 893.0,239.2 893.2,239.6 893.5,239.3 893.8,239.6 894.1,239.7 894.4,239.0 894.7,239.3 895.0,240.1 895.3,238.9 895.6,239.8 895.9,239.7 896.2,239.4 896.5,239.9 896.8,240.0 897.1,240.1 897.4,238.9 897.7,240.6 898.0,239.8 898.3,240.4 898.6,239.9 898.9,239.8 899.2,240.0 899.5,241.3 899.8,240.6 900.0,239.9 900.1,240.1 900.4,240.5 900.7,240.2 901.0,240.0 901.3,239.9 901.6,239.5 901.9,240.3 902.2,240.4 902.5,240.9 902.8,239.7 903.1,240.2 903.4,239.9 903.7,240.4 904.0,239.9 904.3,239.6 904.6,239.2 904.9,240.2 905.2,239.9 905.5,240.3 905.8,239.6 906.1,240.9 906.4,239.5 906.7,240.0 907.0,239.9 907.3,240.2 907.6,239.7 907.9,239.3 908.2,239.3 908.5,240.0 908.8,239.7 909.1,239.8 909.4,239.3 909.7,239.7 910.0,239.7 910.0,239.8 910.3,239.0 910.6,239.3 910.9,240.3 911.2,239.4 911.5,239.5 911.8,239.3 912.1,238.9 912.4,239.0 912.7,239.6 913.0,239.2 913.3,240.2 913.6,238.8 913.9,238.6 914.2,239.2 914.5,238.8 914.8,239.9 915.1,239.1 915.4,239.5 915.7,238.7 916.0,239.5 916.3,239.5 916.6,239.7 916.9,239.3 917.2,239.4 917.5,239.2 917.8,239.5 918.1,238.9 918.4,239.3 918.7,238.8 919.0,239.3 919.3,238.9 919.6,238.8 919.9,238.7 920.0,239.6 920.2,238.4 920.5,238.4 920.8,239.2 921.1,238.5 921.4,238.7 921.7,238.7 922.0,239.8 922.3,238.6 922.6,238.6 922.9,238.7 923.2,239.0 923.5,239.1 923.8,238.3 924.1,239.0 924.4,239.6 924.7,238.1 925.0,239.1 925.3,239.1 925.6,238.9 925.9,238.7 926.2,237.8 926.5,239.3 926.8,238.6 927.1,238.7 927.4,239.2 927.7,237.8 928.0,238.7 928.3,238.9 928.6,239.0 928.9,238.9 929.2,239.5 929.5,238.7 929.8,239.0 930.0,238.9 930.1,238.0 930.4,238.3 930.7,239.4 931.0,238.4 931.3,238.4 931.6,237.9 931.9,238.2 932.2,237.8 932.5,238.0 932.8,238.4 933.1,237.8 933.4,237.8 933.7,238.6 934.0,238.1 934.3,238.1 934.6,238.2 934.9,237.5 935.2,237.5 935.5,236.7 935.8,237.8 936.1,237.3 936.4,237.3 936.7,236.8 937.0,237.3 937.0,237.4 937.3,237.1 937.6,236.2 937.9,236.3 938.2,236.4 938.5,235.9 938.8,236.2 939.1,236.3 939.4,235.4 939.7,235.6 940.0,235.3 940.0,236.0 940.3,236.0 940.6,236.7 940.9,235.8 941.2,235.5 941.5,236.2 941.8,236.0 942.1,236.4 942.4,236.9 942.7,236.5 943.0,237.0 943.3,236.0 943.6,237.3 943.9,237.0 944.0,236.9 944.2,236.8 944.5,237.6 944.8,236.9 945.1,237.7 945.4,237.0 945.7,237.3 946.0,237.4 946.3,238.1 946.6,237.4 946.9,237.5 947.2,237.4 947.5,237.3 947.8,237.2 948.1,238.2 948.4,238.1 948.7,237.3 949.0,237.6 949.3,237.1 949.6,238.0 949.9,237.9 950.2,237.6 950.5,237.3 950.8,237.9 951.0,237.9"/>
<path stroke="#d2080e" stroke-width="2.3" d="M64.0,320.1 64.3,323.1 64.6,326.2 64.9,328.0 65.2,332.6 65.4,333.6 65.5,333.4 65.8,335.7 66.1,336.9 66.4,337.8 66.7,339.8 67.0,340.2 67.2,340.8 67.3,340.9 67.6,342.4 67.9,342.9 68.2,343.9 68.5,343.9 68.8,344.9 69.1,345.1 69.1,345.9 69.4,346.2 69.7,346.9 70.0,347.6 70.3,347.6 70.6,349.1 70.9,350.4 71.2,349.1 71.5,349.7 71.8,350.3 72.1,352.0 72.4,352.1 72.7,353.0 73.0,353.2 73.2,353.1 73.3,353.2 73.6,353.3 73.9,354.0 74.2,353.3 74.5,353.8 74.8,354.4 75.1,355.3 75.4,354.2 75.7,354.2 76.0,354.6 76.3,355.6 76.6,355.1 76.9,356.0 77.0,354.5 77.2,356.1 77.5,356.1 77.8,355.0 78.1,356.0 78.4,356.6 78.7,356.2 79.0,356.7 79.3,357.5 79.6,356.6 79.9,356.4 80.2,356.3 80.5,357.1 80.8,356.7 81.1,356.8 81.4,356.9 81.7,357.4 82.0,356.6 82.0,356.3 82.3,355.9 82.6,357.8 82.9,357.3 83.2,358.1 83.5,357.4 83.8,357.0 84.1,357.7 84.4,357.5 84.7,356.9 85.0,357.1 85.3,358.5 85.6,357.8 85.9,357.9 86.2,357.5 86.5,357.3 86.8,358.1 87.0,357.6 87.1,357.3 87.4,357.6 87.7,357.2 88.0,357.8 88.3,358.3 88.6,357.3 88.9,358.4 89.2,357.4 89.5,357.8 89.8,357.3 90.1,357.6 90.4,357.7 90.7,357.5 91.0,357.4 91.3,357.4 91.6,357.3 91.9,356.9 92.0,357.6 92.2,357.9 92.5,358.1 92.8,358.0 93.1,358.8 93.4,357.7 93.7,357.3 94.0,358.3 94.3,356.8 94.6,357.7 94.9,356.7 95.2,357.2 95.5,356.0 95.8,357.3 96.1,356.7 96.4,356.2 96.7,357.4 97.0,356.9 97.0,356.5 97.3,356.0 97.6,356.3 97.9,356.1 98.2,356.4 98.5,356.4 98.8,355.5 99.1,355.4 99.4,355.3 99.7,354.8 100.0,355.0 100.3,355.2 100.6,355.4 100.9,355.6 101.2,354.5 101.5,355.0 101.8,354.4 102.0,355.6 102.1,354.5 102.4,354.7 102.7,353.9 103.0,353.9 103.3,354.4 103.6,354.0 103.9,354.3 104.2,353.3 104.5,354.3 104.8,353.5 105.1,354.7 105.4,353.6 105.7,354.2 106.0,352.9 106.3,353.8 106.6,353.1 106.9,353.2 107.0,353.4 107.2,353.2 107.5,353.4 107.8,353.6 108.1,353.5 108.4,353.0 108.7,352.3 109.0,352.5 109.3,352.8 109.6,351.7 109.9,353.1 110.2,352.5 110.5,352.4 110.8,352.9 111.1,352.7 111.4,352.4 111.7,351.7 112.0,352.3 112.0,352.3 112.3,351.6 112.6,352.4 112.9,352.0 113.2,350.7 113.5,351.6 113.8,350.8 114.1,351.8 114.4,351.5 114.7,350.4 115.0,350.4 115.3,350.7 115.6,350.4 115.9,351.1 116.2,350.5 116.5,349.9 116.8,350.1 117.0,348.7 117.1,349.8 117.4,349.9 117.7,349.2 118.0,348.7 118.3,349.1 118.6,349.6 118.9,348.5 119.2,347.6 119.5,348.6 119.8,346.7 120.1,347.7 120.4,346.9 120.7,347.4 121.0,346.3 121.3,347.1 121.6,346.4 121.9,345.1 122.0,344.9 122.2,345.6 122.5,346.2 122.8,345.4 123.1,345.1 123.4,344.8 123.7,345.1 124.0,344.7 124.3,344.4 124.6,343.6 124.9,344.5 125.2,344.3 125.5,342.8 125.8,344.4 126.1,343.3 126.4,342.5 126.7,341.5 127.0,342.5 127.0,342.5 127.3,341.6 127.6,340.8 127.9,341.9 128.2,340.8 128.5,340.5 128.8,341.9 129.1,341.2 129.4,340.3 129.7,339.2 130.0,339.4 130.3,337.6 130.6,338.3 130.9,337.5 131.2,336.8 131.5,336.1 131.8,336.6 132.0,336.0 132.1,335.9 132.4,335.6 132.7,333.9 133.0,332.9 133.3,331.6 133.6,331.2 133.9,330.6 134.0,329.7 134.2,329.2 134.5,326.7 134.8,325.3 135.1,323.2 135.4,320.9 135.7,320.3 136.0,317.7 136.0,316.9 136.3,314.8 136.6,312.8 136.9,309.7 137.2,308.2 137.5,305.1 137.8,303.5 138.0,301.9 138.1,301.6 138.4,299.2 138.7,297.2 139.0,295.6 139.3,294.1 139.6,292.9 139.9,292.2 140.2,292.6 140.2,292.2 140.5,291.9 140.8,293.1 141.1,293.5 141.4,295.7 141.7,296.5 142.0,296.7 142.0,297.8 142.3,298.9 142.6,298.4 142.9,300.6 143.2,302.0 143.5,302.7 143.8,304.4 144.1,305.9 144.4,307.9 144.6,308.7 144.7,310.3 145.0,310.3 145.3,312.5 145.6,313.5 145.9,315.1 146.2,315.9 146.5,316.9 146.8,318.7 147.0,320.2 147.1,320.9 147.4,321.5 147.7,322.4 148.0,322.7 148.3,324.7 148.6,325.5 148.9,325.4 149.2,326.4 149.5,326.6 149.8,328.5 150.1,328.5 150.2,328.5 150.4,329.0 150.7,329.5 151.0,329.6 151.3,329.6 151.6,330.0 151.9,330.2 152.2,331.6 152.5,332.8 152.8,331.3 153.1,332.5 153.4,333.0 153.7,332.6 154.0,333.5 154.3,333.2 154.6,334.6 154.9,334.1 155.0,334.5 155.2,335.1 155.5,334.9 155.8,334.5 156.1,335.5 156.4,336.5 156.7,336.4 157.0,336.9 157.3,336.6 157.6,337.5 157.9,338.1 158.2,338.1 158.5,339.3 158.8,338.6 159.1,338.5 159.4,338.5 159.7,340.1 160.0,339.8 160.0,340.3 160.3,340.3 160.6,341.1 160.9,341.2 161.2,340.6 161.5,341.2 161.8,341.8 162.1,340.9 162.4,342.4 162.7,342.5 163.0,342.6 163.3,342.3 163.6,342.7 163.9,342.2 164.2,343.0 164.5,342.9 164.8,343.5 165.0,343.4 165.1,343.8 165.4,344.5 165.7,343.5 166.0,344.9 166.3,343.7 166.6,343.9 166.9,345.1 167.2,345.4 167.5,345.9 167.8,345.1 168.1,346.1 168.4,346.5 168.7,347.3 169.0,346.8 169.3,347.3 169.6,346.8 169.9,347.4 170.0,347.3 170.2,348.0 170.5,347.3 170.8,347.5 171.1,348.4 171.4,349.1 171.7,348.5 172.0,348.6 172.3,348.5 172.6,349.3 172.9,349.1 173.2,349.8 173.5,349.3 173.8,348.8 174.1,349.1 174.4,349.0 174.7,349.0 175.0,350.3 175.0,350.1 175.3,349.2 175.6,350.8 175.9,350.2 176.2,349.7 176.5,350.4 176.8,350.3 177.1,350.1 177.4,349.6 177.7,350.7 178.0,350.9 178.3,349.6 178.6,351.2 178.9,351.3 179.2,350.9 179.5,351.3 179.8,351.2 180.0,351.0 180.1,351.3 180.4,352.2 180.7,350.9 181.0,351.8 181.3,351.9 181.6,351.6 181.9,351.8 182.2,351.4 182.5,351.8 182.8,352.3 183.1,352.5 183.4,352.0 183.7,354.1 184.0,352.4 184.3,352.8 184.6,352.8 184.9,352.8 185.0,353.6 185.2,352.8 185.5,353.8 185.8,353.8 186.1,352.9 186.4,354.0 186.7,353.3 187.0,355.0 187.3,353.6 187.6,353.5 187.9,353.1 188.2,353.5 188.5,354.0 188.8,353.9 189.1,353.8 189.4,354.2 189.7,354.5 190.0,355.4 190.0,353.9 190.3,354.5 190.6,354.4 190.9,354.2 191.2,354.4 191.5,354.6 191.8,355.5 192.1,355.1 192.4,355.0 192.7,355.6 193.0,355.5 193.3,355.3 193.6,355.7 193.9,355.2 194.2,355.9 194.5,355.9 194.8,355.6 195.0,355.2 195.1,356.6 195.4,355.9 195.7,357.4 196.0,355.7 196.3,356.5 196.6,355.9 196.9,356.3 197.2,356.7 197.5,355.9 197.8,356.3 198.1,356.5 198.4,356.6 198.7,356.9 199.0,357.1 199.3,357.1 199.6,356.9 199.9,356.7 200.0,356.4 200.2,356.6 200.5,356.8 200.8,357.5 201.1,357.1 201.4,356.8 201.7,357.8 202.0,357.2 202.3,357.4 202.6,357.8 202.9,358.2 203.2,356.9 203.5,357.7 203.8,358.4 204.1,358.2 204.4,358.1 204.7,358.3 205.0,359.3 205.0,358.4 205.3,359.0 205.6,359.1 205.9,358.5 206.2,359.0 206.5,358.6 206.8,358.5 207.1,358.3 207.4,359.3 207.7,358.7 208.0,358.6 208.3,358.4 208.6,359.8 208.9,359.3 209.2,358.9 209.5,358.7 209.8,358.3 210.0,359.2 210.1,359.3 210.4,358.5 210.7,359.8 211.0,359.7 211.3,358.9 211.6,359.1 211.9,359.3 212.2,359.6 212.5,359.6 212.8,358.9 213.1,360.5 213.4,360.0 213.7,360.5 214.0,360.6 214.3,360.0 214.6,360.3 214.9,360.5 215.0,360.6 215.2,360.2 215.5,360.0 215.8,360.3 216.1,360.0 216.4,360.1 216.7,359.4 217.0,360.5 217.3,360.0 217.6,360.2 217.9,360.5 218.2,360.7 218.5,361.5 218.8,360.7 219.1,360.0 219.4,360.8 219.7,360.5 220.0,361.0 220.0,360.5 220.3,360.5 220.6,360.7 220.9,360.7 221.2,360.2 221.5,360.9 221.8,361.3 222.1,362.0 222.4,361.4 222.7,361.5 223.0,362.1 223.3,362.2 223.6,362.8 223.9,362.4 224.2,362.2 224.5,362.9 224.8,363.1 225.0,362.2 225.1,362.5 225.4,361.7 225.7,362.3 226.0,362.1 226.3,362.5 226.6,362.4 226.9,362.6 227.2,362.7 227.5,363.0 227.8,363.0 228.1,362.6 228.4,362.3 228.7,363.5 229.0,363.6 229.3,362.8 229.6,363.3 229.9,362.3 230.0,362.2 230.2,362.9 230.5,363.7 230.8,362.5 231.1,362.6 231.4,363.8 231.7,362.1 232.0,363.3 232.3,363.2 232.6,362.9 232.9,363.1 233.2,364.3 233.5,362.5 233.8,362.8 234.1,362.9 234.4,362.7 234.7,362.4 235.0,363.8 235.0,363.1 235.3,362.2 235.6,362.6 235.9,363.2 236.2,363.1 236.5,362.2 236.8,362.8 237.1,363.0 237.4,363.0 237.7,363.0 238.0,361.8 238.3,363.6 238.6,362.7 238.9,363.4 239.2,363.9 239.5,362.4 239.8,361.8 240.0,362.8 240.1,362.3 240.4,362.1 240.7,361.8 241.0,363.0 241.3,362.0 241.6,361.4 241.9,361.8 242.2,361.4 242.5,362.0 242.8,361.6 243.1,361.3 243.4,362.0 243.7,361.3 244.0,361.9 244.3,362.1 244.6,361.2 244.9,361.0 245.0,361.4 245.2,361.7 245.5,361.2 245.8,361.2 246.1,361.0 246.4,361.1 246.7,361.2 247.0,360.5 247.3,360.5 247.6,360.7 247.9,360.2 248.2,360.5 248.5,360.6 248.8,360.3 249.1,359.9 249.4,359.8 249.7,360.9 250.0,360.4 250.0,359.5 250.3,359.5 250.6,360.8 250.9,360.5 251.2,359.8 251.5,360.2 251.8,358.9 252.1,359.5 252.4,359.8 252.7,358.5 253.0,358.9 253.3,359.6 253.6,359.7 253.9,358.8 254.2,359.2 254.5,359.7 254.8,358.7 255.0,358.2 255.1,358.7 255.4,358.5 255.7,359.2 256.0,358.6 256.3,358.0 256.6,359.5 256.9,358.0 257.2,358.4 257.5,358.4 257.8,358.3 258.1,357.9 258.4,358.0 258.7,357.6 259.0,356.8 259.3,357.3 259.6,357.2 259.9,357.1 260.0,357.2 260.2,356.7 260.5,357.5 260.8,357.5 261.1,355.6 261.4,356.5 261.7,356.0 262.0,354.9 262.3,356.2 262.6,355.6 262.9,355.5 263.2,355.2 263.5,355.9 263.8,355.8 264.1,355.2 264.4,355.2 264.7,354.7 265.0,354.7 265.0,354.2 265.3,354.5 265.6,354.0 265.9,354.3 266.2,354.4 266.5,354.0 266.8,354.3 267.1,354.9 267.4,352.5 267.7,353.3 268.0,352.9 268.3,352.8 268.6,352.2 268.9,352.8 269.2,352.5 269.5,352.1 269.8,352.1 270.0,351.8 270.1,350.9 270.4,352.3 270.7,351.5 271.0,350.9 271.3,351.3 271.6,350.6 271.9,349.6 272.2,350.8 272.5,349.3 272.8,349.7 273.1,349.6 273.4,349.9 273.7,349.5 274.0,348.8 274.3,348.1 274.6,348.0 274.9,348.4 275.0,348.7 275.2,347.9 275.5,347.1 275.8,347.6 276.1,346.7 276.4,346.4 276.7,346.2 277.0,346.4 277.3,346.0 277.6,346.1 277.9,346.0 278.2,345.3 278.5,343.7 278.8,343.8 279.1,344.4 279.4,344.0 279.7,344.7 280.0,343.4 280.0,343.3 280.3,343.5 280.6,343.3 280.9,342.3 281.2,342.4 281.5,341.3 281.8,341.0 282.1,341.7 282.4,340.1 282.7,340.8 283.0,340.4 283.3,340.0 283.6,339.7 283.9,339.1 284.2,337.4 284.5,337.5 284.8,337.2 285.0,337.6 285.1,336.5 285.4,336.2 285.7,335.8 286.0,336.0 286.3,334.1 286.6,333.5 286.9,333.8 287.2,331.8 287.5,332.3 287.8,331.2 288.0,330.3 288.1,330.6 288.4,329.6 288.7,329.5 289.0,328.9 289.3,328.7 289.6,327.2 289.9,326.5 290.2,325.4 290.5,324.9 290.8,324.6 291.0,322.6 291.1,323.5 291.4,322.1 291.7,321.5 292.0,320.7 292.3,320.0 292.6,318.7 292.9,317.4 293.2,316.7 293.5,315.5 293.8,314.3 294.0,313.7 294.1,313.6 294.4,312.1 294.7,310.8 295.0,308.9 295.3,308.1 295.6,305.9 295.9,305.7 296.0,304.5 296.2,304.5 296.5,303.8 296.8,300.5 297.1,299.6 297.4,297.6 297.7,295.8 298.0,294.5 298.0,295.2 298.3,294.6 298.6,293.2 298.9,291.5 299.2,291.0 299.5,290.7 299.8,290.9 300.0,290.1 300.1,290.0 300.4,290.0 300.7,289.0 301.0,288.7 301.3,288.3 301.6,287.4 301.9,288.3 302.0,288.3 302.2,288.6 302.5,287.8 302.8,288.4 303.1,289.7 303.4,290.0 303.7,291.2 304.0,290.8 304.0,291.3 304.3,291.7 304.6,293.1 304.9,293.9 305.2,295.6 305.5,297.1 305.8,298.2 306.0,297.8 306.1,299.6 306.4,300.6 306.7,301.2 307.0,302.6 307.3,304.3 307.6,305.9 307.9,306.8 308.0,306.6 308.2,308.4 308.5,309.7 308.8,312.1 309.1,311.6 309.4,314.7 309.7,315.6 310.0,316.1 310.0,316.8 310.3,317.2 310.6,318.8 310.9,319.2 311.2,320.7 311.5,321.3 311.8,322.1 312.1,323.8 312.4,324.8 312.7,326.5 313.0,327.9 313.0,327.2 313.3,328.5 313.6,329.7 313.9,330.0 314.2,332.1 314.5,333.1 314.8,334.2 315.1,334.8 315.4,335.5 315.7,337.4 316.0,338.6 316.0,339.1 316.3,340.0 316.6,341.1 316.9,341.5 317.2,342.8 317.5,343.1 317.8,344.3 318.1,345.3 318.4,347.0 318.7,346.6 319.0,346.7 319.3,348.7 319.6,348.4 319.9,349.4 320.0,349.6 320.2,349.7 320.5,351.4 320.8,351.7 321.1,351.7 321.4,352.7 321.7,353.0 322.0,354.1 322.3,354.1 322.6,354.5 322.9,355.1 323.2,355.6 323.5,356.5 323.8,356.4 324.0,357.1 324.1,357.5 324.4,358.8 324.7,358.5 325.0,357.1 325.3,358.7 325.6,359.2 325.9,359.9 326.2,360.9 326.5,360.8 326.8,359.8 327.1,361.3 327.4,361.6 327.7,362.0 328.0,362.7 328.0,361.6 328.3,362.9 328.6,361.9 328.9,362.9 329.2,363.3 329.5,364.4 329.8,363.2 330.1,363.0 330.4,364.3 330.7,363.9 331.0,365.1 331.3,364.3 331.6,364.4 331.9,365.6 332.2,365.3 332.5,365.9 332.8,365.0 333.0,366.6 333.1,365.6 333.4,366.5 333.7,365.9 334.0,365.8 334.3,366.7 334.6,367.1 334.9,368.0 335.2,367.7 335.5,368.1 335.8,368.3 336.1,369.7 336.4,368.1 336.7,369.3 337.0,368.9 337.0,369.1 337.3,369.0 337.6,370.1 337.9,369.3 338.2,369.6 338.5,370.4 338.8,370.3 339.1,371.5 339.4,371.9 339.7,371.4 340.0,372.4 340.0,371.7 340.3,372.2 340.6,372.5 340.9,373.6 341.2,372.9 341.5,372.7 341.8,372.9 342.1,374.1 342.4,372.9 342.7,373.7 343.0,373.9 343.3,373.1 343.6,374.2 343.9,375.1 344.2,374.9 344.5,374.5 344.8,375.4 345.0,375.4 345.1,376.2 345.4,375.1 345.7,375.4 346.0,375.8 346.3,375.8 346.6,376.1 346.9,376.2 347.2,376.0 347.5,375.8 347.8,376.4 348.1,376.2 348.4,376.5 348.7,376.8 349.0,377.4 349.3,377.7 349.6,377.0 349.9,377.7 350.0,378.0 350.2,377.6 350.5,377.0 350.8,376.8 351.1,378.3 351.4,378.5 351.7,378.2 352.0,377.7 352.3,379.0 352.6,378.9 352.9,378.4 353.2,378.4 353.5,377.7 353.8,379.0 354.1,378.0 354.4,379.1 354.7,379.2 355.0,379.0 355.0,379.7 355.3,378.9 355.6,379.4 355.9,379.6 356.2,379.5 356.5,379.3 356.8,380.1 357.1,379.8 357.4,379.6 357.7,379.8 358.0,380.0 358.3,381.1 358.6,380.2 358.9,380.1 359.2,379.8 359.5,379.8 359.8,379.6 360.0,380.6 360.1,380.5 360.4,380.1 360.7,380.0 361.0,380.6 361.3,380.5 361.6,380.2 361.9,381.0 362.2,381.0 362.5,381.0 362.8,381.4 363.1,380.8 363.4,381.8 363.7,380.8 364.0,381.5 364.3,381.6 364.6,381.3 364.9,381.6 365.0,380.9 365.2,380.8 365.5,381.5 365.8,381.3 366.1,382.0 366.4,381.8 366.7,382.1 367.0,382.0 367.3,382.0 367.6,382.0 367.9,381.9 368.2,381.9 368.5,383.1 368.8,381.4 369.1,382.2 369.4,382.8 369.7,382.6 370.0,383.1 370.0,382.7 370.3,382.0 370.6,382.4 370.9,382.0 371.2,383.2 371.5,383.4 371.8,382.6 372.1,383.1 372.4,382.8 372.7,382.3 373.0,382.8 373.3,382.4 373.6,382.9 373.9,383.3 374.2,383.6 374.5,384.0 374.8,383.3 375.0,383.6 375.1,383.7 375.4,383.8 375.7,382.3 376.0,383.4 376.3,384.2 376.6,383.4 376.9,384.1 377.2,384.5 377.5,383.3 377.8,384.2 378.1,384.5 378.4,384.5 378.7,383.9 379.0,384.8 379.3,384.5 379.6,385.2 379.9,385.1 380.0,384.6 380.2,385.0 380.5,384.6 380.8,384.6 381.1,384.3 381.4,384.9 381.7,385.4 382.0,385.1 382.3,385.1 382.6,384.8 382.9,384.9 383.2,385.5 383.5,384.5 383.8,386.2 384.1,385.2 384.4,386.3 384.7,385.9 385.0,385.2 385.0,385.7 385.3,385.5 385.6,385.7 385.9,385.9 386.2,385.3 386.5,385.3 386.8,385.5 387.1,385.1 387.4,385.7 387.7,386.0 388.0,386.1 388.3,386.1 388.6,385.9 388.9,386.5 389.2,385.3 389.5,386.1 389.8,386.2 390.0,386.8 390.1,386.7 390.4,386.8 390.7,386.4 391.0,386.9 391.3,386.0 391.6,386.6 391.9,385.6 392.2,387.4 392.5,387.3 392.8,386.4 393.1,386.3 393.4,385.7 393.7,386.0 394.0,386.8 394.3,386.7 394.6,386.1 394.9,386.6 395.0,386.5 395.2,387.1 395.5,387.2 395.8,386.8 396.1,387.0 396.4,387.0 396.7,386.0 397.0,387.1 397.3,387.0 397.6,387.4 397.9,386.3 398.2,387.5 398.5,386.9 398.8,387.3 399.1,387.8 399.4,386.6 399.7,386.7 400.0,387.8 400.0,386.8 400.3,386.9 400.6,387.7 400.9,387.3 401.2,387.8 401.5,387.6 401.8,387.5 402.1,388.0 402.4,388.6 402.7,387.5 403.0,388.3 403.3,388.2 403.6,387.7 403.9,387.9 404.2,387.3 404.5,387.5 404.8,387.9 405.0,387.8 405.1,388.5 405.4,387.3 405.7,387.8 406.0,387.7 406.3,388.0 406.6,388.6 406.9,387.6 407.2,388.6 407.5,388.0 407.8,388.2 408.1,388.9 408.4,388.3 408.7,388.8 409.0,388.6 409.3,388.6 409.6,388.5 409.9,387.9 410.0,388.4 410.2,388.8 410.5,388.9 410.8,388.1 411.1,389.3 411.4,389.2 411.7,388.3 412.0,388.5 412.3,389.2 412.6,388.2 412.9,388.7 413.2,389.0 413.5,389.0 413.8,389.1 414.1,389.3 414.4,388.8 414.7,389.0 415.0,390.2 415.0,388.6 415.3,389.1 415.6,389.4 415.9,389.1 416.2,390.0 416.5,389.6 416.8,389.9 417.1,388.5 417.4,390.3 417.7,390.3 418.0,389.5 418.3,390.5 418.6,390.1 418.9,390.5 419.2,391.0 419.5,390.2 419.8,389.8 420.0,390.2 420.1,389.7 420.4,389.9 420.7,390.0 421.0,390.0 421.3,390.9 421.6,390.8 421.9,390.0 422.2,391.0 422.5,389.7 422.8,390.2 423.1,390.5 423.4,391.1 423.7,391.0 424.0,390.9 424.3,391.3 424.6,391.0 424.9,391.4 425.0,390.4 425.2,390.0 425.5,390.6 425.8,391.3 426.1,391.1 426.4,391.4 426.7,391.4 427.0,391.4 427.3,391.6 427.6,390.9 427.9,391.8 428.2,390.9 428.5,391.4 428.8,390.9 429.1,391.8 429.4,390.9 429.7,392.4 430.0,391.2 430.0,391.9 430.3,391.8 430.6,391.5 430.9,392.5 431.2,391.8 431.5,392.7 431.8,391.6 432.1,391.7 432.4,391.2 432.7,392.4 433.0,392.6 433.3,392.4 433.6,392.2 433.9,391.9 434.2,393.5 434.5,392.8 434.8,391.6 435.0,392.3 435.1,391.3 435.4,393.2 435.7,393.5 436.0,393.3 436.3,392.6 436.6,392.4 436.9,392.0 437.2,392.9 437.5,392.4 437.8,392.6 438.1,392.5 438.4,392.7 438.7,393.3 439.0,393.7 439.3,393.0 439.6,392.9 439.9,392.5 440.0,392.4 440.2,392.5 440.5,393.4 440.8,393.2 441.1,393.5 441.4,393.3 441.7,393.0 442.0,392.6 442.3,393.0 442.6,392.6 442.9,394.2 443.2,393.4 443.5,393.2 443.8,394.3 444.1,393.2 444.4,393.7 444.7,393.4 445.0,393.6 445.0,393.3 445.3,393.7 445.6,394.2 445.9,393.0 446.2,392.6 446.5,394.3 446.8,393.7 447.1,394.1 447.4,393.6 447.7,394.5 448.0,394.6 448.3,393.3 448.6,394.2 448.9,393.6 449.2,393.2 449.5,393.8 449.8,394.2 450.0,393.3 450.1,393.4 450.4,394.6 450.7,394.1 451.0,394.3 451.3,393.6 451.6,393.8 451.9,394.2 452.2,394.3 452.5,394.3 452.8,395.0 453.1,394.4 453.4,393.6 453.7,393.9 454.0,394.3 454.3,394.9 454.6,394.0 454.9,394.2 455.0,394.3 455.2,394.0 455.5,394.0 455.8,394.2 456.1,394.8 456.4,394.6 456.7,394.2 457.0,394.5 457.3,393.8 457.6,394.8 457.9,394.7 458.2,394.5 458.5,393.6 458.8,395.3 459.1,393.0 459.4,393.9 459.7,393.9 460.0,394.7 460.0,393.7 460.3,394.5 460.6,394.3 460.9,394.2 461.2,394.8 461.5,395.1 461.8,394.6 462.1,394.4 462.4,393.5 462.7,395.2 463.0,394.5 463.3,393.8 463.6,394.7 463.9,395.4 464.2,394.7 464.5,394.3 464.8,395.9 465.0,395.1 465.1,395.0 465.4,395.4 465.7,393.9 466.0,394.9 466.3,394.9 466.6,396.1 466.9,394.8 467.2,394.9 467.5,394.5 467.8,394.8 468.1,395.1 468.4,395.4 468.7,395.2 469.0,396.2 469.3,395.6 469.6,395.6 469.9,396.0 470.0,395.6 470.2,395.1 470.5,394.6 470.8,395.4 471.1,394.7 471.4,395.6 471.7,394.5 472.0,393.6 472.3,394.5 472.6,394.7 472.9,393.9 473.0,394.0 473.2,393.9 473.5,394.2 473.8,393.2 474.1,392.6 474.4,391.8 474.7,390.8 475.0,391.6 475.0,391.5 475.3,389.9 475.6,390.0 475.9,389.1 476.2,388.0 476.5,387.2 476.8,386.9 477.0,385.5 477.1,385.5 477.4,384.9 477.7,384.0 478.0,382.9 478.3,382.2 478.6,381.5 478.9,380.1 479.0,380.3 479.2,379.6 479.5,379.8 479.8,377.8 480.1,377.7 480.4,377.6 480.7,376.8 481.0,376.7 481.0,376.6 481.3,377.1 481.6,376.6 481.9,377.4 482.2,377.7 482.5,377.5 482.8,378.7 483.0,378.5 483.1,379.0 483.4,379.6 483.7,379.8 484.0,379.6 484.3,380.7 484.6,380.1 484.9,380.8 485.0,382.0 485.2,381.4 485.5,382.3 485.8,381.7 486.1,382.0 486.4,381.6 486.7,382.7 487.0,382.4 487.3,382.9 487.6,382.9 487.9,383.1 488.2,383.1 488.5,383.1 488.8,383.2 489.1,383.0 489.4,382.5 489.7,383.8 490.0,384.6 490.0,384.2 490.3,384.9 490.6,384.2 490.9,383.6 491.2,383.7 491.5,384.6 491.8,384.6 492.1,384.4 492.4,385.0 492.7,384.3 493.0,385.1 493.3,384.8 493.6,385.1 493.9,385.7 494.2,385.2 494.5,386.0 494.8,386.1 495.0,385.3 495.1,386.7 495.4,385.2 495.7,385.8 496.0,386.3 496.3,385.1 496.6,386.7 496.9,386.9 497.2,386.4 497.5,386.7 497.8,386.8 498.1,386.7 498.4,387.5 498.7,386.9 499.0,387.2 499.3,387.5 499.6,387.8 499.9,388.1 500.0,386.9 500.2,386.8 500.5,387.7 500.8,387.9 501.1,387.5 501.4,388.3 501.7,388.6 502.0,388.6 502.3,389.3 502.6,388.1 502.9,388.7 503.2,389.7 503.5,389.3 503.8,388.6 504.1,389.3 504.4,389.9 504.7,390.4 505.0,389.9 505.0,390.1 505.3,389.2 505.6,389.8 505.9,390.6 506.2,389.7 506.5,390.3 506.8,389.6 507.1,391.3 507.4,390.7 507.7,391.1 508.0,390.3 508.3,390.6 508.6,392.1 508.9,391.3 509.2,391.4 509.5,392.0 509.8,392.2 510.0,391.1 510.1,391.6 510.4,392.2 510.7,392.3 511.0,392.6 511.3,392.4 511.6,392.6 511.9,393.0 512.2,392.7 512.5,392.8 512.8,393.1 513.1,393.5 513.4,393.6 513.7,393.6 514.0,393.8 514.3,394.0 514.6,394.3 514.9,394.5 515.0,393.8 515.2,394.9 515.5,393.9 515.8,395.0 516.1,394.6 516.4,395.4 516.7,395.7 517.0,394.5 517.3,395.8 517.6,395.8 517.9,395.6 518.2,396.2 518.5,395.9 518.8,396.4 519.1,396.0 519.4,397.0 519.7,397.0 520.0,397.2 520.0,396.6 520.3,397.9 520.6,398.1 520.9,397.3 521.2,397.3 521.5,397.5 521.8,398.1 522.1,398.4 522.4,397.8 522.7,397.4 523.0,398.6 523.3,398.5 523.6,398.8 523.9,399.1 524.2,398.5 524.5,399.1 524.8,399.1 525.0,399.5 525.1,399.9 525.4,399.4 525.7,399.2 526.0,400.2 526.3,400.1 526.6,399.8 526.9,399.2 527.2,399.7 527.5,400.2 527.8,400.5 528.1,400.1 528.4,400.6 528.7,400.2 529.0,400.4 529.3,400.9 529.6,400.6 529.9,400.8 530.0,401.2 530.2,401.3 530.5,400.6 530.8,400.8 531.1,400.3 531.4,400.4 531.7,401.1 532.0,400.8 532.3,400.2 532.6,401.3 532.9,400.7 533.2,401.0 533.5,401.3 533.8,401.3 534.1,401.2 534.4,400.3 534.7,401.5 535.0,401.0 535.3,400.6 535.6,400.3 535.9,401.9 536.2,401.4 536.5,401.4 536.8,401.7 537.1,401.4 537.4,400.8 537.7,401.8 538.0,401.9 538.3,401.7 538.6,402.2 538.9,402.4 539.2,401.2 539.5,401.4 539.8,402.1 540.0,401.8 540.1,401.8 540.4,402.1 540.7,402.1 541.0,401.6 541.3,401.9 541.6,401.6 541.9,401.9 542.2,401.5 542.5,401.2 542.8,401.9 543.1,402.0 543.4,402.7 543.7,403.1 544.0,402.4 544.3,402.7 544.6,402.3 544.9,402.2 545.2,402.6 545.5,402.7 545.8,403.0 546.1,403.0 546.4,403.7 546.7,403.0 547.0,402.4 547.3,403.3 547.6,403.0 547.9,403.4 548.2,403.9 548.5,403.2 548.8,403.5 549.1,403.8 549.4,403.2 549.7,403.7 550.0,403.9 550.0,404.0 550.3,404.2 550.6,404.0 550.9,404.0 551.2,403.2 551.5,402.7 551.8,403.5 552.1,404.6 552.4,404.0 552.7,403.0 553.0,403.9 553.3,404.3 553.6,403.3 553.9,404.4 554.2,403.7 554.5,404.7 554.8,404.3 555.1,405.7 555.4,403.7 555.7,404.5 556.0,403.7 556.3,404.9 556.6,404.5 556.9,404.9 557.2,404.5 557.5,404.0 557.8,404.2 558.1,404.0 558.4,404.1 558.7,404.7 559.0,405.1 559.3,405.0 559.6,404.9 559.9,404.4 560.0,404.9 560.2,404.3 560.5,404.8 560.8,405.1 561.1,404.7 561.4,404.6 561.7,404.6 562.0,405.1 562.3,404.7 562.6,404.2 562.9,404.7 563.2,404.4 563.5,405.6 563.8,405.0 564.1,404.3 564.4,405.1 564.7,405.3 565.0,405.2 565.3,404.9 565.6,405.1 565.9,405.2 566.2,405.5 566.5,405.3 566.8,406.1 567.1,405.0 567.4,405.8 567.7,405.2 568.0,404.4 568.3,404.7 568.6,404.4 568.9,404.4 569.2,405.7 569.5,404.9 569.8,405.5 570.0,404.8 570.1,405.2 570.4,404.7 570.7,405.6 571.0,405.1 571.3,405.0 571.6,405.1 571.9,406.2 572.2,405.4 572.5,405.6 572.8,404.7 573.1,404.9 573.4,405.3 573.7,404.4 574.0,405.8 574.3,405.3 574.6,405.2 574.9,405.1 575.2,405.1 575.5,405.0 575.8,405.8 576.1,405.5 576.4,405.7 576.7,405.1 577.0,404.8 577.3,405.8 577.6,404.7 577.9,404.9 578.2,405.5 578.5,405.7 578.8,404.6 579.1,405.1 579.4,405.2 579.7,405.1 580.0,404.8 580.0,405.5 580.3,405.0 580.6,405.1 580.9,404.2 581.2,405.2 581.5,404.4 581.8,405.5 582.1,405.5 582.4,405.0 582.7,405.3 583.0,405.3 583.3,405.2 583.6,405.5 583.9,405.3 584.2,405.1 584.5,405.0 584.8,406.1 585.1,405.5 585.4,405.4 585.7,405.8 586.0,405.3 586.3,405.3 586.6,405.8 586.9,406.0 587.2,405.8 587.5,404.9 587.8,405.6 588.1,405.5 588.4,405.8 588.7,405.2 589.0,405.1 589.3,405.5 589.6,405.2 589.9,405.1 590.0,405.6 590.2,406.0 590.5,405.7 590.8,406.1 591.1,405.2 591.4,405.9 591.7,405.6 592.0,405.2 592.3,405.4 592.6,405.2 592.9,405.4 593.2,405.2 593.5,406.1 593.8,405.3 594.1,404.9 594.4,405.4 594.7,405.6 595.0,405.3 595.3,405.8 595.6,405.0 595.9,405.0 596.2,406.1 596.5,405.4 596.8,405.6 597.1,405.6 597.4,405.6 597.7,405.3 598.0,405.2 598.3,405.7 598.6,405.1 598.9,405.3 599.2,405.5 599.5,405.0 599.8,404.5 600.0,405.4 600.1,405.7 600.4,405.3 600.7,404.4 601.0,405.4 601.3,406.0 601.6,404.4 601.9,403.9 602.2,405.0 602.5,405.1 602.8,405.4 603.1,405.4 603.4,405.0 603.7,405.2 604.0,405.1 604.3,405.0 604.6,404.9 604.9,404.8 605.2,405.2 605.5,405.0 605.8,404.7 606.1,405.3 606.4,404.5 606.7,404.7 607.0,404.8 607.3,403.9 607.6,404.6 607.9,405.1 608.2,405.1 608.5,404.2 608.8,404.4 609.1,404.2 609.4,404.6 609.7,404.7 610.0,404.0 610.0,404.8 610.3,404.7 610.6,404.7 610.9,404.4 611.2,404.6 611.5,403.9 611.8,404.8 612.1,404.8 612.4,404.7 612.7,404.2 613.0,405.2 613.3,405.2 613.6,403.9 613.9,404.9 614.2,404.8 614.5,403.6 614.8,404.9 615.1,405.0 615.4,405.0 615.7,404.8 616.0,404.4 616.3,404.5 616.6,404.9 616.9,405.2 617.2,404.5 617.5,404.6 617.8,405.0 618.1,403.8 618.4,404.9 618.7,404.6 619.0,403.8 619.3,405.0 619.6,404.3 619.9,405.0 620.0,405.3 620.2,404.2 620.5,404.2 620.8,404.7 621.1,404.0 621.4,405.1 621.7,404.9 622.0,405.3 622.3,404.1 622.6,405.0 622.9,405.2 623.2,404.3 623.5,405.5 623.8,404.6 624.1,405.3 624.4,404.8 624.7,405.8 625.0,406.2 625.3,405.6 625.6,405.7 625.9,406.3 626.2,405.6 626.5,405.9 626.8,406.3 627.1,406.2 627.4,406.8 627.7,406.7 628.0,407.1 628.3,406.3 628.6,406.9 628.9,406.1 629.2,406.9 629.5,407.3 629.8,407.6 630.0,406.1 630.1,406.6 630.4,407.0 630.7,406.4 631.0,407.0 631.3,407.0 631.6,406.6 631.9,406.6 632.2,406.5 632.5,407.1 632.8,407.5 633.1,407.1 633.4,408.2 633.7,406.5 634.0,406.9 634.3,407.4 634.6,406.7 634.9,407.4 635.2,407.6 635.5,407.3 635.8,407.2 636.1,407.7 636.4,407.5 636.7,407.7 637.0,407.6 637.3,407.1 637.6,407.0 637.9,407.3 638.2,407.6 638.5,407.5 638.8,408.0 639.1,407.7 639.4,408.0 639.7,407.7 640.0,407.3 640.0,408.0 640.3,407.9 640.6,407.3 640.9,407.5 641.2,408.9 641.5,406.3 641.8,408.2 642.1,407.8 642.4,407.7 642.7,407.7 643.0,407.6 643.3,408.8 643.6,407.6 643.9,407.7 644.2,408.2 644.5,408.0 644.8,407.8 645.1,407.8 645.4,407.3 645.7,408.4 646.0,407.5 646.3,406.9 646.6,408.4 646.9,408.3 647.2,408.1 647.5,407.8 647.8,408.5 648.1,407.6 648.4,407.1 648.7,408.1 649.0,408.4 649.3,408.3 649.6,409.0 649.9,408.5 650.0,408.0 650.2,408.0 650.5,408.5 650.8,408.1 651.1,408.1 651.4,407.4 651.7,408.1 652.0,407.7 652.3,408.3 652.6,408.3 652.9,408.6 653.2,409.0 653.5,408.2 653.8,408.9 654.1,407.8 654.4,408.4 654.7,408.8 655.0,409.2 655.3,407.9 655.6,408.3 655.9,408.5 656.2,408.4 656.5,408.0 656.8,407.8 657.1,407.9 657.4,408.5 657.7,407.9 658.0,409.3 658.3,409.1 658.6,407.7 658.9,408.3 659.2,409.1 659.5,409.2 659.8,409.1 660.0,408.0 660.1,408.5 660.4,409.2 660.7,408.7 661.0,408.5 661.3,408.9 661.6,409.1 661.9,408.7 662.2,408.8 662.5,409.2 662.8,408.5 663.1,408.3 663.4,409.1 663.7,408.2 664.0,409.0 664.3,408.5 664.6,409.1 664.9,408.3 665.2,409.3 665.5,408.9 665.8,408.7 666.1,408.5 666.4,408.8 666.7,408.5 667.0,408.4 667.3,409.4 667.6,409.2 667.9,409.4 668.2,408.3 668.5,408.1 668.8,408.3 669.1,409.2 669.4,409.3 669.7,408.2 670.0,409.4 670.0,408.8 670.3,408.5 670.6,409.0 670.9,409.3 671.2,409.0 671.5,409.0 671.8,408.7 672.1,408.5 672.4,409.0 672.7,408.5 673.0,409.4 673.3,408.8 673.6,409.8 673.9,408.5 674.2,409.9 674.5,408.9 674.8,408.9 675.1,409.4 675.4,409.7 675.7,409.3 676.0,409.2 676.3,410.2 676.6,409.6 676.9,408.9 677.2,409.3 677.5,410.2 677.8,409.6 678.1,409.9 678.4,410.4 678.7,409.3 679.0,409.7 679.3,409.3 679.6,409.6 679.9,409.8 680.0,409.0 680.2,409.7 680.5,409.7 680.8,410.1 681.1,409.4 681.4,409.1 681.7,409.8 682.0,409.2 682.3,409.8 682.6,410.0 682.9,409.3 683.2,409.7 683.5,409.3 683.8,408.5 684.1,409.1 684.4,408.9 684.7,409.8 685.0,409.3 685.3,409.7 685.6,409.8 685.9,410.3 686.2,409.7 686.5,409.7 686.8,410.1 687.1,410.6 687.4,409.9 687.7,410.0 688.0,409.8 688.3,409.6 688.6,409.3 688.9,409.9 689.2,409.8 689.5,409.9 689.8,410.8 690.0,409.8 690.1,410.1 690.4,409.9 690.7,410.5 691.0,409.9 691.3,410.9 691.6,410.0 691.9,410.4 692.2,410.5 692.5,410.0 692.8,410.5 693.1,410.2 693.4,409.8 693.7,409.9 694.0,410.3 694.3,411.0 694.6,410.0 694.9,410.5 695.2,409.9 695.5,410.4 695.8,409.7 696.1,410.0 696.4,410.3 696.7,410.0 697.0,410.2 697.3,410.8 697.6,410.3 697.9,410.1 698.2,409.9 698.5,410.2 698.8,410.9 699.1,410.4 699.4,410.4 699.7,410.8 700.0,410.9 700.0,410.9 700.3,410.4 700.6,410.1 700.9,409.8 701.2,410.3 701.5,410.4 701.8,410.9 702.1,410.8 702.4,410.4 702.7,411.0 703.0,410.1 703.3,410.2 703.6,410.2 703.9,410.3 704.2,410.6 704.5,410.4 704.8,410.5 705.1,411.4 705.4,410.2 705.7,410.4 706.0,410.8 706.3,411.1 706.6,411.1 706.9,410.8 707.2,410.8 707.5,410.8 707.8,411.3 708.1,410.6 708.4,410.0 708.7,411.1 709.0,410.5 709.3,411.0 709.6,411.6 709.9,411.0 710.0,411.8 710.2,410.3 710.5,411.1 710.8,411.2 711.1,411.4 711.4,410.7 711.7,411.1 712.0,411.0 712.3,411.0 712.6,410.4 712.9,410.3 713.2,411.2 713.5,411.1 713.8,411.0 714.1,411.3 714.4,411.5 714.7,410.5 715.0,411.3 715.3,411.6 715.6,411.4 715.9,411.3 716.2,411.3 716.5,410.4 716.8,410.8 717.1,411.4 717.4,411.6 717.7,411.2 718.0,410.8 718.3,411.0 718.6,411.4 718.9,411.9 719.2,411.3 719.5,410.8 719.8,411.3 720.0,411.2 720.1,412.0 720.4,411.3 720.7,411.0 721.0,411.0 721.3,410.5 721.6,410.6 721.9,410.8 722.2,410.7 722.5,411.1 722.8,411.1 723.1,411.5 723.4,411.7 723.7,411.2 724.0,411.0 724.3,410.3 724.6,411.3 724.9,411.4 725.2,410.8 725.5,411.0 725.8,410.9 726.1,411.6 726.4,411.5 726.7,411.7 727.0,410.7 727.3,412.4 727.6,410.9 727.9,410.8 728.2,411.4 728.5,411.0 728.8,412.1 729.1,411.1 729.4,411.0 729.7,411.8 730.0,411.9 730.3,411.0 730.6,411.2 730.9,411.2 731.2,411.3 731.5,412.1 731.8,412.0 732.1,411.9 732.4,412.0 732.7,411.5 733.0,411.8 733.3,411.4 733.6,411.2 733.9,412.2 734.2,410.7 734.5,411.5 734.8,411.3 735.0,410.8 735.1,411.3 735.4,411.5 735.7,411.7 736.0,411.2 736.3,411.8 736.6,411.7 736.9,411.9 737.2,410.7 737.5,411.3 737.8,411.3 738.1,411.8 738.4,411.2 738.7,411.3 739.0,411.1 739.3,411.1 739.6,411.2 739.9,412.0 740.2,411.1 740.5,410.5 740.8,411.7 741.1,411.4 741.4,411.8 741.7,411.8 742.0,411.5 742.3,411.4 742.6,411.4 742.9,411.6 743.2,411.3 743.5,411.7 743.8,412.2 744.1,411.3 744.4,411.4 744.7,411.4 745.0,411.9 745.3,411.9 745.6,412.2 745.9,411.9 746.2,411.7 746.5,411.8 746.8,411.1 747.1,411.9 747.4,411.7 747.7,412.5 748.0,412.2 748.3,411.3 748.6,411.4 748.9,412.0 749.2,410.8 749.5,411.3 749.8,411.8 750.1,412.0 750.4,411.8 750.7,412.2 751.0,411.6 751.3,411.7 751.6,411.6 751.9,411.2 752.2,411.7 752.5,411.5 752.8,411.7 753.1,410.6 753.4,411.7 753.7,411.5 754.0,411.4 754.3,411.7 754.6,411.5 754.9,412.1 755.0,412.2 755.2,412.1 755.5,412.1 755.8,411.9 756.1,411.7 756.4,411.2 756.7,411.5 757.0,412.2 757.3,412.0 757.6,411.5 757.9,411.7 758.2,412.1 758.5,411.6 758.8,412.4 759.1,411.4 759.4,412.0 759.7,412.0 760.0,411.8 760.3,411.8 760.6,411.9 760.9,410.7 761.2,411.9 761.5,412.1 761.8,411.8 762.1,412.1 762.4,411.2 762.7,411.6 763.0,411.8 763.3,411.5 763.6,412.1 763.9,411.8 764.2,411.4 764.5,412.0 764.8,412.0 765.1,411.4 765.4,411.9 765.7,411.8 766.0,411.8 766.3,411.1 766.6,412.1 766.9,411.9 767.2,411.6 767.5,411.7 767.8,411.7 768.1,411.5 768.4,411.3 768.7,411.6 769.0,411.3 769.3,411.4 769.6,411.1 769.9,411.4 770.2,412.0 770.5,411.6 770.8,411.6 771.1,411.4 771.4,411.4 771.7,410.9 772.0,412.2 772.3,411.2 772.6,410.9 772.9,411.7 773.2,411.6 773.5,411.3 773.8,410.9 774.1,410.9 774.4,412.2 774.7,411.5 775.0,411.2 775.0,412.3 775.3,411.3 775.6,411.1 775.9,411.7 776.2,411.6 776.5,412.1 776.8,410.8 777.1,411.6 777.4,410.8 777.7,411.7 778.0,411.2 778.3,411.3 778.6,411.1 778.9,411.8 779.2,412.1 779.5,411.4 779.8,411.3 780.1,411.2 780.4,411.7 780.7,411.0 781.0,412.9 781.3,411.3 781.6,412.1 781.9,411.5 782.2,410.8 782.5,410.8 782.8,411.2 783.1,411.1 783.4,411.3 783.7,410.9 784.0,412.4 784.3,412.3 784.6,410.6 784.9,411.6 785.2,411.9 785.5,411.2 785.8,411.3 786.1,411.8 786.4,411.6 786.7,410.8 787.0,411.9 787.3,411.1 787.6,412.1 787.9,410.9 788.2,410.4 788.5,411.4 788.8,411.8 789.1,411.5 789.4,411.4 789.7,410.9 790.0,411.7 790.3,410.5 790.6,411.6 790.9,410.8 791.2,411.0 791.5,410.7 791.8,410.9 792.1,411.9 792.4,410.8 792.7,411.4 793.0,410.9 793.3,411.7 793.6,410.7 793.9,411.3 794.2,411.7 794.5,412.2 794.8,410.8 795.0,410.9 795.1,411.3 795.4,411.9 795.7,410.8 796.0,411.6 796.3,411.0 796.6,410.8 796.9,410.6 797.2,411.3 797.5,411.7 797.8,411.2 798.1,410.4 798.4,411.1 798.7,411.7 799.0,411.7 799.3,411.4 799.6,411.9 799.9,410.8 800.2,410.8 800.5,412.3 800.8,411.6 801.1,411.2 801.4,411.1 801.7,410.2 802.0,411.7 802.3,410.5 802.6,410.5 802.9,411.3 803.2,412.0 803.5,411.2 803.8,411.5 804.1,411.2 804.4,411.5 804.7,410.7 805.0,412.3 805.3,411.0 805.6,411.6 805.9,410.5 806.2,412.2 806.5,411.6 806.8,412.3 807.1,411.1 807.4,411.9 807.7,411.4 808.0,411.4 808.3,412.0 808.6,411.1 808.9,411.8 809.2,412.3 809.5,412.2 809.8,411.9 810.0,411.6 810.1,411.1 810.4,412.1 810.7,411.2 811.0,412.0 811.3,411.4 811.6,411.5 811.9,411.5 812.2,411.8 812.5,411.3 812.8,411.6 813.1,411.3 813.4,411.7 813.7,411.6 814.0,411.7 814.3,411.2 814.6,411.7 814.9,411.6 815.2,411.8 815.5,411.6 815.8,411.1 816.1,411.9 816.4,411.3 816.7,411.7 817.0,410.7 817.3,411.8 817.6,411.9 817.9,411.2 818.2,411.8 818.5,411.4 818.8,412.2 819.1,411.9 819.4,411.1 819.7,411.5 820.0,410.9 820.3,411.5 820.6,411.8 820.9,412.0 821.2,411.6 821.5,411.5 821.8,411.7 822.1,411.4 822.4,411.8 822.7,412.1 823.0,411.7 823.3,412.0 823.6,411.3 823.9,411.4 824.2,411.8 824.5,412.5 824.8,412.1 825.1,412.4 825.4,411.7 825.7,412.2 826.0,411.0 826.3,411.9 826.6,410.8 826.9,412.2 827.2,411.9 827.5,412.2 827.8,411.9 828.1,411.5 828.4,411.4 828.7,411.8 829.0,412.3 829.3,412.0 829.6,411.5 829.9,411.5 830.0,411.4 830.2,411.6 830.5,411.7 830.8,411.5 831.1,411.7 831.4,411.0 831.7,412.3 832.0,411.8 832.3,412.3 832.6,411.8 832.9,411.6 833.2,411.7 833.5,411.7 833.8,411.4 834.1,411.5 834.4,412.4 834.7,412.0 835.0,411.4 835.3,411.8 835.6,411.2 835.9,412.1 836.2,411.1 836.5,411.9 836.8,411.5 837.1,411.5 837.4,411.2 837.7,411.4 838.0,411.1 838.3,411.1 838.6,411.6 838.9,412.5 839.2,411.3 839.5,411.8 839.8,411.4 840.1,411.1 840.4,411.9 840.7,411.6 841.0,411.8 841.3,411.3 841.6,411.3 841.9,410.9 842.2,411.1 842.5,411.9 842.8,410.3 843.1,411.4 843.4,411.8 843.7,411.5 844.0,411.5 844.3,411.0 844.6,411.6 844.9,411.6 845.2,411.1 845.5,411.8 845.8,410.9 846.1,410.1 846.4,411.1 846.7,411.0 847.0,410.7 847.3,410.9 847.6,410.8 847.9,410.3 848.2,411.5 848.5,411.0 848.8,412.1 849.1,411.0 849.4,411.2 849.7,410.4 850.0,411.4 850.0,410.6 850.3,411.2 850.6,411.4 850.9,411.3 851.2,410.7 851.5,410.7 851.8,411.3 852.1,411.5 852.4,411.6 852.7,411.0 853.0,411.0 853.3,411.8 853.6,410.8 853.9,411.3 854.2,410.9 854.5,410.4 854.8,410.5 855.1,411.2 855.4,411.1 855.7,411.2 856.0,410.9 856.3,410.8 856.6,411.1 856.9,410.9 857.2,410.3 857.5,410.8 857.8,411.7 858.1,410.7 858.4,411.2 858.7,411.0 859.0,411.3 859.3,410.6 859.6,410.5 859.9,411.2 860.2,410.7 860.5,411.0 860.8,410.9 861.1,411.4 861.4,411.1 861.7,411.1 862.0,410.6 862.3,410.4 862.6,410.7 862.9,411.3 863.2,411.3 863.5,411.2 863.8,410.8 864.1,410.6 864.4,411.5 864.7,411.1 865.0,411.2 865.3,410.6 865.6,410.7 865.9,411.3 866.2,411.3 866.5,410.6 866.8,411.1 867.1,410.5 867.4,411.5 867.7,411.3 868.0,411.9 868.3,411.6 868.6,410.7 868.9,411.1 869.2,410.8 869.5,411.1 869.8,411.3 870.0,411.0 870.1,411.0 870.4,410.4 870.7,411.2 871.0,411.0 871.3,411.2 871.6,411.4 871.9,410.9 872.2,411.2 872.5,410.6 872.8,411.2 873.1,410.7 873.4,410.4 873.7,410.5 874.0,410.0 874.3,410.2 874.6,410.3 874.9,410.4 875.2,410.3 875.5,410.0 875.8,410.1 876.1,409.2 876.4,410.0 876.7,410.1 877.0,410.1 877.3,410.2 877.6,409.5 877.9,409.5 878.0,409.3 878.2,409.2 878.5,409.3 878.8,409.7 879.1,408.3 879.4,408.6 879.7,408.7 880.0,407.9 880.3,408.2 880.6,407.2 880.9,407.4 881.2,406.5 881.5,407.0 881.8,406.3 881.8,406.9 882.1,406.1 882.4,405.4 882.7,405.2 883.0,404.8 883.3,404.2 883.6,403.6 883.9,403.0 884.2,402.5 884.5,402.4 884.8,401.3 885.1,401.3 885.4,400.3 885.4,401.2 885.7,400.6 886.0,400.0 886.3,399.7 886.6,398.9 886.9,399.4 887.2,399.0 887.5,398.3 887.8,398.5 888.1,398.9 888.4,398.7 888.4,398.7 888.7,398.5 889.0,399.3 889.3,399.4 889.6,400.4 889.9,401.6 890.2,400.5 890.5,401.8 890.8,402.6 891.0,402.7 891.1,403.6 891.4,403.6 891.7,405.0 892.0,405.3 892.3,405.8 892.6,406.2 892.9,407.0 893.2,407.3 893.5,408.0 893.5,407.6 893.8,408.0 894.1,408.0 894.4,408.2 894.7,407.6 895.0,408.3 895.3,408.6 895.6,408.1 895.9,408.1 896.2,408.6 896.4,408.9 896.5,408.1 896.8,409.0 897.1,409.3 897.4,408.8 897.7,409.1 898.0,409.2 898.3,408.8 898.6,409.4 898.9,409.3 899.2,408.7 899.5,409.4 899.8,409.6 900.1,408.8 900.4,409.6 900.7,409.2 901.0,408.8 901.3,408.9 901.6,409.0 901.9,409.6 902.2,409.2 902.5,409.3 902.8,408.9 903.1,409.5 903.4,409.0 903.7,409.2 904.0,409.7 904.3,409.8 904.6,409.3 904.9,409.5 905.0,409.7 905.2,409.5 905.5,410.0 905.8,410.0 906.1,409.5 906.4,409.0 906.7,409.4 907.0,410.0 907.3,410.0 907.6,410.0 907.9,409.9 908.2,409.3 908.5,409.6 908.8,409.9 909.1,409.6 909.4,409.9 909.7,409.1 910.0,409.0 910.3,410.3 910.6,409.8 910.9,409.7 911.2,410.1 911.5,410.4 911.8,410.7 912.1,408.5 912.4,409.7 912.7,409.9 913.0,408.7 913.3,408.8 913.6,409.4 913.9,410.3 914.2,409.9 914.5,410.4 914.8,409.6 915.1,409.9 915.4,410.1 915.7,409.7 916.0,409.5 916.3,409.6 916.6,408.0 916.9,409.6 917.2,408.8 917.5,409.2 917.8,409.8 918.1,409.7 918.4,408.7 918.7,409.7 919.0,409.8 919.3,409.6 919.6,409.8 919.9,409.7 920.0,408.8 920.2,409.4 920.5,409.4 920.8,409.0 921.1,409.5 921.4,409.2 921.7,409.4 922.0,409.1 922.3,409.9 922.6,410.4 922.9,409.2 923.2,409.5 923.5,409.5 923.8,409.6 924.1,409.3 924.4,408.5 924.7,409.5 925.0,409.3 925.3,408.9 925.6,409.2 925.9,409.1 926.2,409.4 926.5,409.1 926.8,409.1 927.1,409.3 927.4,409.3 927.7,409.2 928.0,409.6 928.3,409.2 928.6,408.8 928.9,409.8 929.2,409.1 929.5,409.7 929.8,408.6 930.1,409.2 930.4,409.6 930.7,409.4 931.0,408.9 931.3,408.6 931.6,408.6 931.9,408.7 932.0,408.4 932.2,408.5 932.5,408.3 932.8,408.3 933.1,408.7 933.4,407.8 933.7,408.5 934.0,408.6 934.3,407.8 934.6,407.7 934.9,408.0 935.2,407.8 935.5,408.1 935.8,406.8 936.1,407.4 936.4,407.9 936.7,407.2 937.0,407.7 937.3,407.8 937.6,406.5 937.9,407.2 938.2,406.7 938.5,406.4 938.8,406.2 939.1,406.1 939.4,405.7 939.7,405.9 940.0,406.3 940.0,406.4 940.3,405.7 940.6,405.9 940.9,405.8 941.2,404.6 941.5,405.8 941.8,404.9 942.1,404.9 942.4,405.6 942.7,405.9 943.0,404.8 943.3,404.8 943.3,404.8 943.6,405.0 943.9,405.2 944.2,405.2 944.5,405.1 944.8,406.7 945.1,406.0 945.4,406.2 945.7,407.1 946.0,406.8 946.3,407.6 946.6,407.6 946.9,407.8 947.0,407.2 947.2,407.6 947.5,406.8 947.8,406.8 948.1,407.4 948.4,407.2 948.7,407.9 949.0,407.2 949.3,406.5 949.6,407.2 949.9,407.0 950.2,407.1 950.5,406.4 950.8,406.4 951.0,406.6"/>
<path stroke="#077407" stroke-width="1.6" d="M64.4,466.5 64.7,466.9 65.0,470.9 65.3,472.7 65.5,474.1 65.6,474.8 65.9,475.8 66.2,478.4 66.5,479.6 66.8,483.0 67.0,482.1 67.1,482.1 67.4,483.1 67.7,483.7 68.0,484.2 68.3,485.2 68.6,486.1 68.9,486.2 69.0,487.0 69.2,486.7 69.5,487.1 69.8,488.2 70.1,488.0 70.4,487.7 70.7,488.2 71.0,488.8 71.3,489.7 71.6,488.8 71.9,489.0 72.0,489.7 72.2,488.9 72.5,489.4 72.8,490.2 73.1,490.3 73.4,490.3 73.7,490.8 74.0,489.2 74.3,491.3 74.6,490.4 74.9,490.1 75.0,491.0 75.2,491.2 75.5,490.6 75.8,490.2 76.1,490.6 76.4,490.4 76.7,490.9 77.0,490.5 77.3,490.0 77.6,490.4 77.9,489.7 78.0,489.3 78.2,490.1 78.5,490.1 78.8,489.7 79.1,489.4 79.4,489.9 79.7,488.6 80.0,490.1 80.3,490.0 80.6,489.0 80.9,489.8 81.2,489.3 81.5,490.2 81.8,488.8 82.0,489.3 82.1,490.2 82.4,490.4 82.7,488.8 83.0,489.7 83.3,490.1 83.6,489.8 83.9,490.9 84.2,489.7 84.5,490.5 84.8,489.9 85.1,491.3 85.4,490.7 85.7,490.6 86.0,490.0 86.0,491.7 86.3,491.4 86.6,491.5 86.9,491.8 87.2,491.5 87.5,491.1 87.8,491.2 88.1,491.3 88.4,492.5 88.7,491.2 89.0,491.8 89.3,492.0 89.6,492.4 89.9,492.7 90.0,491.9 90.2,491.7 90.5,492.7 90.8,493.5 91.1,493.4 91.4,493.3 91.7,493.1 92.0,493.6 92.3,493.5 92.6,494.1 92.9,493.5 93.2,494.1 93.5,494.1 93.8,494.6 94.1,494.5 94.4,495.8 94.7,495.4 95.0,495.5 95.0,493.8 95.3,494.7 95.6,494.7 95.9,495.4 96.2,494.1 96.5,495.9 96.8,495.9 97.1,494.8 97.4,495.1 97.7,495.3 98.0,495.8 98.3,496.2 98.6,496.9 98.9,495.9 99.2,496.5 99.5,496.3 99.8,497.2 100.0,496.8 100.1,497.1 100.4,496.0 100.7,496.6 101.0,496.4 101.3,497.6 101.6,497.3 101.9,497.0 102.2,497.0 102.5,497.6 102.8,497.2 103.1,497.2 103.4,498.0 103.7,499.2 104.0,498.0 104.3,498.0 104.6,497.8 104.9,497.9 105.0,498.9 105.2,499.1 105.5,498.9 105.8,499.2 106.1,499.3 106.4,499.5 106.7,498.9 107.0,499.6 107.3,500.1 107.6,499.8 107.9,500.2 108.2,500.3 108.5,500.7 108.8,501.5 109.1,501.1 109.4,501.4 109.7,502.1 110.0,502.2 110.0,502.7 110.3,501.1 110.6,502.7 110.9,502.3 111.2,502.8 111.5,503.3 111.8,503.6 112.1,503.8 112.4,503.6 112.7,504.5 113.0,503.8 113.3,504.0 113.6,504.7 113.9,504.2 114.2,505.8 114.5,505.4 114.8,506.2 115.0,505.2 115.1,505.1 115.4,505.5 115.7,506.0 116.0,505.5 116.3,506.2 116.6,506.1 116.9,507.1 117.2,506.2 117.5,507.2 117.8,506.5 118.1,506.5 118.4,506.8 118.7,506.7 119.0,507.6 119.3,508.2 119.6,507.9 119.9,508.3 120.0,508.8 120.2,508.2 120.5,508.3 120.8,508.3 121.1,507.7 121.4,509.0 121.7,507.9 122.0,509.3 122.3,509.1 122.6,509.8 122.9,509.3 123.2,509.1 123.5,509.8 123.8,509.4 124.1,509.8 124.4,510.0 124.7,510.0 125.0,510.1 125.0,509.8 125.3,510.2 125.6,509.4 125.9,510.5 126.2,510.0 126.5,511.3 126.8,511.5 127.1,510.0 127.4,511.1 127.7,511.1 128.0,510.7 128.3,511.6 128.6,511.2 128.9,510.7 129.2,511.5 129.5,511.7 129.8,511.9 130.0,511.3 130.1,512.2 130.4,512.4 130.7,511.6 131.0,511.9 131.3,512.3 131.6,512.1 131.9,513.4 132.2,512.7 132.5,512.2 132.8,512.4 133.1,512.8 133.4,514.1 133.7,513.0 134.0,513.2 134.3,513.5 134.6,513.3 134.9,514.6 135.0,513.2 135.2,513.9 135.5,513.8 135.8,514.1 136.1,513.4 136.4,515.0 136.7,514.2 137.0,514.4 137.3,514.0 137.6,514.3 137.9,515.1 138.2,515.4 138.5,515.4 138.8,515.8 139.1,515.7 139.4,515.5 139.7,516.0 140.0,516.0 140.0,515.7 140.3,516.2 140.6,516.6 140.9,516.2 141.2,516.0 141.5,516.6 141.8,517.3 142.1,516.4 142.4,516.5 142.7,516.6 143.0,517.4 143.3,516.0 143.6,517.2 143.9,517.7 144.2,516.8 144.5,518.0 144.8,517.6 145.0,517.1 145.1,517.5 145.4,516.7 145.7,517.3 146.0,518.5 146.3,517.3 146.6,518.7 146.9,517.8 147.2,518.4 147.5,518.0 147.8,516.9 148.1,517.8 148.4,518.2 148.7,517.6 149.0,517.6 149.3,518.5 149.6,518.1 149.9,517.6 150.0,518.2 150.2,519.0 150.5,518.4 150.8,519.2 151.1,519.6 151.4,518.9 151.7,518.4 152.0,518.5 152.3,519.2 152.6,519.7 152.9,519.5 153.2,519.8 153.5,519.4 153.8,519.8 154.1,519.5 154.4,519.7 154.7,519.3 155.0,519.2 155.0,519.8 155.3,519.5 155.6,519.7 155.9,520.5 156.2,520.2 156.5,521.7 156.8,520.8 157.1,520.1 157.4,520.9 157.7,520.7 158.0,520.2 158.3,521.2 158.6,520.3 158.9,519.3 159.2,521.2 159.5,520.6 159.8,521.7 160.0,520.7 160.1,520.4 160.4,521.9 160.7,520.7 161.0,521.4 161.3,522.1 161.6,521.5 161.9,521.6 162.2,521.7 162.5,522.2 162.8,521.5 163.1,522.3 163.4,522.4 163.7,523.4 164.0,522.2 164.3,522.0 164.6,522.9 164.9,522.5 165.0,522.8 165.2,522.8 165.5,523.4 165.8,522.6 166.1,523.0 166.4,521.9 166.7,522.8 167.0,524.1 167.3,523.1 167.6,523.2 167.9,523.0 168.2,524.0 168.5,523.9 168.8,523.3 169.1,524.3 169.4,524.2 169.7,524.5 170.0,523.9 170.0,525.0 170.3,524.5 170.6,524.3 170.9,524.2 171.2,524.4 171.5,525.0 171.8,524.5 172.1,525.2 172.4,525.0 172.7,525.5 173.0,525.3 173.3,524.9 173.6,524.1 173.9,525.2 174.2,525.5 174.5,525.2 174.8,525.4 175.0,525.0 175.1,525.0 175.4,524.8 175.7,525.9 176.0,525.4 176.3,525.1 176.6,524.7 176.9,525.3 177.2,526.1 177.5,525.6 177.8,525.1 178.1,526.2 178.4,526.2 178.7,526.0 179.0,525.9 179.3,526.1 179.6,525.8 179.9,526.0 180.0,525.2 180.2,526.3 180.5,525.8 180.8,526.7 181.1,524.7 181.4,526.1 181.7,526.2 182.0,525.6 182.3,526.0 182.6,526.2 182.9,526.1 183.2,525.6 183.5,525.8 183.8,526.4 184.1,526.6 184.4,526.1 184.7,526.1 185.0,526.2 185.0,526.6 185.3,525.6 185.6,525.6 185.9,526.3 186.2,525.8 186.5,526.2 186.8,526.6 187.1,526.9 187.4,526.2 187.7,527.3 188.0,526.1 188.3,527.3 188.6,526.4 188.9,526.7 189.2,527.7 189.5,527.3 189.8,527.2 190.0,527.4 190.1,527.8 190.4,527.7 190.7,527.7 191.0,528.3 191.3,527.5 191.6,527.7 191.9,527.7 192.2,528.6 192.5,528.6 192.8,528.8 193.1,528.2 193.4,528.2 193.7,528.7 194.0,528.2 194.3,528.8 194.6,528.9 194.9,528.2 195.0,528.6 195.2,528.6 195.5,529.6 195.8,530.1 196.1,528.8 196.4,529.0 196.7,528.0 197.0,529.3 197.3,529.2 197.6,528.8 197.9,529.8 198.2,528.8 198.5,529.5 198.8,529.8 199.1,529.2 199.4,530.3 199.7,530.4 200.0,529.3 200.0,529.3 200.3,530.4 200.6,530.1 200.9,529.6 201.2,530.2 201.5,530.3 201.8,530.4 202.1,530.9 202.4,530.8 202.7,531.6 203.0,531.4 203.3,531.1 203.6,531.4 203.9,531.6 204.2,531.3 204.5,530.4 204.8,531.4 205.0,531.0 205.1,531.8 205.4,531.0 205.7,531.3 206.0,531.2 206.3,531.8 206.6,531.1 206.9,530.9 207.2,531.1 207.5,530.8 207.8,531.1 208.1,531.0 208.4,531.1 208.7,531.9 209.0,530.8 209.3,531.0 209.6,530.9 209.9,531.3 210.0,530.4 210.2,530.7 210.5,530.9 210.8,531.2 211.1,530.8 211.4,530.5 211.7,530.2 212.0,530.7 212.3,531.0 212.6,530.4 212.9,530.2 213.2,530.2 213.5,529.4 213.8,529.6 214.1,529.5 214.4,529.7 214.7,529.5 215.0,528.9 215.0,530.0 215.3,530.3 215.6,529.4 215.9,529.7 216.2,529.6 216.5,529.9 216.8,528.8 217.1,530.3 217.4,529.3 217.7,530.1 218.0,529.5 218.3,529.3 218.6,529.4 218.9,529.9 219.2,529.1 219.5,529.3 219.8,529.3 220.0,528.7 220.1,530.1 220.4,529.8 220.7,529.5 221.0,530.2 221.3,529.2 221.6,529.7 221.9,530.7 222.2,530.4 222.5,529.0 222.8,528.5 223.1,529.8 223.4,530.9 223.7,530.3 224.0,530.5 224.3,531.0 224.6,530.4 224.9,531.1 225.0,531.4 225.2,531.3 225.5,531.4 225.8,531.0 226.1,531.7 226.4,531.4 226.7,532.4 227.0,533.2 227.3,531.8 227.6,531.2 227.9,532.2 228.2,532.7 228.5,533.2 228.8,533.3 229.1,532.5 229.4,532.6 229.7,533.6 230.0,532.5 230.0,533.5 230.3,532.9 230.6,533.4 230.9,533.3 231.2,533.3 231.5,533.3 231.8,532.4 232.1,533.0 232.4,532.8 232.7,532.9 233.0,533.3 233.3,532.6 233.6,532.3 233.9,532.3 234.2,532.4 234.5,532.9 234.8,532.1 235.0,533.1 235.1,532.6 235.4,532.3 235.7,531.8 236.0,532.5 236.3,532.7 236.6,531.5 236.9,532.8 237.2,533.0 237.5,532.4 237.8,532.4 238.1,533.3 238.4,532.7 238.7,531.6 239.0,532.0 239.3,531.9 239.6,531.9 239.9,530.9 240.0,532.4 240.2,531.7 240.5,532.1 240.8,532.0 241.1,532.5 241.4,532.0 241.7,531.9 242.0,532.6 242.3,533.1 242.6,532.4 242.9,533.3 243.2,532.8 243.5,532.5 243.8,533.6 244.1,532.5 244.4,533.4 244.7,532.8 245.0,533.2 245.0,532.4 245.3,532.6 245.6,533.5 245.9,533.1 246.2,533.0 246.5,532.8 246.8,533.2 247.1,532.3 247.4,532.5 247.7,532.9 248.0,532.6 248.3,532.7 248.6,533.0 248.9,532.9 249.2,532.9 249.5,533.8 249.8,533.5 250.0,533.6 250.1,533.0 250.4,532.8 250.7,532.3 251.0,532.9 251.3,532.1 251.6,532.9 251.9,533.6 252.2,534.1 252.5,533.8 252.8,533.1 253.1,533.8 253.4,533.3 253.7,534.1 254.0,533.8 254.3,534.3 254.6,535.2 254.9,534.5 255.0,535.2 255.2,534.2 255.5,534.1 255.8,535.0 256.1,535.3 256.4,534.3 256.7,534.7 257.0,534.1 257.3,534.8 257.6,535.4 257.9,535.1 258.2,534.9 258.5,534.6 258.8,535.6 259.1,535.9 259.4,535.9 259.7,535.8 260.0,535.2 260.0,536.6 260.3,535.9 260.6,535.9 260.9,536.4 261.2,535.1 261.5,536.2 261.8,536.2 262.1,536.5 262.4,537.0 262.7,536.7 263.0,535.7 263.3,536.4 263.6,536.8 263.9,536.8 264.2,536.2 264.5,536.0 264.8,537.1 265.0,537.1 265.1,536.9 265.4,536.1 265.7,537.9 266.0,535.7 266.3,536.9 266.6,538.2 266.9,537.1 267.2,537.4 267.5,536.7 267.8,538.0 268.1,536.8 268.4,537.5 268.7,537.5 269.0,537.0 269.3,537.9 269.6,536.8 269.9,537.2 270.0,537.5 270.2,537.3 270.5,537.7 270.8,537.9 271.1,537.3 271.4,537.2 271.7,537.2 272.0,537.2 272.3,537.7 272.6,537.2 272.9,537.4 273.2,537.2 273.5,536.8 273.8,537.5 274.1,536.6 274.4,537.0 274.7,537.7 275.0,536.4 275.0,536.9 275.3,536.1 275.6,536.5 275.9,536.0 276.2,536.5 276.5,536.3 276.8,536.5 277.1,537.1 277.4,536.4 277.7,536.5 278.0,536.0 278.3,535.8 278.6,535.4 278.9,534.8 279.2,535.6 279.5,536.2 279.8,535.5 280.0,534.9 280.1,535.9 280.4,534.8 280.7,534.5 281.0,534.0 281.3,533.9 281.6,534.0 281.9,534.9 282.2,533.6 282.5,532.9 282.8,532.8 283.1,532.7 283.4,531.8 283.7,532.3 284.0,532.3 284.0,532.2 284.3,532.0 284.6,530.8 284.9,530.3 285.2,531.4 285.5,531.0 285.8,529.5 286.1,529.9 286.4,529.5 286.7,529.3 287.0,528.7 287.0,528.4 287.3,528.2 287.6,527.6 287.9,526.9 288.2,525.3 288.5,524.1 288.8,524.3 289.0,523.4 289.1,524.1 289.4,523.5 289.7,522.4 290.0,521.1 290.3,520.3 290.6,519.8 290.9,517.7 291.0,518.0 291.2,517.0 291.5,515.2 291.8,514.0 292.1,511.0 292.4,509.8 292.5,508.3 292.7,507.0 293.0,504.7 293.3,503.3 293.6,500.3 293.9,498.5 294.0,497.2 294.2,496.7 294.5,494.7 294.8,491.6 295.1,489.8 295.4,486.7 295.5,486.5 295.7,483.6 296.0,479.7 296.2,478.7 296.3,476.5 296.6,471.2 296.9,465.6 297.2,458.6 297.5,452.2 297.8,444.4 298.1,437.9 298.4,429.8 298.7,421.2 299.0,414.0 299.3,407.7 299.6,400.9 299.7,399.9 299.9,396.2 300.2,389.9 300.5,383.9 300.8,378.2 301.1,372.7 301.4,367.2 301.7,361.6 302.0,357.9 302.3,354.1 302.6,352.9 302.8,351.9 302.9,352.8 303.2,353.1 303.5,355.7 303.8,359.7 304.1,364.3 304.4,368.5 304.7,374.5 305.0,380.7 305.3,386.8 305.6,392.2 305.9,398.3 306.0,399.9 306.2,404.3 306.5,410.0 306.8,415.6 307.1,422.1 307.4,430.4 307.7,438.2 308.0,445.0 308.3,452.5 308.6,458.8 308.9,464.9 309.2,471.9 309.5,476.9 309.7,480.3 309.8,480.8 310.1,485.3 310.4,488.3 310.7,492.5 310.8,493.0 311.0,495.7 311.3,499.9 311.6,504.9 311.9,507.6 311.9,507.2 312.2,509.7 312.5,511.9 312.8,515.1 313.1,515.5 313.4,517.7 313.5,519.0 313.7,520.4 314.0,521.4 314.3,523.3 314.6,524.8 314.9,526.4 315.2,527.5 315.2,528.3 315.5,529.3 315.8,531.7 316.1,532.3 316.4,535.0 316.7,535.5 317.0,536.8 317.0,537.7 317.3,538.3 317.6,540.0 317.9,540.3 318.2,542.5 318.5,542.6 318.8,542.9 319.0,544.1 319.1,544.7 319.4,544.7 319.7,546.1 320.0,547.6 320.3,547.8 320.6,548.1 320.9,548.6 321.2,549.8 321.5,549.4 321.8,549.3 321.8,550.4 322.1,550.8 322.4,552.7 322.7,552.5 323.0,552.6 323.3,553.0 323.6,554.3 323.9,554.2 324.2,554.8 324.5,555.4 324.8,555.9 325.1,556.3 325.1,556.3 325.4,557.2 325.7,557.7 326.0,556.4 326.3,558.7 326.6,557.8 326.9,558.6 327.2,557.9 327.5,558.7 327.8,558.8 328.1,559.0 328.4,559.6 328.7,559.7 329.0,559.2 329.0,559.6 329.3,560.2 329.6,560.4 329.9,560.1 330.2,560.3 330.5,560.6 330.8,560.3 331.1,560.4 331.4,561.9 331.7,561.2 332.0,561.6 332.3,561.4 332.6,562.5 332.9,562.9 333.2,562.2 333.5,562.7 333.8,562.3 334.1,563.7 334.4,563.5 334.7,562.8 335.0,564.0 335.0,563.6 335.3,563.8 335.6,564.1 335.9,563.8 336.2,564.1 336.5,564.9 336.8,564.9 337.1,564.7 337.4,566.4 337.7,565.6 338.0,565.7 338.3,565.9 338.6,566.8 338.9,567.1 339.2,567.0 339.5,567.5 339.8,566.5 340.0,567.2 340.1,567.2 340.4,567.5 340.7,567.8 341.0,566.8 341.3,569.3 341.6,567.5 341.9,568.1 342.2,568.4 342.5,568.5 342.8,568.3 343.1,566.9 343.4,567.9 343.7,568.8 344.0,568.1 344.3,568.1 344.6,567.6 344.9,569.4 345.0,569.1 345.2,568.5 345.5,568.9 345.8,569.1 346.1,568.7 346.4,569.2 346.7,569.6 347.0,569.8 347.3,570.3 347.6,569.8 347.9,569.7 348.2,570.3 348.5,569.9 348.8,569.7 349.1,571.0 349.4,570.4 349.7,570.7 350.0,571.1 350.0,570.3 350.3,571.2 350.6,571.3 350.9,571.1 351.2,571.5 351.5,571.0 351.8,570.5 352.1,571.5 352.4,571.3 352.7,572.3 353.0,572.1 353.3,571.9 353.6,572.2 353.9,573.0 354.2,573.0 354.5,572.7 354.8,572.8 355.0,572.6 355.1,572.7 355.4,573.1 355.7,572.9 356.0,573.2 356.3,572.6 356.6,572.4 356.9,572.5 357.2,573.2 357.5,574.1 357.8,574.1 358.1,573.2 358.4,573.0 358.7,574.2 359.0,574.1 359.3,573.3 359.6,574.6 359.9,574.3 360.0,574.8 360.2,574.4 360.5,574.8 360.8,574.6 361.1,574.2 361.4,574.6 361.7,574.5 362.0,575.4 362.3,574.7 362.6,574.5 362.9,575.7 363.2,576.0 363.5,576.3 363.8,576.2 364.1,575.1 364.4,575.6 364.7,575.8 365.0,576.1 365.0,575.1 365.3,576.2 365.6,576.4 365.9,575.9 366.2,576.4 366.5,577.0 366.8,576.5 367.1,577.1 367.4,577.1 367.7,576.9 368.0,576.9 368.3,576.6 368.6,577.4 368.9,576.7 369.2,576.6 369.5,577.3 369.8,576.7 370.0,577.3 370.1,577.6 370.4,577.2 370.7,577.3 371.0,577.7 371.3,577.7 371.6,576.7 371.9,576.9 372.2,578.2 372.5,577.8 372.8,576.7 373.1,577.1 373.4,577.8 373.7,577.4 374.0,578.1 374.3,578.0 374.6,578.3 374.9,577.5 375.0,578.4 375.2,579.1 375.5,577.8 375.8,578.9 376.1,578.8 376.4,578.7 376.7,578.4 377.0,578.0 377.3,578.2 377.6,579.0 377.9,579.2 378.2,579.3 378.5,579.3 378.8,579.3 379.1,578.7 379.4,578.4 379.7,579.1 380.0,579.3 380.0,579.2 380.3,578.5 380.6,579.0 380.9,578.6 381.2,579.4 381.5,578.9 381.8,579.4 382.1,579.7 382.4,579.6 382.7,580.3 383.0,579.2 383.3,578.7 383.6,580.2 383.9,580.5 384.2,580.6 384.5,580.1 384.8,580.2 385.0,580.1 385.1,579.4 385.4,579.8 385.7,580.3 386.0,579.9 386.3,581.0 386.6,579.5 386.9,580.0 387.2,580.7 387.5,580.0 387.8,579.8 388.1,579.7 388.4,580.0 388.7,581.1 389.0,580.6 389.3,580.7 389.6,580.2 389.9,580.9 390.0,580.6 390.2,580.1 390.5,580.4 390.8,580.8 391.1,581.3 391.4,580.8 391.7,581.2 392.0,582.0 392.3,580.8 392.6,580.7 392.9,581.8 393.2,581.7 393.5,581.5 393.8,581.8 394.1,581.6 394.4,582.1 394.7,581.8 395.0,582.4 395.0,581.5 395.3,581.7 395.6,582.2 395.9,582.0 396.2,582.6 396.5,582.3 396.8,582.2 397.1,582.6 397.4,582.3 397.7,581.9 398.0,582.2 398.3,582.4 398.6,582.6 398.9,582.9 399.2,583.3 399.5,583.2 399.8,583.8 400.0,583.6 400.1,582.9 400.4,583.8 400.7,583.7 401.0,582.9 401.3,583.3 401.6,583.7 401.9,583.3 402.2,583.7 402.5,583.5 402.8,583.6 403.1,583.2 403.4,583.5 403.7,583.2 404.0,583.7 404.3,582.7 404.6,583.6 404.9,584.1 405.0,583.8 405.2,583.5 405.5,583.8 405.8,583.2 406.1,583.3 406.4,583.6 406.7,583.7 407.0,584.3 407.3,583.5 407.6,584.4 407.9,583.3 408.2,583.7 408.5,584.1 408.8,584.7 409.1,584.0 409.4,583.3 409.7,584.6 410.0,584.4 410.0,583.9 410.3,584.0 410.6,584.2 410.9,584.6 411.2,585.0 411.5,584.0 411.8,585.8 412.1,584.8 412.4,584.7 412.7,585.3 413.0,585.1 413.3,586.1 413.6,585.6 413.9,585.0 414.2,585.1 414.5,585.1 414.8,585.2 415.0,585.7 415.1,585.1 415.4,586.3 415.7,585.5 416.0,585.6 416.3,586.2 416.6,584.9 416.9,585.5 417.2,586.3 417.5,586.1 417.8,586.1 418.1,586.4 418.4,586.0 418.7,586.3 419.0,585.8 419.3,585.6 419.6,587.1 419.9,586.2 420.0,586.3 420.2,587.3 420.5,587.2 420.8,586.5 421.1,586.5 421.4,586.8 421.7,586.4 422.0,587.1 422.3,586.9 422.6,587.0 422.9,587.3 423.2,587.3 423.5,587.8 423.8,587.7 424.1,586.2 424.4,587.5 424.7,586.6 425.0,586.5 425.0,587.4 425.3,586.8 425.6,587.0 425.9,587.7 426.2,586.9 426.5,586.8 426.8,587.4 427.1,587.9 427.4,587.6 427.7,586.7 428.0,587.1 428.3,587.4 428.6,588.3 428.9,587.9 429.2,587.9 429.5,588.1 429.8,587.4 430.0,587.8 430.1,587.9 430.4,587.2 430.7,587.7 431.0,588.0 431.3,587.3 431.6,588.3 431.9,588.3 432.2,588.5 432.5,587.7 432.8,588.2 433.1,588.9 433.4,588.6 433.7,588.0 434.0,588.5 434.3,589.1 434.6,588.5 434.9,588.8 435.0,589.8 435.2,588.6 435.5,588.7 435.8,588.3 436.1,588.5 436.4,589.6 436.7,588.9 437.0,588.5 437.3,588.6 437.6,589.1 437.9,589.5 438.2,588.9 438.5,589.6 438.8,589.1 439.1,589.5 439.4,589.7 439.7,589.7 440.0,589.3 440.0,589.4 440.3,589.8 440.6,589.0 440.9,589.7 441.2,589.9 441.5,590.2 441.8,589.7 442.1,589.7 442.4,589.8 442.7,589.5 443.0,589.7 443.3,590.0 443.6,590.0 443.9,589.4 444.2,589.8 444.5,589.0 444.8,590.3 445.0,589.8 445.1,590.1 445.4,589.5 445.7,590.0 446.0,590.3 446.3,590.6 446.6,589.5 446.9,590.6 447.2,590.1 447.5,589.9 447.8,590.5 448.1,590.2 448.4,590.2 448.7,590.0 449.0,590.5 449.3,590.4 449.6,590.4 449.9,590.0 450.0,590.3 450.2,590.7 450.5,591.1 450.8,590.6 451.1,591.2 451.4,590.6 451.7,590.2 452.0,591.0 452.3,590.3 452.6,590.9 452.9,591.3 453.2,590.7 453.5,590.8 453.8,592.0 454.1,591.0 454.4,591.1 454.7,591.3 455.0,590.9 455.0,591.0 455.3,591.2 455.6,590.0 455.9,591.7 456.2,590.6 456.5,590.7 456.8,591.4 457.1,591.2 457.4,590.7 457.7,591.4 458.0,590.8 458.3,591.0 458.6,590.7 458.9,591.0 459.2,591.6 459.5,591.5 459.8,591.6 460.0,591.9 460.1,591.5 460.4,591.2 460.7,591.4 461.0,592.4 461.3,591.7 461.6,591.8 461.9,591.7 462.2,591.9 462.5,592.0 462.8,591.8 463.1,591.8 463.4,591.6 463.7,591.5 464.0,592.1 464.3,592.3 464.6,592.4 464.9,592.0 465.0,591.6 465.2,592.3 465.5,592.3 465.8,591.3 466.1,592.4 466.4,592.3 466.7,592.7 467.0,591.5 467.3,591.4 467.6,592.3 467.9,591.2 468.2,591.7 468.5,591.5 468.8,591.5 469.1,591.1 469.4,591.9 469.7,592.4 470.0,592.2 470.0,592.2 470.3,591.8 470.6,592.6 470.9,592.2 471.2,592.5 471.5,591.3 471.8,592.2 472.1,591.5 472.4,592.2 472.7,592.1 473.0,591.5 473.3,592.1 473.6,592.5 473.9,592.2 474.2,592.3 474.5,591.6 474.8,591.7 475.0,591.5 475.1,592.1 475.4,592.5 475.7,592.0 476.0,591.6 476.3,590.8 476.6,591.1 476.9,590.5 477.2,589.3 477.5,589.0 477.8,589.1 478.0,588.6 478.1,589.6 478.4,588.1 478.7,586.7 479.0,586.0 479.3,585.9 479.6,583.9 479.9,584.2 480.0,583.9 480.2,584.2 480.5,583.5 480.8,582.9 481.1,583.2 481.4,582.8 481.7,583.2 482.0,582.7 482.0,583.6 482.3,582.7 482.6,583.1 482.9,582.8 483.2,583.4 483.5,583.6 483.8,584.0 484.1,584.6 484.4,584.2 484.7,584.2 485.0,585.2 485.0,584.6 485.3,584.5 485.6,585.3 485.9,585.2 486.2,583.7 486.5,584.8 486.8,585.3 487.1,585.4 487.4,584.8 487.7,585.8 488.0,584.8 488.3,585.0 488.6,585.2 488.9,585.2 489.2,585.6 489.5,585.7 489.8,585.2 490.0,585.8 490.1,584.9 490.4,585.1 490.7,585.9 491.0,585.2 491.3,585.6 491.6,584.8 491.9,584.8 492.2,584.8 492.5,584.9 492.8,584.6 493.1,584.6 493.4,584.9 493.7,585.0 494.0,584.5 494.3,584.6 494.6,584.7 494.9,583.7 495.0,583.5 495.2,584.9 495.5,584.7 495.8,584.1 496.1,584.2 496.4,583.6 496.7,583.4 497.0,584.1 497.3,583.2 497.6,584.3 497.9,583.5 498.2,583.9 498.5,584.6 498.8,584.6 499.1,583.6 499.4,584.2 499.7,583.3 500.0,583.5 500.0,583.9 500.3,584.3 500.6,583.5 500.9,584.0 501.2,583.8 501.5,583.1 501.8,583.7 502.1,584.4 502.4,583.7 502.7,583.9 503.0,584.1 503.0,583.4 503.3,584.3 503.6,584.5 503.9,584.7 504.2,584.7 504.5,584.0 504.8,584.2 505.1,584.3 505.4,584.4 505.7,584.7 506.0,585.7 506.0,585.9 506.3,585.1 506.6,585.9 506.9,585.2 507.2,585.8 507.5,585.6 507.8,585.5 508.1,586.5 508.4,586.7 508.7,586.7 509.0,586.8 509.3,586.8 509.6,587.3 509.9,587.3 510.0,587.7 510.2,587.2 510.5,588.0 510.8,588.3 511.1,588.8 511.4,588.9 511.7,588.7 512.0,588.4 512.3,588.1 512.6,589.1 512.9,589.9 513.2,590.1 513.5,588.4 513.8,589.3 514.1,589.7 514.4,589.5 514.7,590.2 515.0,590.2 515.0,590.0 515.3,590.3 515.6,589.7 515.9,590.1 516.2,590.2 516.5,591.1 516.8,590.1 517.1,590.8 517.4,591.4 517.7,591.1 518.0,591.5 518.3,591.0 518.6,591.6 518.9,591.9 519.2,592.5 519.5,592.0 519.8,592.4 520.0,591.8 520.1,591.9 520.4,592.6 520.7,592.3 521.0,592.8 521.3,592.6 521.6,593.3 521.9,593.6 522.2,592.2 522.5,593.6 522.8,593.0 523.1,593.2 523.4,593.0 523.7,593.5 524.0,592.8 524.3,593.1 524.6,593.2 524.9,593.8 525.0,594.1 525.2,594.1 525.5,594.1 525.8,593.8 526.1,593.4 526.4,594.5 526.7,594.5 527.0,594.7 527.3,595.4 527.6,594.8 527.9,594.9 528.2,594.1 528.5,595.5 528.8,595.3 529.1,595.1 529.4,595.7 529.7,595.1 530.0,595.4 530.0,596.5 530.3,596.0 530.6,596.1 530.9,596.1 531.2,596.1 531.5,595.9 531.8,596.9 532.1,595.8 532.4,596.2 532.7,595.8 533.0,595.8 533.3,594.9 533.6,595.1 533.9,596.7 534.2,596.7 534.5,595.9 534.8,596.1 535.0,596.4 535.1,595.7 535.4,596.9 535.7,595.7 536.0,595.9 536.3,595.0 536.6,596.9 536.9,596.3 537.2,597.1 537.5,595.9 537.8,596.5 538.1,596.5 538.4,596.5 538.7,597.4 539.0,597.5 539.3,597.2 539.6,596.4 539.9,597.0 540.0,597.2 540.2,596.9 540.5,596.9 540.8,596.9 541.1,596.3 541.4,596.9 541.7,597.5 542.0,596.4 542.3,596.9 542.6,597.2 542.9,596.3 543.2,596.9 543.5,596.2 543.8,596.7 544.1,596.4 544.4,596.6 544.7,596.9 545.0,597.0 545.0,597.0 545.3,596.1 545.6,597.9 545.9,597.1 546.2,596.7 546.5,597.0 546.8,597.4 547.1,596.9 547.4,597.2 547.7,597.2 548.0,597.6 548.3,597.1 548.6,597.7 548.9,597.6 549.2,597.5 549.5,598.1 549.8,597.6 550.0,597.1 550.1,597.7 550.4,597.7 550.7,597.7 551.0,597.8 551.3,598.8 551.6,597.9 551.9,598.0 552.2,597.7 552.5,598.4 552.8,597.9 553.1,597.6 553.4,597.4 553.7,598.2 554.0,598.3 554.3,597.3 554.6,597.7 554.9,598.4 555.0,598.6 555.2,597.5 555.5,598.0 555.8,598.6 556.1,598.0 556.4,598.1 556.7,598.1 557.0,597.8 557.3,598.4 557.6,598.6 557.9,597.8 558.2,598.5 558.5,599.0 558.8,598.6 559.1,599.0 559.4,598.3 559.7,599.2 560.0,598.3 560.0,599.4 560.3,598.4 560.6,598.3 560.9,598.2 561.2,598.4 561.5,598.4 561.8,598.3 562.1,598.5 562.4,598.9 562.7,599.0 563.0,598.4 563.3,599.1 563.6,598.2 563.9,598.1 564.2,598.1 564.5,598.9 564.8,597.9 565.0,598.0 565.1,599.2 565.4,599.4 565.7,599.2 566.0,598.0 566.3,598.7 566.6,599.1 566.9,598.8 567.2,598.0 567.5,598.6 567.8,598.1 568.1,598.3 568.4,599.9 568.7,599.2 569.0,598.3 569.3,598.4 569.6,599.3 569.9,598.8 570.0,599.4 570.2,598.8 570.5,599.1 570.8,599.3 571.1,598.8 571.4,598.4 571.7,598.7 572.0,599.0 572.3,599.2 572.6,599.3 572.9,599.4 573.2,599.7 573.5,599.1 573.8,600.1 574.1,600.4 574.4,599.7 574.7,599.6 575.0,600.1 575.0,599.9 575.3,599.7 575.6,599.6 575.9,599.4 576.2,599.2 576.5,600.0 576.8,600.3 577.1,599.3 577.4,599.8 577.7,600.0 578.0,599.7 578.3,599.6 578.6,599.8 578.9,599.1 579.2,599.9 579.5,599.9 579.8,600.9 580.0,600.4 580.1,599.8 580.4,600.0 580.7,600.8 581.0,600.7 581.3,600.1 581.6,599.9 581.9,599.4 582.2,599.8 582.5,599.9 582.8,599.7 583.1,600.8 583.4,599.2 583.7,599.9 584.0,600.2 584.3,600.2 584.6,600.7 584.9,599.4 585.2,599.7 585.5,600.0 585.8,600.1 586.1,599.8 586.4,599.7 586.7,600.5 587.0,599.5 587.3,599.7 587.6,600.6 587.9,600.8 588.2,600.4 588.5,599.6 588.8,599.6 589.1,599.6 589.4,599.5 589.7,599.8 590.0,600.6 590.0,600.1 590.3,599.7 590.6,599.6 590.9,599.5 591.2,600.5 591.5,599.1 591.8,600.1 592.1,599.4 592.4,599.5 592.7,599.3 593.0,600.4 593.3,600.0 593.6,601.2 593.9,599.5 594.2,599.5 594.5,600.2 594.8,600.2 595.1,599.9 595.4,599.1 595.7,600.6 596.0,600.2 596.3,600.2 596.6,599.7 596.9,600.3 597.2,599.7 597.5,600.0 597.8,599.9 598.1,600.5 598.4,599.8 598.7,599.8 599.0,600.5 599.3,600.1 599.6,600.0 599.9,599.9 600.0,600.4 600.2,599.7 600.5,600.2 600.8,600.8 601.1,600.1 601.4,599.5 601.7,599.3 602.0,599.8 602.3,599.1 602.6,598.9 602.9,599.2 603.2,598.9 603.5,599.7 603.8,598.6 604.1,599.9 604.4,598.8 604.7,599.1 605.0,599.3 605.0,599.1 605.3,599.2 605.6,598.4 605.9,597.8 606.2,598.6 606.5,597.9 606.8,598.3 607.1,598.9 607.4,598.3 607.7,598.0 608.0,597.7 608.3,598.0 608.6,598.0 608.9,597.3 609.2,598.1 609.5,597.4 609.8,597.9 610.0,597.6 610.1,598.2 610.4,598.1 610.7,597.6 611.0,597.5 611.3,597.7 611.6,598.1 611.9,597.9 612.2,597.4 612.5,597.4 612.8,598.0 613.1,596.5 613.4,597.4 613.7,596.8 614.0,597.7 614.3,596.9 614.6,597.0 614.9,596.6 615.0,597.1 615.2,597.4 615.5,597.8 615.8,596.6 616.1,597.0 616.4,599.0 616.7,597.8 617.0,597.4 617.3,597.8 617.6,596.5 617.9,598.5 618.2,597.9 618.5,597.4 618.8,598.6 619.1,598.0 619.4,597.9 619.7,598.7 620.0,598.8 620.0,598.4 620.3,598.7 620.6,598.3 620.9,598.4 621.2,599.6 621.5,600.0 621.8,599.8 622.1,600.0 622.4,599.9 622.7,600.2 623.0,600.0 623.3,601.4 623.6,600.6 623.9,601.2 624.2,601.2 624.5,600.7 624.8,602.3 625.0,601.3 625.1,601.2 625.4,601.7 625.7,601.3 626.0,601.8 626.3,601.4 626.6,602.2 626.9,602.0 627.2,601.5 627.5,602.6 627.8,602.3 628.1,601.8 628.4,602.5 628.7,602.5 629.0,603.2 629.3,602.1 629.6,602.8 629.9,602.5 630.0,602.8 630.2,602.4 630.5,602.5 630.8,602.8 631.1,602.1 631.4,601.7 631.7,602.6 632.0,602.5 632.3,602.7 632.6,603.0 632.9,602.6 633.2,603.2 633.5,602.7 633.8,602.8 634.1,603.1 634.4,603.0 634.7,602.8 635.0,602.9 635.3,602.5 635.6,602.6 635.9,602.9 636.2,603.2 636.5,602.7 636.8,603.2 637.1,603.7 637.4,603.8 637.7,602.9 638.0,603.4 638.3,603.2 638.6,603.3 638.9,603.3 639.2,603.2 639.5,603.4 639.8,603.1 640.0,602.9 640.1,603.1 640.4,603.3 640.7,603.6 641.0,603.2 641.3,603.4 641.6,603.7 641.9,602.7 642.2,603.0 642.5,603.4 642.8,603.2 643.1,602.8 643.4,603.7 643.7,603.2 644.0,602.8 644.3,604.1 644.6,602.8 644.9,603.3 645.2,603.1 645.5,603.4 645.8,603.6 646.1,603.0 646.4,603.4 646.7,603.4 647.0,603.0 647.3,604.0 647.6,603.5 647.9,603.4 648.2,603.2 648.5,603.4 648.8,603.6 649.1,603.3 649.4,604.1 649.7,602.4 650.0,602.6 650.0,603.4 650.3,602.7 650.6,603.5 650.9,603.2 651.2,603.8 651.5,603.7 651.8,604.1 652.1,603.9 652.4,604.1 652.7,603.7 653.0,604.0 653.3,603.7 653.6,603.3 653.9,603.0 654.2,603.0 654.5,603.7 654.8,602.5 655.1,603.6 655.4,603.2 655.7,603.8 656.0,603.6 656.3,603.2 656.6,603.5 656.9,602.5 657.2,603.6 657.5,603.7 657.8,602.7 658.1,603.9 658.4,603.5 658.7,603.6 659.0,602.9 659.3,603.8 659.6,603.8 659.9,603.5 660.0,603.1 660.2,603.9 660.5,604.1 660.8,603.7 661.1,604.0 661.4,603.3 661.7,603.6 662.0,603.7 662.3,603.6 662.6,604.8 662.9,603.8 663.2,603.4 663.5,604.0 663.8,603.2 664.1,603.8 664.4,604.0 664.7,603.5 665.0,603.6 665.3,603.3 665.6,603.8 665.9,603.5 666.2,604.6 666.5,604.1 666.8,603.8 667.1,603.3 667.4,604.8 667.7,604.5 668.0,604.1 668.3,604.0 668.6,604.0 668.9,603.8 669.2,604.8 669.5,604.1 669.8,603.4 670.0,603.8 670.1,602.9 670.4,604.3 670.7,604.4 671.0,604.9 671.3,605.0 671.6,603.8 671.9,604.3 672.2,604.6 672.5,604.5 672.8,603.9 673.1,604.5 673.4,604.4 673.7,604.8 674.0,604.2 674.3,604.1 674.6,604.0 674.9,604.1 675.2,603.9 675.5,604.1 675.8,604.5 676.1,604.5 676.4,604.9 676.7,604.8 677.0,604.6 677.3,603.8 677.6,604.6 677.9,604.8 678.2,603.8 678.5,603.9 678.8,604.0 679.1,603.9 679.4,604.3 679.7,604.0 680.0,604.6 680.0,603.9 680.3,604.4 680.6,604.2 680.9,604.1 681.2,604.9 681.5,604.5 681.8,604.8 682.1,604.4 682.4,604.9 682.7,604.8 683.0,604.5 683.3,603.9 683.6,605.0 683.9,605.0 684.2,604.8 684.5,604.8 684.8,604.8 685.1,604.8 685.4,604.3 685.7,604.7 686.0,604.9 686.3,604.5 686.6,604.4 686.9,605.6 687.2,605.1 687.5,604.7 687.8,604.7 688.1,603.8 688.4,604.3 688.7,604.8 689.0,605.5 689.3,604.0 689.6,604.6 689.9,605.7 690.0,605.2 690.2,605.1 690.5,605.4 690.8,604.9 691.1,604.8 691.4,605.2 691.7,605.3 692.0,604.5 692.3,605.6 692.6,604.2 692.9,604.6 693.2,606.2 693.5,604.7 693.8,605.2 694.1,604.5 694.4,604.8 694.7,604.6 695.0,604.8 695.3,605.2 695.6,605.7 695.9,605.3 696.2,605.6 696.5,604.7 696.8,605.6 697.1,605.2 697.4,605.5 697.7,604.7 698.0,604.8 698.3,605.5 698.6,605.2 698.9,605.0 699.2,604.6 699.5,604.9 699.8,605.1 700.0,605.2 700.1,604.7 700.4,604.8 700.7,605.1 701.0,604.5 701.3,605.3 701.6,604.9 701.9,604.9 702.2,603.9 702.5,604.3 702.8,604.6 703.1,604.8 703.4,604.6 703.7,605.2 704.0,605.1 704.3,605.0 704.6,604.2 704.9,605.7 705.2,605.0 705.5,605.4 705.8,604.9 706.1,605.2 706.4,605.5 706.7,605.4 707.0,605.7 707.3,605.2 707.6,606.2 707.9,604.5 708.2,605.1 708.5,605.8 708.8,605.3 709.1,605.2 709.4,604.6 709.7,605.9 710.0,604.6 710.0,605.6 710.3,605.5 710.6,605.8 710.9,606.0 711.2,605.1 711.5,605.0 711.8,605.3 712.1,604.7 712.4,605.7 712.7,605.2 713.0,605.5 713.3,604.9 713.6,605.4 713.9,605.1 714.0,605.4 714.2,604.9 714.5,605.7 714.8,604.9 715.1,603.9 715.4,605.1 715.7,604.5 716.0,604.1 716.3,605.3 716.6,604.0 716.9,603.3 717.2,603.4 717.5,603.7 717.8,603.4 718.0,604.0 718.1,603.9 718.4,603.2 718.7,603.7 719.0,604.1 719.3,603.9 719.6,604.1 719.9,604.9 720.2,605.0 720.5,604.5 720.8,605.1 721.1,605.3 721.4,605.6 721.7,605.5 722.0,606.5 722.0,605.5 722.3,605.5 722.6,606.0 722.9,605.0 723.2,605.6 723.5,606.3 723.8,605.5 724.1,605.7 724.4,606.6 724.7,606.3 725.0,606.2 725.3,606.3 725.6,605.9 725.9,606.3 726.2,606.1 726.5,607.3 726.8,606.5 727.1,606.1 727.4,606.3 727.7,606.3 728.0,605.7 728.3,606.0 728.6,607.0 728.9,605.7 729.2,606.1 729.5,606.8 729.8,607.0 730.0,606.0 730.1,607.0 730.4,606.3 730.7,607.1 731.0,606.6 731.3,606.3 731.6,606.8 731.9,606.7 732.2,606.2 732.5,607.4 732.8,606.4 733.1,607.0 733.4,606.3 733.7,605.8 734.0,606.1 734.3,606.5 734.6,606.9 734.9,607.3 735.2,606.6 735.5,606.5 735.8,606.1 736.1,606.6 736.4,606.8 736.7,605.7 737.0,607.2 737.3,607.1 737.6,607.6 737.9,606.3 738.2,606.7 738.5,606.7 738.8,606.1 739.1,606.4 739.4,606.3 739.7,606.9 740.0,606.9 740.3,607.3 740.6,606.6 740.9,606.2 741.2,607.0 741.5,606.9 741.8,607.1 742.1,607.3 742.4,606.6 742.7,607.2 743.0,606.4 743.3,606.9 743.6,607.1 743.9,606.8 744.2,607.0 744.5,606.3 744.8,606.6 745.0,607.0 745.1,606.4 745.4,606.5 745.7,607.9 746.0,607.0 746.3,606.6 746.6,606.5 746.9,607.5 747.2,605.8 747.5,606.8 747.8,607.2 748.1,606.7 748.4,607.2 748.7,606.6 749.0,607.0 749.3,607.0 749.6,607.0 749.9,607.1 750.2,607.1 750.5,607.5 750.8,607.0 751.1,606.9 751.4,607.0 751.7,607.0 752.0,606.5 752.3,606.3 752.6,606.6 752.9,607.3 753.2,606.9 753.5,607.0 753.8,608.4 754.1,607.7 754.4,607.1 754.7,607.0 755.0,607.8 755.3,606.9 755.6,607.8 755.9,607.5 756.2,607.9 756.5,607.0 756.8,607.7 757.1,606.5 757.4,607.2 757.7,607.8 758.0,607.6 758.3,606.6 758.6,607.6 758.9,607.5 759.2,607.3 759.5,607.0 759.8,607.2 760.0,607.1 760.1,607.7 760.4,607.5 760.7,607.8 761.0,607.6 761.3,606.8 761.6,607.4 761.9,608.2 762.2,606.9 762.5,607.5 762.8,607.0 763.1,607.0 763.4,607.4 763.7,607.7 764.0,607.7 764.3,607.5 764.6,607.7 764.9,606.7 765.2,607.7 765.5,607.5 765.8,607.3 766.1,607.3 766.4,607.0 766.7,607.8 767.0,607.0 767.3,606.7 767.6,607.3 767.9,607.1 768.2,607.3 768.5,608.0 768.8,607.3 769.1,607.4 769.4,608.3 769.7,606.7 770.0,607.5 770.3,607.8 770.6,608.0 770.9,608.3 771.2,607.1 771.5,607.6 771.8,607.3 772.1,607.2 772.4,607.0 772.7,606.7 773.0,607.5 773.3,607.7 773.6,606.9 773.9,607.7 774.2,607.1 774.5,606.9 774.8,606.2 775.1,607.8 775.4,607.6 775.7,607.2 776.0,607.2 776.3,606.8 776.6,607.6 776.9,607.3 777.2,607.6 777.5,607.4 777.8,606.8 778.1,606.7 778.4,607.5 778.7,606.6 779.0,607.5 779.3,607.7 779.6,606.8 779.9,607.6 780.0,607.4 780.2,607.6 780.5,607.1 780.8,607.4 781.1,607.5 781.4,608.1 781.7,607.7 782.0,607.6 782.3,606.8 782.6,607.5 782.9,607.1 783.2,607.4 783.5,607.5 783.8,607.8 784.1,607.7 784.4,607.5 784.7,607.4 785.0,608.0 785.3,607.1 785.6,607.5 785.9,608.0 786.2,607.4 786.5,607.8 786.8,607.8 787.1,608.3 787.4,608.0 787.7,606.8 788.0,607.5 788.3,607.6 788.6,607.8 788.9,607.7 789.2,608.3 789.5,608.0 789.8,607.0 790.1,607.3 790.4,606.7 790.7,608.3 791.0,607.5 791.3,607.5 791.6,606.9 791.9,607.4 792.2,607.7 792.5,607.4 792.8,607.4 793.1,607.3 793.4,608.4 793.7,607.3 794.0,607.0 794.3,607.4 794.6,607.4 794.9,607.5 795.2,607.5 795.5,607.1 795.8,607.5 796.1,607.8 796.4,607.0 796.7,608.4 797.0,608.3 797.3,606.8 797.6,607.5 797.9,608.0 798.2,608.2 798.5,608.4 798.8,606.8 799.1,607.1 799.4,607.4 799.7,607.9 800.0,607.2 800.0,607.8 800.3,607.8 800.6,607.9 800.9,607.1 801.2,607.7 801.5,607.7 801.8,607.5 802.1,608.2 802.4,607.5 802.7,608.2 803.0,607.4 803.3,608.4 803.6,608.3 803.9,607.3 804.2,607.8 804.5,607.8 804.8,607.2 805.1,608.0 805.4,607.9 805.7,607.3 806.0,607.7 806.3,608.0 806.6,607.6 806.9,607.4 807.2,608.4 807.5,607.2 807.8,607.8 808.1,608.1 808.4,608.0 808.7,606.9 809.0,607.5 809.3,607.6 809.6,607.6 809.9,607.9 810.2,607.9 810.5,607.7 810.8,607.8 811.1,608.1 811.4,608.2 811.7,606.9 812.0,608.6 812.3,607.5 812.6,608.0 812.9,607.0 813.2,607.5 813.5,607.2 813.8,608.1 814.1,608.1 814.4,607.7 814.7,607.6 815.0,607.9 815.3,607.3 815.6,607.4 815.9,607.4 816.2,608.0 816.5,607.7 816.8,607.2 817.1,607.8 817.4,607.9 817.7,608.3 818.0,607.5 818.3,607.9 818.6,608.6 818.9,607.6 819.2,607.5 819.5,607.9 819.8,607.5 820.0,607.7 820.1,607.5 820.4,607.4 820.7,608.1 821.0,607.5 821.3,607.3 821.6,607.6 821.9,607.6 822.2,607.8 822.5,608.1 822.8,608.4 823.1,607.2 823.4,607.6 823.7,606.9 824.0,607.8 824.3,607.9 824.6,607.4 824.9,607.3 825.2,607.3 825.5,607.1 825.8,607.9 826.1,608.5 826.4,607.2 826.7,608.4 827.0,607.6 827.3,607.1 827.6,607.9 827.9,608.0 828.2,607.8 828.5,607.6 828.8,608.4 829.1,607.6 829.4,607.9 829.7,607.9 830.0,607.3 830.3,606.9 830.6,606.9 830.9,607.5 831.2,607.8 831.5,606.9 831.8,607.4 832.1,608.3 832.4,606.9 832.7,607.9 833.0,607.8 833.3,608.0 833.6,607.0 833.9,607.8 834.2,607.1 834.5,608.2 834.8,607.3 835.1,607.8 835.4,607.3 835.7,607.7 836.0,607.0 836.3,607.8 836.6,607.9 836.9,607.7 837.2,608.3 837.5,607.8 837.8,608.0 838.1,607.9 838.4,608.4 838.7,607.4 839.0,607.5 839.3,607.6 839.6,607.9 839.9,607.8 840.0,608.0 840.2,607.8 840.5,607.4 840.8,607.6 841.1,607.9 841.4,606.7 841.7,608.3 842.0,607.4 842.3,607.5 842.6,607.8 842.9,607.6 843.2,607.1 843.5,607.6 843.8,608.3 844.1,608.2 844.4,608.3 844.7,607.5 845.0,607.7 845.3,608.2 845.6,608.4 845.9,607.8 846.2,607.4 846.5,607.0 846.8,608.5 847.1,607.2 847.4,608.1 847.7,608.3 848.0,609.3 848.3,608.0 848.6,607.9 848.9,608.2 849.2,608.2 849.5,608.6 849.8,608.3 850.1,607.7 850.4,607.2 850.7,608.2 851.0,607.8 851.3,608.7 851.6,607.6 851.9,608.2 852.2,607.9 852.5,607.8 852.8,608.9 853.1,608.3 853.4,608.1 853.7,608.5 854.0,607.9 854.3,608.1 854.6,608.0 854.9,609.1 855.2,608.4 855.5,608.6 855.8,608.8 856.1,608.3 856.4,608.3 856.7,607.7 857.0,608.6 857.3,608.5 857.6,608.2 857.9,608.9 858.2,607.6 858.5,608.6 858.8,607.8 859.1,607.9 859.4,608.3 859.7,609.0 860.0,607.9 860.0,608.0 860.3,607.9 860.6,609.3 860.9,608.6 861.2,608.6 861.5,609.3 861.8,608.5 862.1,607.5 862.4,608.2 862.7,607.9 863.0,609.3 863.3,607.8 863.6,608.5 863.9,608.2 864.2,608.2 864.5,608.4 864.8,608.3 865.1,608.1 865.4,607.9 865.7,608.1 866.0,608.0 866.3,608.0 866.6,608.4 866.9,608.3 867.2,608.6 867.5,608.3 867.8,609.2 868.1,608.1 868.4,608.0 868.7,608.8 869.0,608.1 869.3,608.4 869.6,608.8 869.9,608.4 870.2,608.2 870.5,608.8 870.8,608.5 871.1,608.2 871.4,607.9 871.7,608.2 872.0,607.7 872.3,608.0 872.6,607.9 872.9,608.5 873.2,608.7 873.5,608.1 873.8,608.2 874.1,607.9 874.4,607.8 874.7,608.2 875.0,608.6 875.0,608.6 875.3,608.6 875.6,608.3 875.9,607.2 876.2,608.7 876.5,608.9 876.8,608.7 877.1,608.6 877.4,608.7 877.7,609.3 878.0,608.2 878.3,608.7 878.6,608.3 878.9,608.2 879.2,607.7 879.5,607.6 879.8,607.2 880.1,607.8 880.4,607.3 880.7,606.8 881.0,606.9 881.3,606.6 881.6,607.7 881.9,606.8 882.0,606.9 882.2,606.3 882.5,606.2 882.8,606.8 883.1,606.0 883.4,605.9 883.7,606.2 884.0,606.0 884.3,605.1 884.6,604.6 884.9,604.2 885.2,603.6 885.5,604.3 885.8,602.6 886.0,603.0 886.1,602.1 886.4,602.2 886.7,602.6 887.0,602.4 887.3,602.1 887.6,601.7 887.9,601.3 888.2,601.3 888.5,601.3 888.8,601.9 888.8,602.0 889.1,601.7 889.4,601.5 889.7,601.7 890.0,602.7 890.3,602.9 890.6,602.7 890.9,604.5 891.2,604.3 891.4,604.4 891.5,604.2 891.8,604.5 892.1,605.6 892.4,605.1 892.7,605.8 893.0,606.3 893.3,607.0 893.6,606.7 893.9,606.6 894.2,606.6 894.5,607.3 894.5,607.3 894.8,606.8 895.1,607.3 895.4,607.1 895.7,606.5 896.0,606.8 896.3,607.6 896.6,607.9 896.9,607.7 897.2,607.3 897.5,607.2 897.8,607.7 898.1,607.7 898.4,606.9 898.7,607.9 899.0,607.3 899.3,607.9 899.6,607.9 899.9,608.0 900.0,608.2 900.2,608.0 900.5,607.3 900.8,607.3 901.1,608.2 901.4,608.0 901.7,607.1 902.0,607.0 902.3,608.2 902.6,608.8 902.9,608.2 903.2,607.8 903.5,608.0 903.8,606.8 904.1,607.5 904.4,608.4 904.7,608.3 905.0,607.1 905.3,608.5 905.6,608.2 905.9,608.4 906.2,608.0 906.5,608.1 906.8,607.6 907.1,608.2 907.4,608.5 907.7,607.7 908.0,608.3 908.3,607.9 908.6,608.6 908.9,608.6 909.2,607.2 909.5,608.4 909.8,608.6 910.1,608.0 910.4,608.1 910.7,608.2 911.0,607.8 911.3,608.2 911.6,608.9 911.9,608.5 912.2,608.9 912.5,608.7 912.8,608.8 913.1,608.4 913.4,608.6 913.7,609.2 914.0,608.9 914.3,608.5 914.6,608.1 914.9,608.0 915.2,608.5 915.5,608.5 915.8,607.6 916.1,608.5 916.4,608.5 916.7,608.5 917.0,608.2 917.3,609.4 917.6,608.8 917.9,607.8 918.2,608.1 918.5,608.7 918.8,608.6 919.1,608.5 919.4,608.4 919.7,608.3 920.0,608.2 920.0,608.0 920.3,608.6 920.6,607.2 920.9,608.1 921.2,608.9 921.5,608.1 921.8,607.9 922.1,609.2 922.4,608.8 922.7,608.3 923.0,608.1 923.3,608.3 923.6,608.2 923.9,608.2 924.2,608.0 924.5,608.6 924.8,608.1 925.1,607.5 925.4,607.8 925.7,608.3 926.0,607.9 926.3,607.2 926.6,608.9 926.9,608.5 927.2,608.0 927.5,608.0 927.8,608.4 928.1,608.8 928.4,607.9 928.7,608.3 929.0,607.9 929.3,608.3 929.6,607.7 929.9,607.4 930.2,608.2 930.5,608.1 930.8,608.4 931.1,607.8 931.4,608.6 931.7,608.1 932.0,608.7 932.3,607.9 932.6,608.6 932.9,608.0 933.2,608.0 933.5,608.4 933.8,607.2 934.1,607.5 934.4,608.7 934.7,607.3 935.0,607.7 935.3,608.1 935.6,608.5 935.9,607.7 936.2,607.9 936.5,607.4 936.8,607.7 937.1,608.3 937.4,608.0 937.7,607.8 938.0,608.0 938.3,607.9 938.6,607.9 938.9,607.6 939.2,607.4 939.5,608.0 939.8,607.3 940.1,608.2 940.4,608.6 940.7,608.4 941.0,608.7 941.3,607.3 941.6,607.8 941.9,607.4 942.2,607.4 942.5,607.0 942.8,607.2 943.1,608.0 943.4,608.0 943.7,608.2 944.0,608.2 944.3,608.0 944.6,607.4 944.9,607.6 945.0,608.0 945.2,608.2 945.5,607.5 945.8,607.5 946.1,607.5 946.4,608.4 946.7,608.0 947.0,607.7 947.3,607.5 947.6,608.1 947.9,607.2 948.2,607.9 948.5,607.8 948.8,607.8 949.1,608.2 949.4,608.3 949.7,609.5 950.0,608.3 950.3,608.6 950.6,608.0 950.9,607.7 951.0,608.9"/>
</g>
<rect x="64" y="13.9" width="933" height="612.1" fill="none" stroke="#939393" stroke-width="1.4"/>
<g stroke="#aaa" stroke-width="1"><line x1="63.80" y1="626" x2="63.80" y2="633"/><line x1="157.12" y1="626" x2="157.12" y2="633"/><line x1="250.44" y1="626" x2="250.44" y2="633"/><line x1="343.76" y1="626" x2="343.76" y2="633"/><line x1="437.08" y1="626" x2="437.08" y2="633"/><line x1="530.40" y1="626" x2="530.40" y2="633"/><line x1="623.72" y1="626" x2="623.72" y2="633"/><line x1="717.04" y1="626" x2="717.04" y2="633"/><line x1="810.36" y1="626" x2="810.36" y2="633"/><line x1="903.68" y1="626" x2="903.68" y2="633"/><line x1="997.00" y1="626" x2="997.00" y2="633"/></g>
<text id="t001" x="129.14" y="159.50" font-size="22.5" textLength="49.75" lengthAdjust="spacingAndGlyphs">(001)</text>
<text id="t002" x="319.07" y="88.60" font-size="22.5" textLength="49.58" lengthAdjust="spacingAndGlyphs">(002)</text>
<text id="t100" x="434.35" y="203.20" font-size="22.5" textLength="50.04" lengthAdjust="spacingAndGlyphs">(100)</text>
<text id="t101" x="481.72" y="147.40" font-size="22.5" textLength="50.21" lengthAdjust="spacingAndGlyphs">(101)</text>
<text id="t004" x="595.01" y="71.30" font-size="22.5" textLength="49.29" lengthAdjust="spacingAndGlyphs">(004)</text>
<text id="t103" x="650.01" y="203.00" font-size="22.5" textLength="49.29" lengthAdjust="spacingAndGlyphs">(103)</text>
<text id="t006" x="859.37" y="194.20" font-size="22.5" textLength="49.92" lengthAdjust="spacingAndGlyphs">(006)</text>
<text id="tg" x="747.98" y="221.20" font-size="20.5" textLength="78.30" lengthAdjust="spacingAndGlyphs">graphite</text>
<text id="tgo" x="718.32" y="389.70" font-size="20.5" textLength="136.85" lengthAdjust="spacingAndGlyphs">graphite oxide</text>
<text id="tgno" x="713.31" y="583.10" font-size="20.5" textLength="149.44" lengthAdjust="spacingAndGlyphs">graphene oxide</text>
<text id="x5" x="57.96" y="664.30" font-size="22.5" textLength="12.24" lengthAdjust="spacingAndGlyphs">5</text>
<text id="x15" x="146.19" y="664.30" font-size="22.5" textLength="23.41" lengthAdjust="spacingAndGlyphs">15</text>
<text id="x25" x="239.20" y="664.30" font-size="22.5" textLength="24.06" lengthAdjust="spacingAndGlyphs">25</text>
<text id="x35" x="333.03" y="664.30" font-size="22.5" textLength="23.40" lengthAdjust="spacingAndGlyphs">35</text>
<text id="x45" x="427.15" y="664.30" font-size="22.5" textLength="22.79" lengthAdjust="spacingAndGlyphs">45</text>
<text id="x55" x="519.68" y="664.30" font-size="22.5" textLength="23.39" lengthAdjust="spacingAndGlyphs">55</text>
<text id="x65" x="613.15" y="664.30" font-size="22.5" textLength="23.27" lengthAdjust="spacingAndGlyphs">65</text>
<text id="x75" x="706.65" y="664.30" font-size="22.5" textLength="23.31" lengthAdjust="spacingAndGlyphs">75</text>
<text id="x85" x="800.16" y="664.30" font-size="22.5" textLength="23.20" lengthAdjust="spacingAndGlyphs">85</text>
<text id="x95" x="893.65" y="664.30" font-size="22.5" textLength="23.29" lengthAdjust="spacingAndGlyphs">95</text>
<text id="x105" x="980.73" y="664.30" font-size="22.5" textLength="34.96" lengthAdjust="spacingAndGlyphs">105</text>
<text id="xlab" font-size="22.5" x="501.66" y="705.8" textLength="58.11" lengthAdjust="spacingAndGlyphs"><tspan font-weight="bold">2</tspan>Θ (<tspan font-size="15" dy="-10.5">o</tspan><tspan dy="10.5">)</tspan></text>
<text id="ylab" font-size="21.5" font-weight="bold" transform="translate(23.6,0) rotate(-90)" x="-394.42" y="0" textLength="148.26" lengthAdjust="spacingAndGlyphs">Intensity (a.u.)</text>
</g>
</svg>
</body></html>
